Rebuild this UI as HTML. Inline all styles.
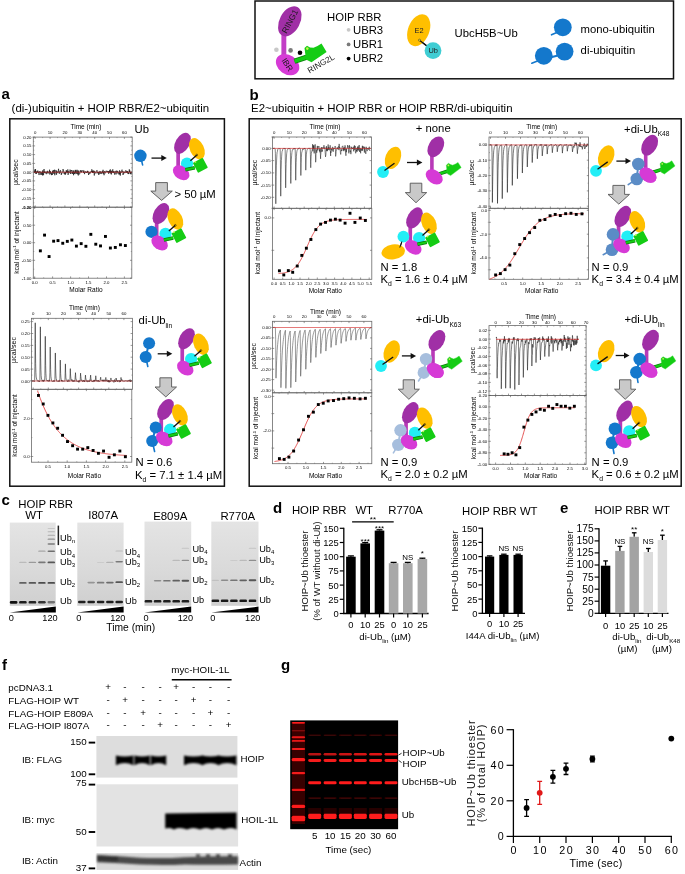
<!DOCTYPE html>
<html><head><meta charset="utf-8"><title>Figure</title>
<style>html,body{margin:0;padding:0;background:#fff;}svg{display:block;}text{font-family:"Liberation Sans", Arial, Helvetica, sans-serif;}</style>
</head><body>
<svg width="685" height="874" viewBox="0 0 685 874">
<rect width="685" height="874" fill="#fff"/>
<rect x="255" y="1" width="418.5" height="77.8" fill="none" stroke="#111" stroke-width="1.5"/>
<rect x="281.4" y="34" width="4.9" height="21.5" fill="#c23ec6"/>
<g transform="translate(289.8,21.3) rotate(28)"><ellipse rx="10.2" ry="16.2" fill="#a02fa6"/><text transform="rotate(-90)" font-size="8.3" text-anchor="middle" y="3.0" fill="#1a1a1a">RING1</text></g>
<g transform="translate(287.6,64.6) rotate(35)"><ellipse rx="12.6" ry="9.6" fill="#d63ad6"/><text font-size="8.3" text-anchor="middle" y="3.0" fill="#1a1a1a" transform="rotate(22)">IBR</text></g>
<circle cx="276.4" cy="49.8" r="2.3" fill="#c8c8c8"/>
<circle cx="290.6" cy="50.4" r="2.3" fill="#7a7a7a"/>
<circle cx="300.0" cy="52.8" r="2.3" fill="#000"/>
<line x1="294.5" y1="61.2" x2="306.5" y2="57.2" stroke="#0a7a0a" stroke-width="5.2"/>
<line x1="294.5" y1="61.2" x2="306.5" y2="57.2" stroke="#14cc14" stroke-width="3.6"/>
<path d="M304.5,48.0 L307.0,45.8 L310.0,47.4 L313.5,47.8 L317.5,46.0 L321.5,43.6 L326.6,52.0 L311.5,62.2 L306.0,59.6Z" fill="#14cc14"/>
<circle cx="307.3" cy="48.6" r="1.3" fill="#c8f050"/>
<text transform="translate(309.6,73.4) rotate(-30)" font-size="8.2" fill="#1a1a1a">RING2L</text>
<text x="327.0" y="20.8" font-size="11.3">HOIP RBR</text>
<circle cx="348.6" cy="29.8" r="1.9" fill="#c8c8c8"/>
<text x="353.0" y="33.6" font-size="11.3">UBR3</text>
<circle cx="348.6" cy="44.4" r="1.9" fill="#7a7a7a"/>
<text x="353.0" y="48.2" font-size="11.3">UBR1</text>
<circle cx="348.6" cy="58.6" r="1.9" fill="#000"/>
<text x="353.0" y="62.4" font-size="11.3">UBR2</text>
<line x1="419.5" y1="40.2" x2="431" y2="49" stroke="#111" stroke-width="1.1"/>
<ellipse cx="0" cy="0" rx="10.6" ry="16.6" fill="#ffbf00" transform="translate(418.70,30.20) rotate(22)"/>
<text x="419.0" y="32.8" font-size="7.4" text-anchor="middle" fill="#222">E2</text>
<line x1="419.5" y1="40.2" x2="428" y2="47" stroke="#111" stroke-width="1.1"/>
<circle cx="419.5" cy="40.2" r="1.1" fill="#e8d020" stroke="#333" stroke-width="0.5"/>
<circle cx="433" cy="50.6" r="8.4" fill="#3fcdd3"/>
<text x="433.2" y="53.2" font-size="7.4" text-anchor="middle" fill="#222">Ub</text>
<text x="454.6" y="37.3" font-size="11.3">UbcH5B~Ub</text>
<line x1="558" y1="32" x2="551.5" y2="34.8" stroke="#1478cc" stroke-width="1.6" stroke-linecap="round"/>
<circle cx="562.8" cy="27.3" r="8.9" fill="#1478cc"/>
<text x="580.6" y="32.6" font-size="11.3">mono-ubiquitin</text>
<line x1="540" y1="60" x2="531.8" y2="63.2" stroke="#1478cc" stroke-width="1.6" stroke-linecap="round"/>
<line x1="548" y1="58" x2="560" y2="55" stroke="#1478cc" stroke-width="2"/>
<circle cx="543.8" cy="55.8" r="8.9" fill="#1478cc"/>
<circle cx="564.6" cy="51.6" r="8.9" fill="#1478cc"/>
<text x="580.6" y="54.4" font-size="11.3">di-ubiquitin</text>
<text x="1.6" y="98.6" font-size="15" font-weight="bold" fill="#000">a</text>
<text x="11.6" y="111.7" font-size="11.45">(di-)ubiquitin + HOIP RBR/E2~ubiquitin</text>
<rect x="9.8" y="118.8" width="214.6" height="367.4" fill="none" stroke="#111" stroke-width="1.5"/>
<rect x="33.3" y="137.1" width="98.9" height="70.1" fill="none" stroke="#6a6a6a" stroke-width="0.8"/>
<line x1="33.3" y1="137.1" x2="35.1" y2="137.1" stroke="#555" stroke-width="0.6"/>
<line x1="32.1" y1="137.1" x2="33.3" y2="137.1" stroke="#777" stroke-width="0.5"/>
<line x1="130.4" y1="137.1" x2="132.2" y2="137.1" stroke="#555" stroke-width="0.6"/>
<text x="31.5" y="138.6" font-size="4.3" text-anchor="end" fill="#000">0.20</text>
<line x1="33.3" y1="145.9" x2="35.1" y2="145.9" stroke="#555" stroke-width="0.6"/>
<line x1="32.1" y1="145.9" x2="33.3" y2="145.9" stroke="#777" stroke-width="0.5"/>
<line x1="130.4" y1="145.9" x2="132.2" y2="145.9" stroke="#555" stroke-width="0.6"/>
<text x="31.5" y="147.4" font-size="4.3" text-anchor="end" fill="#000">0.15</text>
<line x1="33.3" y1="154.6" x2="35.1" y2="154.6" stroke="#555" stroke-width="0.6"/>
<line x1="32.1" y1="154.6" x2="33.3" y2="154.6" stroke="#777" stroke-width="0.5"/>
<line x1="130.4" y1="154.6" x2="132.2" y2="154.6" stroke="#555" stroke-width="0.6"/>
<text x="31.5" y="156.1" font-size="4.3" text-anchor="end" fill="#000">0.10</text>
<line x1="33.3" y1="163.4" x2="35.1" y2="163.4" stroke="#555" stroke-width="0.6"/>
<line x1="32.1" y1="163.4" x2="33.3" y2="163.4" stroke="#777" stroke-width="0.5"/>
<line x1="130.4" y1="163.4" x2="132.2" y2="163.4" stroke="#555" stroke-width="0.6"/>
<text x="31.5" y="164.9" font-size="4.3" text-anchor="end" fill="#000">0.05</text>
<line x1="33.3" y1="172.1" x2="35.1" y2="172.1" stroke="#555" stroke-width="0.6"/>
<line x1="32.1" y1="172.1" x2="33.3" y2="172.1" stroke="#777" stroke-width="0.5"/>
<line x1="130.4" y1="172.1" x2="132.2" y2="172.1" stroke="#555" stroke-width="0.6"/>
<text x="31.5" y="173.6" font-size="4.3" text-anchor="end" fill="#000">0.00</text>
<line x1="33.3" y1="180.9" x2="35.1" y2="180.9" stroke="#555" stroke-width="0.6"/>
<line x1="32.1" y1="180.9" x2="33.3" y2="180.9" stroke="#777" stroke-width="0.5"/>
<line x1="130.4" y1="180.9" x2="132.2" y2="180.9" stroke="#555" stroke-width="0.6"/>
<text x="31.5" y="182.4" font-size="4.3" text-anchor="end" fill="#000">-0.05</text>
<line x1="33.3" y1="189.7" x2="35.1" y2="189.7" stroke="#555" stroke-width="0.6"/>
<line x1="32.1" y1="189.7" x2="33.3" y2="189.7" stroke="#777" stroke-width="0.5"/>
<line x1="130.4" y1="189.7" x2="132.2" y2="189.7" stroke="#555" stroke-width="0.6"/>
<text x="31.5" y="191.2" font-size="4.3" text-anchor="end" fill="#000">-0.10</text>
<line x1="33.3" y1="198.4" x2="35.1" y2="198.4" stroke="#555" stroke-width="0.6"/>
<line x1="32.1" y1="198.4" x2="33.3" y2="198.4" stroke="#777" stroke-width="0.5"/>
<line x1="130.4" y1="198.4" x2="132.2" y2="198.4" stroke="#555" stroke-width="0.6"/>
<text x="31.5" y="199.9" font-size="4.3" text-anchor="end" fill="#000">-0.15</text>
<line x1="33.3" y1="207.2" x2="35.1" y2="207.2" stroke="#555" stroke-width="0.6"/>
<line x1="32.1" y1="207.2" x2="33.3" y2="207.2" stroke="#777" stroke-width="0.5"/>
<line x1="130.4" y1="207.2" x2="132.2" y2="207.2" stroke="#555" stroke-width="0.6"/>
<text x="31.5" y="208.7" font-size="4.3" text-anchor="end" fill="#000">-0.20</text>
<line x1="33.3" y1="141.5" x2="34.3" y2="141.5" stroke="#666" stroke-width="0.5"/>
<line x1="131.2" y1="141.5" x2="132.2" y2="141.5" stroke="#666" stroke-width="0.5"/>
<line x1="33.3" y1="150.2" x2="34.3" y2="150.2" stroke="#666" stroke-width="0.5"/>
<line x1="131.2" y1="150.2" x2="132.2" y2="150.2" stroke="#666" stroke-width="0.5"/>
<line x1="33.3" y1="159.0" x2="34.3" y2="159.0" stroke="#666" stroke-width="0.5"/>
<line x1="131.2" y1="159.0" x2="132.2" y2="159.0" stroke="#666" stroke-width="0.5"/>
<line x1="33.3" y1="167.8" x2="34.3" y2="167.8" stroke="#666" stroke-width="0.5"/>
<line x1="131.2" y1="167.8" x2="132.2" y2="167.8" stroke="#666" stroke-width="0.5"/>
<line x1="33.3" y1="176.5" x2="34.3" y2="176.5" stroke="#666" stroke-width="0.5"/>
<line x1="131.2" y1="176.5" x2="132.2" y2="176.5" stroke="#666" stroke-width="0.5"/>
<line x1="33.3" y1="185.3" x2="34.3" y2="185.3" stroke="#666" stroke-width="0.5"/>
<line x1="131.2" y1="185.3" x2="132.2" y2="185.3" stroke="#666" stroke-width="0.5"/>
<line x1="33.3" y1="194.1" x2="34.3" y2="194.1" stroke="#666" stroke-width="0.5"/>
<line x1="131.2" y1="194.1" x2="132.2" y2="194.1" stroke="#666" stroke-width="0.5"/>
<line x1="33.3" y1="202.8" x2="34.3" y2="202.8" stroke="#666" stroke-width="0.5"/>
<line x1="131.2" y1="202.8" x2="132.2" y2="202.8" stroke="#666" stroke-width="0.5"/>
<line x1="35.2" y1="137.1" x2="35.2" y2="138.9" stroke="#555" stroke-width="0.6"/>
<line x1="35.2" y1="205.4" x2="35.2" y2="207.2" stroke="#555" stroke-width="0.6"/>
<text x="35.2" y="133.9" font-size="4.3" text-anchor="middle" fill="#000">0</text>
<line x1="50.1" y1="137.1" x2="50.1" y2="138.9" stroke="#555" stroke-width="0.6"/>
<line x1="50.1" y1="205.4" x2="50.1" y2="207.2" stroke="#555" stroke-width="0.6"/>
<text x="50.1" y="133.9" font-size="4.3" text-anchor="middle" fill="#000">10</text>
<line x1="64.9" y1="137.1" x2="64.9" y2="138.9" stroke="#555" stroke-width="0.6"/>
<line x1="64.9" y1="205.4" x2="64.9" y2="207.2" stroke="#555" stroke-width="0.6"/>
<text x="64.9" y="133.9" font-size="4.3" text-anchor="middle" fill="#000">20</text>
<line x1="79.8" y1="137.1" x2="79.8" y2="138.9" stroke="#555" stroke-width="0.6"/>
<line x1="79.8" y1="205.4" x2="79.8" y2="207.2" stroke="#555" stroke-width="0.6"/>
<text x="79.8" y="133.9" font-size="4.3" text-anchor="middle" fill="#000">30</text>
<line x1="94.7" y1="137.1" x2="94.7" y2="138.9" stroke="#555" stroke-width="0.6"/>
<line x1="94.7" y1="205.4" x2="94.7" y2="207.2" stroke="#555" stroke-width="0.6"/>
<text x="94.7" y="133.9" font-size="4.3" text-anchor="middle" fill="#000">40</text>
<line x1="109.5" y1="137.1" x2="109.5" y2="138.9" stroke="#555" stroke-width="0.6"/>
<line x1="109.5" y1="205.4" x2="109.5" y2="207.2" stroke="#555" stroke-width="0.6"/>
<text x="109.5" y="133.9" font-size="4.3" text-anchor="middle" fill="#000">50</text>
<line x1="124.4" y1="137.1" x2="124.4" y2="138.9" stroke="#555" stroke-width="0.6"/>
<line x1="124.4" y1="205.4" x2="124.4" y2="207.2" stroke="#555" stroke-width="0.6"/>
<text x="124.4" y="133.9" font-size="4.3" text-anchor="middle" fill="#000">60</text>
<line x1="42.6" y1="137.1" x2="42.6" y2="138.1" stroke="#666" stroke-width="0.5"/>
<line x1="42.6" y1="206.2" x2="42.6" y2="207.2" stroke="#666" stroke-width="0.5"/>
<line x1="57.5" y1="137.1" x2="57.5" y2="138.1" stroke="#666" stroke-width="0.5"/>
<line x1="57.5" y1="206.2" x2="57.5" y2="207.2" stroke="#666" stroke-width="0.5"/>
<line x1="72.4" y1="137.1" x2="72.4" y2="138.1" stroke="#666" stroke-width="0.5"/>
<line x1="72.4" y1="206.2" x2="72.4" y2="207.2" stroke="#666" stroke-width="0.5"/>
<line x1="87.2" y1="137.1" x2="87.2" y2="138.1" stroke="#666" stroke-width="0.5"/>
<line x1="87.2" y1="206.2" x2="87.2" y2="207.2" stroke="#666" stroke-width="0.5"/>
<line x1="102.1" y1="137.1" x2="102.1" y2="138.1" stroke="#666" stroke-width="0.5"/>
<line x1="102.1" y1="206.2" x2="102.1" y2="207.2" stroke="#666" stroke-width="0.5"/>
<line x1="117.0" y1="137.1" x2="117.0" y2="138.1" stroke="#666" stroke-width="0.5"/>
<line x1="117.0" y1="206.2" x2="117.0" y2="207.2" stroke="#666" stroke-width="0.5"/>
<text x="85.9" y="129.3" font-size="6.5" text-anchor="middle" fill="#000">Time (min)</text>
<text transform="translate(18.2,172.2) rotate(-90)" font-size="7.0" text-anchor="middle" fill="#000">µcal/sec</text>
<path d="M34.30,170.67 L34.55,170.71 L34.80,173.07 L35.05,169.22 L35.30,172.01 L35.55,169.27 L35.80,173.63 L36.05,172.46 L36.30,173.96 L36.55,171.54 L36.80,172.72 L37.05,171.83 L37.30,171.24 L37.55,172.39 L37.80,170.57 L38.05,171.74 L38.30,173.11 L38.55,172.27 L38.80,171.67 L39.05,175.05 L39.30,172.28 L39.55,171.44 L39.80,172.41 L40.05,171.52 L40.30,171.70 L40.55,171.74 L40.80,174.83 L41.05,172.23 L41.30,172.43 L41.55,173.08 L41.80,174.82 L42.05,171.91 L42.30,171.39 L42.55,175.42 L42.80,170.30 L43.05,171.72 L43.30,173.07 L43.55,175.17 L43.80,170.97 L44.05,169.04 L44.30,173.06 L44.55,171.52 L44.80,171.70 L45.05,172.80 L45.30,172.49 L45.55,172.58 L45.80,171.64 L46.05,173.88 L46.30,174.16 L46.55,172.24 L46.80,171.61 L47.05,173.15 L47.30,172.82 L47.55,170.85 L47.80,171.60 L48.05,173.56 L48.30,172.07 L48.55,171.77 L48.80,172.48 L49.05,172.16 L49.30,172.20 L49.55,169.69 L49.80,174.47 L50.05,172.46 L50.30,171.06 L50.55,173.47 L50.80,172.60 L51.05,172.22 L51.30,173.56 L51.55,175.14 L51.80,172.92 L52.05,174.26 L52.30,175.00 L52.55,170.87 L52.80,171.52 L53.05,173.21 L53.30,169.98 L53.55,171.85 L53.80,173.88 L54.05,173.56 L54.30,172.95 L54.55,169.74 L54.80,175.26 L55.05,172.92 L55.30,173.20 L55.55,172.84 L55.80,169.97 L56.05,170.33 L56.30,170.62 L56.55,174.69 L56.80,171.12 L57.05,171.89 L57.30,171.87 L57.55,172.94 L57.80,172.85 L58.05,172.55 L58.30,170.56 L58.55,168.82 L58.80,172.42 L59.05,172.55 L59.30,173.80 L59.55,172.07 L59.80,171.41 L60.05,172.73 L60.30,170.18 L60.55,170.85 L60.80,170.89 L61.05,172.57 L61.30,174.92 L61.55,173.19 L61.80,173.68 L62.05,172.51 L62.30,172.56 L62.55,171.62 L62.80,171.83 L63.05,169.04 L63.30,170.64 L63.55,170.53 L63.80,173.29 L64.05,173.06 L64.30,173.68 L64.55,174.22 L64.80,171.80 L65.05,173.57 L65.30,174.74 L65.55,172.19 L65.80,173.61 L66.05,171.99 L66.30,170.10 L66.55,172.36 L66.80,171.13 L67.05,172.34 L67.30,171.60 L67.55,172.62 L67.80,169.42 L68.05,174.91 L68.30,173.97 L68.55,171.74 L68.80,171.02 L69.05,172.21 L69.30,173.08 L69.55,172.75 L69.80,172.72 L70.05,169.64 L70.30,170.73 L70.55,173.95 L70.80,172.51 L71.05,170.22 L71.30,171.07 L71.55,170.32 L71.80,170.87 L72.05,173.74 L72.30,171.91 L72.55,173.67 L72.80,172.45 L73.05,170.22 L73.30,171.35 L73.55,175.22 L73.80,171.19 L74.05,170.82 L74.30,173.83 L74.55,172.32 L74.80,172.19 L75.05,174.14 L75.30,169.87 L75.55,172.75 L75.80,170.80 L76.05,170.34 L76.30,171.12 L76.55,173.73 L76.80,172.01 L77.05,169.77 L77.30,170.73 L77.55,174.22 L77.80,173.56 L78.05,170.75 L78.30,175.42 L78.55,171.71 L78.80,170.61 L79.05,172.02 L79.30,173.44 L79.55,174.34 L79.80,173.57 L80.05,171.63 L80.30,171.45 L80.55,170.27 L80.80,172.10 L81.05,171.41 L81.30,172.53 L81.55,170.52 L81.80,171.51 L82.05,171.03 L82.30,170.60 L82.55,170.63 L82.80,170.85 L83.05,170.63 L83.30,172.96 L83.55,172.33 L83.80,170.44 L84.05,172.88 L84.30,172.58 L84.55,174.14 L84.80,171.94 L85.05,171.92 L85.30,171.28 L85.55,172.37 L85.80,172.86 L86.05,172.43 L86.30,171.86 L86.55,172.95 L86.80,172.32 L87.05,172.53 L87.30,170.96 L87.55,172.47 L87.80,170.87 L88.05,171.08 L88.30,172.41 L88.55,175.00 L88.80,173.53 L89.05,172.21 L89.30,171.96 L89.55,173.51 L89.80,174.04 L90.05,173.82 L90.30,171.95 L90.55,172.45 L90.80,171.76 L91.05,171.82 L91.30,171.06 L91.55,171.87 L91.80,169.34 L92.05,170.61 L92.30,172.77 L92.55,170.97 L92.80,172.92 L93.05,170.48 L93.30,171.71 L93.55,172.73 L93.80,170.82 L94.05,171.25 L94.30,175.49 L94.55,171.29 L94.80,171.26 L95.05,171.44 L95.30,172.24 L95.55,172.16 L95.80,173.51 L96.05,173.25 L96.30,171.66 L96.55,171.73 L96.80,170.32 L97.05,170.21 L97.30,171.22 L97.55,173.17 L97.80,172.36 L98.05,173.27 L98.30,173.45 L98.55,171.98 L98.80,174.99 L99.05,171.50 L99.30,171.37 L99.55,171.63 L99.80,173.71 L100.05,172.02 L100.30,171.22 L100.55,172.78 L100.80,173.71 L101.05,172.05 L101.30,171.86 L101.55,173.64 L101.80,173.51 L102.05,173.46 L102.30,171.18 L102.55,172.58 L102.80,172.68 L103.05,169.81 L103.30,173.80 L103.55,172.33 L103.80,171.75 L104.05,175.21 L104.30,172.39 L104.55,171.24 L104.80,172.12 L105.05,172.95 L105.30,173.28 L105.55,172.12 L105.80,171.05 L106.05,171.27 L106.30,171.11 L106.55,170.80 L106.80,172.17 L107.05,171.55 L107.30,172.27 L107.55,171.10 L107.80,171.05 L108.05,171.95 L108.30,171.74 L108.55,173.73 L108.80,171.00 L109.05,172.47 L109.30,172.15 L109.55,170.46 L109.80,173.17 L110.05,172.42 L110.30,169.41 L110.55,173.00 L110.80,173.44 L111.05,171.14 L111.30,174.45 L111.55,172.41 L111.80,170.67 L112.05,172.95 L112.30,171.72 L112.55,170.42 L112.80,169.35 L113.05,172.53 L113.30,171.22 L113.55,173.05 L113.80,172.71 L114.05,171.51 L114.30,171.50 L114.55,174.54 L114.80,174.46 L115.05,173.20 L115.30,171.73 L115.55,170.90 L115.80,171.69 L116.05,174.41 L116.30,172.81 L116.55,171.82 L116.80,170.57 L117.05,172.42 L117.30,171.04 L117.55,172.22 L117.80,173.18 L118.05,173.62 L118.30,172.39 L118.55,171.75 L118.80,172.50 L119.05,174.59 L119.30,172.70 L119.55,170.35 L119.80,174.26 L120.05,172.53 L120.30,175.58 L120.55,171.58 L120.80,172.08 L121.05,171.81 L121.30,172.70 L121.55,171.43 L121.80,170.25 L122.05,169.66 L122.30,172.04 L122.55,171.52 L122.80,171.43 L123.05,175.00 L123.30,173.25 L123.55,173.64 L123.80,171.54 L124.05,172.60 L124.30,171.92 L124.55,171.93 L124.80,173.19 L125.05,173.00 L125.30,172.60 L125.55,172.40 L125.80,170.29 L126.05,171.22 L126.30,172.70 L126.55,171.72 L126.80,171.17 L127.05,172.67 L127.30,170.98 L127.55,171.31 L127.80,173.37 L128.05,171.73 L128.30,174.09 L128.55,172.89 L128.80,173.27 L129.05,173.69 L129.30,169.35 L129.55,172.10 L129.80,170.50 L130.05,171.59 L130.30,172.06 L130.55,173.84 L130.80,172.14 L131.05,174.37 L131.30,171.51" fill="none" stroke="#111" stroke-width="0.65" stroke-linejoin="round"/>
<line x1="33.8" y1="172.2" x2="131.7" y2="172.2" stroke="#d42020" stroke-width="0.6"/>
<rect x="33.3" y="207.2" width="98.5" height="71.0" fill="none" stroke="#6a6a6a" stroke-width="0.8"/>
<line x1="33.3" y1="207.2" x2="35.1" y2="207.2" stroke="#555" stroke-width="0.6"/>
<line x1="32.1" y1="207.2" x2="33.3" y2="207.2" stroke="#777" stroke-width="0.5"/>
<line x1="130.0" y1="207.2" x2="131.8" y2="207.2" stroke="#555" stroke-width="0.6"/>
<text x="31.5" y="208.7" font-size="4.3" text-anchor="end" fill="#000">1.00</text>
<line x1="33.3" y1="225.2" x2="35.1" y2="225.2" stroke="#555" stroke-width="0.6"/>
<line x1="32.1" y1="225.2" x2="33.3" y2="225.2" stroke="#777" stroke-width="0.5"/>
<line x1="130.0" y1="225.2" x2="131.8" y2="225.2" stroke="#555" stroke-width="0.6"/>
<text x="31.5" y="226.7" font-size="4.3" text-anchor="end" fill="#000">0.50</text>
<line x1="33.3" y1="242.7" x2="35.1" y2="242.7" stroke="#555" stroke-width="0.6"/>
<line x1="32.1" y1="242.7" x2="33.3" y2="242.7" stroke="#777" stroke-width="0.5"/>
<line x1="130.0" y1="242.7" x2="131.8" y2="242.7" stroke="#555" stroke-width="0.6"/>
<text x="31.5" y="244.2" font-size="4.3" text-anchor="end" fill="#000">0.00</text>
<line x1="33.3" y1="260.3" x2="35.1" y2="260.3" stroke="#555" stroke-width="0.6"/>
<line x1="32.1" y1="260.3" x2="33.3" y2="260.3" stroke="#777" stroke-width="0.5"/>
<line x1="130.0" y1="260.3" x2="131.8" y2="260.3" stroke="#555" stroke-width="0.6"/>
<text x="31.5" y="261.8" font-size="4.3" text-anchor="end" fill="#000">-0.50</text>
<line x1="33.3" y1="278.2" x2="35.1" y2="278.2" stroke="#555" stroke-width="0.6"/>
<line x1="32.1" y1="278.2" x2="33.3" y2="278.2" stroke="#777" stroke-width="0.5"/>
<line x1="130.0" y1="278.2" x2="131.8" y2="278.2" stroke="#555" stroke-width="0.6"/>
<text x="31.5" y="279.7" font-size="4.3" text-anchor="end" fill="#000">-1.00</text>
<line x1="33.3" y1="216.2" x2="34.3" y2="216.2" stroke="#666" stroke-width="0.5"/>
<line x1="130.8" y1="216.2" x2="131.8" y2="216.2" stroke="#666" stroke-width="0.5"/>
<line x1="33.3" y1="233.9" x2="34.3" y2="233.9" stroke="#666" stroke-width="0.5"/>
<line x1="130.8" y1="233.9" x2="131.8" y2="233.9" stroke="#666" stroke-width="0.5"/>
<line x1="33.3" y1="251.5" x2="34.3" y2="251.5" stroke="#666" stroke-width="0.5"/>
<line x1="130.8" y1="251.5" x2="131.8" y2="251.5" stroke="#666" stroke-width="0.5"/>
<line x1="33.3" y1="269.2" x2="34.3" y2="269.2" stroke="#666" stroke-width="0.5"/>
<line x1="130.8" y1="269.2" x2="131.8" y2="269.2" stroke="#666" stroke-width="0.5"/>
<line x1="34.7" y1="207.2" x2="34.7" y2="209.0" stroke="#555" stroke-width="0.6"/>
<line x1="34.7" y1="276.4" x2="34.7" y2="278.2" stroke="#555" stroke-width="0.6"/>
<text x="34.7" y="283.8" font-size="4.3" text-anchor="middle" fill="#000">0.0</text>
<line x1="52.6" y1="207.2" x2="52.6" y2="209.0" stroke="#555" stroke-width="0.6"/>
<line x1="52.6" y1="276.4" x2="52.6" y2="278.2" stroke="#555" stroke-width="0.6"/>
<text x="52.6" y="283.8" font-size="4.3" text-anchor="middle" fill="#000">0.5</text>
<line x1="70.6" y1="207.2" x2="70.6" y2="209.0" stroke="#555" stroke-width="0.6"/>
<line x1="70.6" y1="276.4" x2="70.6" y2="278.2" stroke="#555" stroke-width="0.6"/>
<text x="70.6" y="283.8" font-size="4.3" text-anchor="middle" fill="#000">1.0</text>
<line x1="88.5" y1="207.2" x2="88.5" y2="209.0" stroke="#555" stroke-width="0.6"/>
<line x1="88.5" y1="276.4" x2="88.5" y2="278.2" stroke="#555" stroke-width="0.6"/>
<text x="88.5" y="283.8" font-size="4.3" text-anchor="middle" fill="#000">1.5</text>
<line x1="106.5" y1="207.2" x2="106.5" y2="209.0" stroke="#555" stroke-width="0.6"/>
<line x1="106.5" y1="276.4" x2="106.5" y2="278.2" stroke="#555" stroke-width="0.6"/>
<text x="106.5" y="283.8" font-size="4.3" text-anchor="middle" fill="#000">2.0</text>
<line x1="124.4" y1="207.2" x2="124.4" y2="209.0" stroke="#555" stroke-width="0.6"/>
<line x1="124.4" y1="276.4" x2="124.4" y2="278.2" stroke="#555" stroke-width="0.6"/>
<text x="124.4" y="283.8" font-size="4.3" text-anchor="middle" fill="#000">2.5</text>
<line x1="43.7" y1="207.2" x2="43.7" y2="208.2" stroke="#666" stroke-width="0.5"/>
<line x1="43.7" y1="277.2" x2="43.7" y2="278.2" stroke="#666" stroke-width="0.5"/>
<line x1="61.6" y1="207.2" x2="61.6" y2="208.2" stroke="#666" stroke-width="0.5"/>
<line x1="61.6" y1="277.2" x2="61.6" y2="278.2" stroke="#666" stroke-width="0.5"/>
<line x1="79.6" y1="207.2" x2="79.6" y2="208.2" stroke="#666" stroke-width="0.5"/>
<line x1="79.6" y1="277.2" x2="79.6" y2="278.2" stroke="#666" stroke-width="0.5"/>
<line x1="97.5" y1="207.2" x2="97.5" y2="208.2" stroke="#666" stroke-width="0.5"/>
<line x1="97.5" y1="277.2" x2="97.5" y2="278.2" stroke="#666" stroke-width="0.5"/>
<line x1="115.4" y1="207.2" x2="115.4" y2="208.2" stroke="#666" stroke-width="0.5"/>
<line x1="115.4" y1="277.2" x2="115.4" y2="278.2" stroke="#666" stroke-width="0.5"/>
<text x="85.9" y="291.6" font-size="6.5" text-anchor="middle" fill="#000">Molar Ratio</text>
<text transform="translate(18.6,242.5) rotate(-90)" font-size="6.7" text-anchor="middle" fill="#000">kcal mol<tspan font-size="4.2" dy="-2.3">-1</tspan><tspan dy="2.3"> of injectant</tspan></text>
<rect x="38.91" y="249.40" width="2.9" height="2.9" fill="#000"/>
<rect x="43.09" y="233.65" width="2.9" height="2.9" fill="#000"/>
<rect x="47.64" y="255.10" width="2.9" height="2.9" fill="#000"/>
<rect x="52.19" y="239.73" width="2.9" height="2.9" fill="#000"/>
<rect x="56.56" y="239.16" width="2.9" height="2.9" fill="#000"/>
<rect x="61.30" y="241.81" width="2.9" height="2.9" fill="#000"/>
<rect x="65.86" y="239.92" width="2.9" height="2.9" fill="#000"/>
<rect x="70.41" y="238.59" width="2.9" height="2.9" fill="#000"/>
<rect x="74.96" y="244.66" width="2.9" height="2.9" fill="#000"/>
<rect x="79.71" y="242.19" width="2.9" height="2.9" fill="#000"/>
<rect x="84.45" y="244.85" width="2.9" height="2.9" fill="#000"/>
<rect x="89.38" y="232.90" width="2.9" height="2.9" fill="#000"/>
<rect x="94.32" y="242.76" width="2.9" height="2.9" fill="#000"/>
<rect x="99.06" y="244.47" width="2.9" height="2.9" fill="#000"/>
<rect x="104.00" y="234.98" width="2.9" height="2.9" fill="#000"/>
<rect x="108.93" y="246.56" width="2.9" height="2.9" fill="#000"/>
<rect x="113.86" y="245.99" width="2.9" height="2.9" fill="#000"/>
<rect x="118.99" y="243.33" width="2.9" height="2.9" fill="#000"/>
<rect x="123.92" y="244.09" width="2.9" height="2.9" fill="#000"/>
<text x="134.6" y="132.5" font-size="11.3">Ub</text>
<line x1="140.4" y1="155.8" x2="142.6" y2="164.9" stroke="#1478cc" stroke-width="1.6" stroke-linecap="round"/>
<circle cx="140.4" cy="155.8" r="6.2" fill="#1478cc"/>
<line x1="151.5" y1="158.1" x2="162.8" y2="158.1" stroke="#111" stroke-width="1.3"/>
<path d="M166.8,158.1 L161.3,155.1 L161.3,161.1Z" fill="#111"/>
<rect x="176.3" y="151.3" width="3.7" height="15.5" fill="#b83ab8"/>
<ellipse cx="0" cy="0" rx="7.0" ry="11.5" fill="#a02fa6" transform="translate(182.45,143.35) rotate(30)"/>
<ellipse cx="0" cy="0" rx="7.0" ry="11.3" fill="#ffbf00" transform="translate(196.90,148.75) rotate(-25)"/>
<circle cx="187.0" cy="163.5" r="6.1" fill="#22eef6"/>
<ellipse cx="0" cy="0" rx="9.0" ry="6.5" fill="#d63ad6" transform="translate(181.15,172.75) rotate(35)"/>
<line x1="185.4" y1="169.8" x2="194.8" y2="167.7" stroke="#0a7a0a" stroke-width="3.6"/>
<line x1="185.4" y1="169.8" x2="194.8" y2="167.7" stroke="#14cc14" stroke-width="2.2"/>
<rect x="-5.6" y="-5.6" width="11.2" height="11.2" rx="0.8" fill="#14cc14" transform="translate(200.4,165.3) rotate(-28)"/>
<circle cx="195.4" cy="161.9" r="0.9" fill="#c8f050"/>
<line x1="190.4" y1="160.8" x2="196.6" y2="155.2" stroke="#111" stroke-width="1.3"/>
<circle cx="196.8" cy="155.0" r="0.9" fill="none" stroke="#111" stroke-width="0.5"/>
<path d="M155.7,182.6 L167.4,182.6 L167.4,191.1 L172.3,191.1 L161.6,200.4 L150.8,191.1 L155.7,191.1Z" fill="#c9c9c9" stroke="#555" stroke-width="0.9" stroke-linejoin="miter"/>
<text x="174.4" y="197.7" font-size="11.3">&gt; 50 µM</text>
<rect x="154.8" y="221.6" width="3.7" height="15.5" fill="#b83ab8"/>
<ellipse cx="0" cy="0" rx="7.0" ry="11.5" fill="#a02fa6" transform="translate(160.90,213.60) rotate(30)"/>
<ellipse cx="0" cy="0" rx="7.0" ry="11.3" fill="#ffbf00" transform="translate(175.35,219.00) rotate(-25)"/>
<line x1="151.5" y1="231.8" x2="151.5" y2="233.6" stroke="#1478cc" stroke-width="1.6" stroke-linecap="round"/>
<circle cx="151.5" cy="231.8" r="6.1" fill="#1478cc"/>
<circle cx="165.5" cy="233.8" r="6.1" fill="#22eef6"/>
<ellipse cx="0" cy="0" rx="9.0" ry="6.5" fill="#d63ad6" transform="translate(159.60,243.00) rotate(35)"/>
<line x1="163.9" y1="240.0" x2="173.2" y2="237.9" stroke="#0a7a0a" stroke-width="3.6"/>
<line x1="163.9" y1="240.0" x2="173.2" y2="237.9" stroke="#14cc14" stroke-width="2.2"/>
<rect x="-5.6" y="-5.6" width="11.2" height="11.2" rx="0.8" fill="#14cc14" transform="translate(178.9,235.6) rotate(-28)"/>
<circle cx="173.9" cy="232.2" r="0.9" fill="#c8f050"/>
<line x1="168.9" y1="231.1" x2="175.1" y2="225.5" stroke="#111" stroke-width="1.3"/>
<circle cx="175.3" cy="225.3" r="0.9" fill="none" stroke="#111" stroke-width="0.5"/>
<rect x="31.4" y="318.3" width="101.0" height="71.0" fill="none" stroke="#6a6a6a" stroke-width="0.8"/>
<line x1="31.4" y1="321.6" x2="33.2" y2="321.6" stroke="#555" stroke-width="0.6"/>
<line x1="30.2" y1="321.6" x2="31.4" y2="321.6" stroke="#777" stroke-width="0.5"/>
<line x1="130.6" y1="321.6" x2="132.4" y2="321.6" stroke="#555" stroke-width="0.6"/>
<text x="29.6" y="323.1" font-size="4.3" text-anchor="end" fill="#000">0.25</text>
<line x1="31.4" y1="333.5" x2="33.2" y2="333.5" stroke="#555" stroke-width="0.6"/>
<line x1="30.2" y1="333.5" x2="31.4" y2="333.5" stroke="#777" stroke-width="0.5"/>
<line x1="130.6" y1="333.5" x2="132.4" y2="333.5" stroke="#555" stroke-width="0.6"/>
<text x="29.6" y="335.0" font-size="4.3" text-anchor="end" fill="#000">0.20</text>
<line x1="31.4" y1="345.4" x2="33.2" y2="345.4" stroke="#555" stroke-width="0.6"/>
<line x1="30.2" y1="345.4" x2="31.4" y2="345.4" stroke="#777" stroke-width="0.5"/>
<line x1="130.6" y1="345.4" x2="132.4" y2="345.4" stroke="#555" stroke-width="0.6"/>
<text x="29.6" y="346.9" font-size="4.3" text-anchor="end" fill="#000">0.15</text>
<line x1="31.4" y1="357.2" x2="33.2" y2="357.2" stroke="#555" stroke-width="0.6"/>
<line x1="30.2" y1="357.2" x2="31.4" y2="357.2" stroke="#777" stroke-width="0.5"/>
<line x1="130.6" y1="357.2" x2="132.4" y2="357.2" stroke="#555" stroke-width="0.6"/>
<text x="29.6" y="358.7" font-size="4.3" text-anchor="end" fill="#000">0.10</text>
<line x1="31.4" y1="369.1" x2="33.2" y2="369.1" stroke="#555" stroke-width="0.6"/>
<line x1="30.2" y1="369.1" x2="31.4" y2="369.1" stroke="#777" stroke-width="0.5"/>
<line x1="130.6" y1="369.1" x2="132.4" y2="369.1" stroke="#555" stroke-width="0.6"/>
<text x="29.6" y="370.6" font-size="4.3" text-anchor="end" fill="#000">0.05</text>
<line x1="31.4" y1="381.0" x2="33.2" y2="381.0" stroke="#555" stroke-width="0.6"/>
<line x1="30.2" y1="381.0" x2="31.4" y2="381.0" stroke="#777" stroke-width="0.5"/>
<line x1="130.6" y1="381.0" x2="132.4" y2="381.0" stroke="#555" stroke-width="0.6"/>
<text x="29.6" y="382.5" font-size="4.3" text-anchor="end" fill="#000">0.00</text>
<line x1="31.4" y1="327.5" x2="32.4" y2="327.5" stroke="#666" stroke-width="0.5"/>
<line x1="131.4" y1="327.5" x2="132.4" y2="327.5" stroke="#666" stroke-width="0.5"/>
<line x1="31.4" y1="339.4" x2="32.4" y2="339.4" stroke="#666" stroke-width="0.5"/>
<line x1="131.4" y1="339.4" x2="132.4" y2="339.4" stroke="#666" stroke-width="0.5"/>
<line x1="31.4" y1="351.3" x2="32.4" y2="351.3" stroke="#666" stroke-width="0.5"/>
<line x1="131.4" y1="351.3" x2="132.4" y2="351.3" stroke="#666" stroke-width="0.5"/>
<line x1="31.4" y1="363.2" x2="32.4" y2="363.2" stroke="#666" stroke-width="0.5"/>
<line x1="131.4" y1="363.2" x2="132.4" y2="363.2" stroke="#666" stroke-width="0.5"/>
<line x1="31.4" y1="375.1" x2="32.4" y2="375.1" stroke="#666" stroke-width="0.5"/>
<line x1="131.4" y1="375.1" x2="132.4" y2="375.1" stroke="#666" stroke-width="0.5"/>
<line x1="33.2" y1="318.3" x2="33.2" y2="320.1" stroke="#555" stroke-width="0.6"/>
<line x1="33.2" y1="387.5" x2="33.2" y2="389.3" stroke="#555" stroke-width="0.6"/>
<text x="33.2" y="315.1" font-size="4.3" text-anchor="middle" fill="#000">0</text>
<line x1="48.3" y1="318.3" x2="48.3" y2="320.1" stroke="#555" stroke-width="0.6"/>
<line x1="48.3" y1="387.5" x2="48.3" y2="389.3" stroke="#555" stroke-width="0.6"/>
<text x="48.3" y="315.1" font-size="4.3" text-anchor="middle" fill="#000">10</text>
<line x1="63.4" y1="318.3" x2="63.4" y2="320.1" stroke="#555" stroke-width="0.6"/>
<line x1="63.4" y1="387.5" x2="63.4" y2="389.3" stroke="#555" stroke-width="0.6"/>
<text x="63.4" y="315.1" font-size="4.3" text-anchor="middle" fill="#000">20</text>
<line x1="78.6" y1="318.3" x2="78.6" y2="320.1" stroke="#555" stroke-width="0.6"/>
<line x1="78.6" y1="387.5" x2="78.6" y2="389.3" stroke="#555" stroke-width="0.6"/>
<text x="78.6" y="315.1" font-size="4.3" text-anchor="middle" fill="#000">30</text>
<line x1="93.7" y1="318.3" x2="93.7" y2="320.1" stroke="#555" stroke-width="0.6"/>
<line x1="93.7" y1="387.5" x2="93.7" y2="389.3" stroke="#555" stroke-width="0.6"/>
<text x="93.7" y="315.1" font-size="4.3" text-anchor="middle" fill="#000">40</text>
<line x1="108.8" y1="318.3" x2="108.8" y2="320.1" stroke="#555" stroke-width="0.6"/>
<line x1="108.8" y1="387.5" x2="108.8" y2="389.3" stroke="#555" stroke-width="0.6"/>
<text x="108.8" y="315.1" font-size="4.3" text-anchor="middle" fill="#000">50</text>
<line x1="123.9" y1="318.3" x2="123.9" y2="320.1" stroke="#555" stroke-width="0.6"/>
<line x1="123.9" y1="387.5" x2="123.9" y2="389.3" stroke="#555" stroke-width="0.6"/>
<text x="123.9" y="315.1" font-size="4.3" text-anchor="middle" fill="#000">60</text>
<line x1="40.8" y1="318.3" x2="40.8" y2="319.3" stroke="#666" stroke-width="0.5"/>
<line x1="40.8" y1="388.3" x2="40.8" y2="389.3" stroke="#666" stroke-width="0.5"/>
<line x1="55.9" y1="318.3" x2="55.9" y2="319.3" stroke="#666" stroke-width="0.5"/>
<line x1="55.9" y1="388.3" x2="55.9" y2="389.3" stroke="#666" stroke-width="0.5"/>
<line x1="71.0" y1="318.3" x2="71.0" y2="319.3" stroke="#666" stroke-width="0.5"/>
<line x1="71.0" y1="388.3" x2="71.0" y2="389.3" stroke="#666" stroke-width="0.5"/>
<line x1="86.1" y1="318.3" x2="86.1" y2="319.3" stroke="#666" stroke-width="0.5"/>
<line x1="86.1" y1="388.3" x2="86.1" y2="389.3" stroke="#666" stroke-width="0.5"/>
<line x1="101.2" y1="318.3" x2="101.2" y2="319.3" stroke="#666" stroke-width="0.5"/>
<line x1="101.2" y1="388.3" x2="101.2" y2="389.3" stroke="#666" stroke-width="0.5"/>
<line x1="116.4" y1="318.3" x2="116.4" y2="319.3" stroke="#666" stroke-width="0.5"/>
<line x1="116.4" y1="388.3" x2="116.4" y2="389.3" stroke="#666" stroke-width="0.5"/>
<text x="84.4" y="310.3" font-size="6.5" text-anchor="middle" fill="#000">Time (min)</text>
<text transform="translate(16.4,350.0) rotate(-90)" font-size="7.0" text-anchor="middle" fill="#000">µcal/sec</text>
<path d="M32.40,380.86 L32.65,381.28 L32.90,380.88 L33.15,380.83 L33.40,380.49 L33.65,380.88 L33.90,381.61 L34.15,381.23 L34.40,381.57 L34.65,381.14 L34.90,366.62 L35.15,334.17 L35.24,322.79 L35.40,343.52 L35.65,363.57 L35.90,372.52 L36.15,376.99 L36.40,377.97 L36.65,379.01 L36.90,380.01 L37.15,380.50 L37.40,381.05 L37.65,380.92 L37.90,381.26 L38.15,380.63 L38.40,381.16 L38.65,381.21 L38.90,380.63 L39.15,381.94 L39.40,381.31 L39.65,381.66 L39.90,380.66 L40.15,351.77 L40.36,326.83 L40.40,332.42 L40.65,357.25 L40.90,369.75 L41.15,375.46 L41.40,377.97 L41.65,379.11 L41.90,380.05 L42.15,381.35 L42.40,380.40 L42.65,381.06 L42.90,381.20 L43.15,380.16 L43.40,381.02 L43.65,381.71 L43.90,379.89 L44.15,380.82 L44.40,380.94 L44.65,380.55 L44.90,375.73 L45.15,350.60 L45.29,336.33 L45.40,347.19 L45.65,365.30 L45.90,373.46 L46.15,377.65 L46.40,379.90 L46.65,380.27 L46.90,380.61 L47.15,380.06 L47.40,381.23 L47.65,380.61 L47.90,380.72 L48.15,380.29 L48.40,380.46 L48.65,380.70 L48.90,381.71 L49.15,379.88 L49.40,380.20 L49.65,381.13 L49.90,372.56 L50.15,353.21 L50.23,347.02 L50.40,359.19 L50.65,369.45 L50.90,376.22 L51.15,378.16 L51.40,379.19 L51.65,380.95 L51.90,381.32 L52.15,380.95 L52.40,381.07 L52.65,381.21 L52.90,381.86 L53.15,381.33 L53.40,381.28 L53.65,381.30 L53.90,380.14 L54.15,381.70 L54.40,381.53 L54.65,381.29 L54.90,379.91 L55.15,365.14 L55.35,352.96 L55.40,357.09 L55.65,368.07 L55.90,375.06 L56.15,378.70 L56.40,378.88 L56.65,381.20 L56.90,380.97 L57.15,380.75 L57.40,381.10 L57.65,381.32 L57.90,381.05 L58.15,381.62 L58.40,380.63 L58.65,380.77 L58.90,381.57 L59.15,381.01 L59.40,380.52 L59.65,381.52 L59.90,378.77 L60.15,366.10 L60.28,360.09 L60.40,365.20 L60.65,373.56 L60.90,377.31 L61.15,379.07 L61.40,380.91 L61.65,380.01 L61.90,381.49 L62.15,380.20 L62.40,380.52 L62.65,381.32 L62.90,381.61 L63.15,381.47 L63.40,381.19 L63.65,381.08 L63.90,381.08 L64.15,381.32 L64.40,380.90 L64.65,381.15 L64.90,381.31 L65.15,373.70 L65.40,364.62 L65.41,363.89 L65.65,372.74 L65.90,377.91 L66.15,379.13 L66.40,379.76 L66.65,380.30 L66.90,380.75 L67.15,381.39 L67.40,380.76 L67.65,381.18 L67.90,382.00 L68.15,379.58 L68.40,380.38 L68.65,381.13 L68.90,381.22 L69.15,381.13 L69.40,380.76 L69.65,381.36 L69.90,380.92 L70.15,373.62 L70.34,368.64 L70.40,371.88 L70.65,376.08 L70.90,378.19 L71.15,379.72 L71.40,380.28 L71.65,380.67 L71.90,379.43 L72.15,380.66 L72.40,381.52 L72.65,380.34 L72.90,380.96 L73.15,381.52 L73.40,381.47 L73.65,381.82 L73.90,380.06 L74.15,380.81 L74.40,380.81 L74.65,381.34 L74.90,381.60 L75.15,377.07 L75.40,374.48 L75.46,372.68 L75.65,375.30 L75.90,378.98 L76.15,379.00 L76.40,380.52 L76.65,381.38 L76.90,380.78 L77.15,381.04 L77.40,381.41 L77.65,381.06 L77.90,380.94 L78.15,381.84 L78.40,381.57 L78.65,380.84 L78.90,382.43 L79.15,380.37 L79.40,381.50 L79.65,380.85 L79.90,381.07 L80.15,381.18 L80.40,376.56 L80.59,373.16 L80.65,374.78 L80.90,376.94 L81.15,378.59 L81.40,380.57 L81.65,380.09 L81.90,380.25 L82.15,380.10 L82.40,381.65 L82.65,381.39 L82.90,381.80 L83.15,380.48 L83.40,381.00 L83.65,380.37 L83.90,381.42 L84.15,381.87 L84.40,380.51 L84.65,381.86 L84.90,381.54 L85.15,379.87 L85.40,375.58 L85.52,375.06 L85.65,377.66 L85.90,378.93 L86.15,379.68 L86.40,380.74 L86.65,380.99 L86.90,381.71 L87.15,380.38 L87.40,381.60 L87.65,381.80 L87.90,381.79 L88.15,380.90 L88.40,380.59 L88.65,381.56 L88.90,381.06 L89.15,381.07 L89.40,381.78 L89.65,380.86 L89.90,379.74 L90.15,380.79 L90.40,377.28 L90.65,375.06 L90.65,375.59 L90.90,378.31 L91.15,379.26 L91.40,380.31 L91.65,381.12 L91.90,380.88 L92.15,381.65 L92.40,380.93 L92.65,381.55 L92.90,381.81 L93.15,381.88 L93.40,380.63 L93.65,381.48 L93.90,379.97 L94.15,380.40 L94.40,379.92 L94.65,381.59 L94.90,380.32 L95.15,380.99 L95.40,379.95 L95.65,377.13 L95.77,375.77 L95.90,377.08 L96.15,379.37 L96.40,381.12 L96.65,380.60 L96.90,381.09 L97.15,381.45 L97.40,380.84 L97.65,380.28 L97.90,380.68 L98.15,381.58 L98.40,380.09 L98.65,380.67 L98.90,381.55 L99.15,381.44 L99.40,381.00 L99.65,381.44 L99.90,381.09 L100.15,380.35 L100.40,378.89 L100.65,377.29 L100.70,377.20 L100.90,379.35 L101.15,379.63 L101.40,379.99 L101.65,380.32 L101.90,380.03 L102.15,380.87 L102.40,380.32 L102.65,381.19 L102.90,379.69 L103.15,381.18 L103.40,380.65 L103.65,379.93 L103.90,381.40 L104.15,380.85 L104.40,379.77 L104.65,380.52 L104.90,381.16 L105.15,380.75 L105.40,381.23 L105.65,379.24 L105.83,377.44 L105.90,378.49 L106.15,379.77 L106.40,381.04 L106.65,381.03 L106.90,381.08 L107.15,379.77 L107.40,381.45 L107.65,381.70 L107.90,380.83 L108.15,380.74 L108.40,382.06 L108.65,380.03 L108.90,381.26 L109.15,382.33 L109.40,380.49 L109.65,381.38 L109.90,382.04 L110.15,380.93 L110.40,381.31 L110.65,380.54 L110.90,377.96 L110.95,378.15 L111.15,379.35 L111.40,380.38 L111.65,381.07 L111.90,380.79 L112.15,380.80 L112.40,380.40 L112.65,380.78 L112.90,381.48 L113.15,381.05 L113.40,380.53 L113.65,380.54 L113.90,382.43 L114.15,381.63 L114.40,381.35 L114.65,379.57 L114.90,381.34 L115.15,381.26 L115.40,381.93 L115.65,381.06 L115.90,379.20 L116.07,378.15 L116.15,379.01 L116.40,378.81 L116.65,381.02 L116.90,380.91 L117.15,380.48 L117.40,381.66 L117.65,381.96 L117.90,380.21 L118.15,380.63 L118.40,381.16 L118.65,381.10 L118.90,380.78 L119.15,380.46 L119.40,382.17 L119.65,381.57 L119.90,380.34 L120.15,380.26 L120.40,381.94 L120.65,380.80 L120.90,379.27 L121.01,377.44 L121.15,379.09 L121.40,379.37 L121.65,380.58 L121.90,379.54 L122.15,380.45 L122.40,380.90 L122.65,381.26 L122.90,380.58 L123.15,380.92 L123.40,381.25 L123.65,381.21 L123.90,381.35 L124.15,381.11 L124.40,380.82 L124.65,381.43 L124.90,381.03 L125.15,380.55 L125.40,380.66 L125.65,381.00 L125.90,380.94 L126.15,381.09 L126.40,381.00 L126.65,381.10 L126.90,380.93 L127.15,380.31 L127.40,381.23 L127.65,381.58 L127.90,381.24 L128.15,380.90 L128.40,381.25 L128.65,380.47 L128.90,379.96 L129.15,381.03 L129.40,380.49 L129.65,381.41 L129.90,380.40 L130.15,379.57 L130.40,380.43 L130.65,381.87 L130.90,380.79 L131.15,380.25 L131.40,380.58" fill="none" stroke="#222" stroke-width="0.6" stroke-linejoin="round"/>
<line x1="31.9" y1="381.0" x2="131.9" y2="381.0" stroke="#d42020" stroke-width="0.6"/>
<rect x="31.4" y="389.3" width="100.4" height="72.9" fill="none" stroke="#6a6a6a" stroke-width="0.8"/>
<line x1="31.4" y1="380.7" x2="33.2" y2="380.7" stroke="#555" stroke-width="0.6"/>
<line x1="30.2" y1="380.7" x2="31.4" y2="380.7" stroke="#777" stroke-width="0.5"/>
<line x1="130.0" y1="380.7" x2="131.8" y2="380.7" stroke="#555" stroke-width="0.6"/>
<line x1="31.4" y1="418.6" x2="33.2" y2="418.6" stroke="#555" stroke-width="0.6"/>
<line x1="30.2" y1="418.6" x2="31.4" y2="418.6" stroke="#777" stroke-width="0.5"/>
<line x1="130.0" y1="418.6" x2="131.8" y2="418.6" stroke="#555" stroke-width="0.6"/>
<text x="29.6" y="420.1" font-size="4.3" text-anchor="end" fill="#000">2.0</text>
<line x1="31.4" y1="456.5" x2="33.2" y2="456.5" stroke="#555" stroke-width="0.6"/>
<line x1="30.2" y1="456.5" x2="31.4" y2="456.5" stroke="#777" stroke-width="0.5"/>
<line x1="130.0" y1="456.5" x2="131.8" y2="456.5" stroke="#555" stroke-width="0.6"/>
<text x="29.6" y="458.0" font-size="4.3" text-anchor="end" fill="#000">0.0</text>
<line x1="31.4" y1="399.6" x2="32.4" y2="399.6" stroke="#666" stroke-width="0.5"/>
<line x1="130.8" y1="399.6" x2="131.8" y2="399.6" stroke="#666" stroke-width="0.5"/>
<line x1="31.4" y1="437.6" x2="32.4" y2="437.6" stroke="#666" stroke-width="0.5"/>
<line x1="130.8" y1="437.6" x2="131.8" y2="437.6" stroke="#666" stroke-width="0.5"/>
<line x1="48.0" y1="389.3" x2="48.0" y2="391.1" stroke="#555" stroke-width="0.6"/>
<line x1="48.0" y1="460.4" x2="48.0" y2="462.2" stroke="#555" stroke-width="0.6"/>
<text x="48.0" y="467.8" font-size="4.3" text-anchor="middle" fill="#000">0.5</text>
<line x1="67.2" y1="389.3" x2="67.2" y2="391.1" stroke="#555" stroke-width="0.6"/>
<line x1="67.2" y1="460.4" x2="67.2" y2="462.2" stroke="#555" stroke-width="0.6"/>
<text x="67.2" y="467.8" font-size="4.3" text-anchor="middle" fill="#000">1.0</text>
<line x1="86.4" y1="389.3" x2="86.4" y2="391.1" stroke="#555" stroke-width="0.6"/>
<line x1="86.4" y1="460.4" x2="86.4" y2="462.2" stroke="#555" stroke-width="0.6"/>
<text x="86.4" y="467.8" font-size="4.3" text-anchor="middle" fill="#000">1.5</text>
<line x1="105.6" y1="389.3" x2="105.6" y2="391.1" stroke="#555" stroke-width="0.6"/>
<line x1="105.6" y1="460.4" x2="105.6" y2="462.2" stroke="#555" stroke-width="0.6"/>
<text x="105.6" y="467.8" font-size="4.3" text-anchor="middle" fill="#000">2.0</text>
<line x1="124.8" y1="389.3" x2="124.8" y2="391.1" stroke="#555" stroke-width="0.6"/>
<line x1="124.8" y1="460.4" x2="124.8" y2="462.2" stroke="#555" stroke-width="0.6"/>
<text x="124.8" y="467.8" font-size="4.3" text-anchor="middle" fill="#000">2.5</text>
<line x1="38.4" y1="389.3" x2="38.4" y2="390.3" stroke="#666" stroke-width="0.5"/>
<line x1="38.4" y1="461.2" x2="38.4" y2="462.2" stroke="#666" stroke-width="0.5"/>
<line x1="57.6" y1="389.3" x2="57.6" y2="390.3" stroke="#666" stroke-width="0.5"/>
<line x1="57.6" y1="461.2" x2="57.6" y2="462.2" stroke="#666" stroke-width="0.5"/>
<line x1="76.8" y1="389.3" x2="76.8" y2="390.3" stroke="#666" stroke-width="0.5"/>
<line x1="76.8" y1="461.2" x2="76.8" y2="462.2" stroke="#666" stroke-width="0.5"/>
<line x1="96.0" y1="389.3" x2="96.0" y2="390.3" stroke="#666" stroke-width="0.5"/>
<line x1="96.0" y1="461.2" x2="96.0" y2="462.2" stroke="#666" stroke-width="0.5"/>
<line x1="115.2" y1="389.3" x2="115.2" y2="390.3" stroke="#666" stroke-width="0.5"/>
<line x1="115.2" y1="461.2" x2="115.2" y2="462.2" stroke="#666" stroke-width="0.5"/>
<text x="84.4" y="478.2" font-size="6.5" text-anchor="middle" fill="#000">Molar Ratio</text>
<text transform="translate(16.8,425.5) rotate(-90)" font-size="6.7" text-anchor="middle" fill="#000">kcal mol<tspan font-size="4.2" dy="-2.3">-1</tspan><tspan dy="2.3"> of injectant</tspan></text>
<path d="M37.51,390.62 L37.99,392.04 L38.46,393.43 L38.94,394.80 L39.42,396.13 L39.89,397.44 L40.37,398.72 L40.84,399.96 L41.32,401.19 L41.80,402.38 L42.27,403.55 L42.75,404.70 L43.22,405.82 L43.70,406.92 L44.18,407.99 L44.65,409.04 L45.13,410.06 L45.60,411.07 L46.08,412.05 L46.56,413.01 L47.03,413.95 L47.51,414.87 L47.98,415.78 L48.46,416.66 L48.94,417.52 L49.41,418.36 L49.89,419.19 L50.36,420.00 L50.84,420.79 L51.32,421.56 L51.79,422.31 L52.27,423.05 L52.74,423.78 L53.22,424.49 L53.70,425.18 L54.17,425.86 L54.65,426.52 L55.12,427.17 L55.60,427.81 L56.08,428.43 L56.55,429.03 L57.03,429.63 L57.50,430.21 L57.98,430.78 L58.46,431.34 L58.93,431.88 L59.41,432.42 L59.88,432.94 L60.36,433.45 L60.84,433.95 L61.31,434.44 L61.79,434.91 L62.26,435.38 L62.74,435.84 L63.22,436.29 L63.69,436.73 L64.17,437.15 L64.64,437.57 L65.12,437.98 L65.60,438.39 L66.07,438.78 L66.55,439.16 L67.02,439.54 L67.50,439.91 L67.98,440.27 L68.45,440.62 L68.93,440.96 L69.40,441.30 L69.88,441.63 L70.36,441.95 L70.83,442.27 L71.31,442.58 L71.78,442.88 L72.26,443.18 L72.74,443.47 L73.21,443.75 L73.69,444.03 L74.16,444.30 L74.64,444.56 L75.12,444.82 L75.59,445.08 L76.07,445.32 L76.54,445.57 L77.02,445.80 L77.50,446.04 L77.97,446.26 L78.45,446.49 L78.92,446.71 L79.40,446.92 L79.88,447.13 L80.35,447.33 L80.83,447.53 L81.30,447.73 L81.78,447.92 L82.26,448.10 L82.73,448.29 L83.21,448.47 L83.68,448.64 L84.16,448.81 L84.64,448.98 L85.11,449.14 L85.59,449.30 L86.06,449.46 L86.54,449.62 L87.02,449.77 L87.49,449.91 L87.97,450.06 L88.44,450.20 L88.92,450.34 L89.40,450.47 L89.87,450.60 L90.35,450.73 L90.82,450.86 L91.30,450.98 L91.78,451.10 L92.25,451.22 L92.73,451.34 L93.20,451.45 L93.68,451.56 L94.16,451.67 L94.63,451.77 L95.11,451.88 L95.58,451.98 L96.06,452.08 L96.54,452.17 L97.01,452.27 L97.49,452.36 L97.96,452.45 L98.44,452.54 L98.92,452.63 L99.39,452.72 L99.87,452.80 L100.34,452.88 L100.82,452.96 L101.30,453.04 L101.77,453.11 L102.25,453.19 L102.72,453.26 L103.20,453.33 L103.68,453.40 L104.15,453.47 L104.63,453.54 L105.10,453.60 L105.58,453.67 L106.06,453.73 L106.53,453.79 L107.01,453.85 L107.48,453.91 L107.96,453.97 L108.44,454.03 L108.91,454.08 L109.39,454.13 L109.86,454.19 L110.34,454.24 L110.82,454.29 L111.29,454.34 L111.77,454.39 L112.24,454.43 L112.72,454.48 L113.20,454.53 L113.67,454.57 L114.15,454.61 L114.62,454.66 L115.10,454.70 L115.58,454.74 L116.05,454.78 L116.53,454.82 L117.00,454.85 L117.48,454.89 L117.96,454.93 L118.43,454.96 L118.91,455.00 L119.38,455.03 L119.86,455.07 L120.34,455.10 L120.81,455.13 L121.29,455.16 L121.76,455.19 L122.24,455.22 L122.72,455.25 L123.19,455.28 L123.67,455.31 L124.14,455.33 L124.62,455.36 L125.10,455.39 L125.57,455.41 L126.05,455.44 L126.52,455.46 L127.00,455.49" fill="none" stroke="#dd2a2a" stroke-width="0.8"/>
<rect x="37.01" y="393.99" width="2.9" height="2.9" fill="#000"/>
<rect x="41.76" y="402.53" width="2.9" height="2.9" fill="#000"/>
<rect x="46.50" y="413.91" width="2.9" height="2.9" fill="#000"/>
<rect x="51.43" y="421.50" width="2.9" height="2.9" fill="#000"/>
<rect x="56.18" y="426.81" width="2.9" height="2.9" fill="#000"/>
<rect x="61.11" y="433.83" width="2.9" height="2.9" fill="#000"/>
<rect x="66.05" y="440.10" width="2.9" height="2.9" fill="#000"/>
<rect x="71.17" y="444.27" width="2.9" height="2.9" fill="#000"/>
<rect x="76.10" y="447.69" width="2.9" height="2.9" fill="#000"/>
<rect x="81.23" y="447.69" width="2.9" height="2.9" fill="#000"/>
<rect x="86.35" y="446.17" width="2.9" height="2.9" fill="#000"/>
<rect x="91.66" y="449.01" width="2.9" height="2.9" fill="#000"/>
<rect x="96.98" y="451.86" width="2.9" height="2.9" fill="#000"/>
<rect x="102.10" y="449.58" width="2.9" height="2.9" fill="#000"/>
<rect x="107.60" y="455.85" width="2.9" height="2.9" fill="#000"/>
<rect x="112.91" y="453.38" width="2.9" height="2.9" fill="#000"/>
<rect x="118.42" y="449.58" width="2.9" height="2.9" fill="#000"/>
<rect x="123.92" y="455.28" width="2.9" height="2.9" fill="#000"/>
<text x="138.6" y="324.3" font-size="11.3">di-Ub<tspan font-size="6.6" dy="3.4">lin</tspan></text>
<line x1="149.1" y1="343.3" x2="145.7" y2="356.9" stroke="#1478cc" stroke-width="2"/>
<line x1="145.7" y1="356.9" x2="147.8" y2="366.5" stroke="#1478cc" stroke-width="1.6" stroke-linecap="round"/>
<circle cx="149.1" cy="343.3" r="6.0" fill="#1478cc"/>
<circle cx="145.7" cy="356.9" r="6.0" fill="#1478cc"/>
<line x1="157.7" y1="353.8" x2="168.3" y2="353.8" stroke="#111" stroke-width="1.3"/>
<path d="M172.3,353.8 L166.8,350.8 L166.8,356.8Z" fill="#111"/>
<rect x="180.4" y="346.8" width="3.7" height="15.5" fill="#b83ab8"/>
<ellipse cx="0" cy="0" rx="7.0" ry="11.5" fill="#a02fa6" transform="translate(186.50,338.80) rotate(30)"/>
<ellipse cx="0" cy="0" rx="7.0" ry="11.3" fill="#ffbf00" transform="translate(200.95,344.20) rotate(-25)"/>
<circle cx="191.1" cy="359.0" r="6.1" fill="#22eef6"/>
<ellipse cx="0" cy="0" rx="9.0" ry="6.5" fill="#d63ad6" transform="translate(185.20,368.20) rotate(35)"/>
<line x1="189.5" y1="365.2" x2="198.8" y2="363.1" stroke="#0a7a0a" stroke-width="3.6"/>
<line x1="189.5" y1="365.2" x2="198.8" y2="363.1" stroke="#14cc14" stroke-width="2.2"/>
<rect x="-5.6" y="-5.6" width="11.2" height="11.2" rx="0.8" fill="#14cc14" transform="translate(204.5,360.8) rotate(-28)"/>
<circle cx="199.5" cy="357.4" r="0.9" fill="#c8f050"/>
<line x1="194.5" y1="356.3" x2="200.7" y2="350.7" stroke="#111" stroke-width="1.3"/>
<circle cx="200.9" cy="350.5" r="0.9" fill="none" stroke="#111" stroke-width="0.5"/>
<path d="M159.9,377.8 L171.6,377.8 L171.6,387.0 L176.5,387.0 L165.8,396.9 L155.0,387.0 L159.9,387.0Z" fill="#c9c9c9" stroke="#555" stroke-width="0.9" stroke-linejoin="miter"/>
<rect x="159.4" y="417.5" width="3.7" height="15.5" fill="#b83ab8"/>
<ellipse cx="0" cy="0" rx="7.0" ry="11.5" fill="#a02fa6" transform="translate(165.50,409.50) rotate(30)"/>
<ellipse cx="0" cy="0" rx="7.0" ry="11.3" fill="#ffbf00" transform="translate(179.95,414.90) rotate(-25)"/>
<line x1="155.7" y1="427.4" x2="152.2" y2="440.9" stroke="#1478cc" stroke-width="2"/>
<line x1="152.2" y1="440.9" x2="154.6" y2="451.5" stroke="#1478cc" stroke-width="1.6" stroke-linecap="round"/>
<circle cx="155.7" cy="427.4" r="6.0" fill="#1478cc"/>
<circle cx="152.2" cy="440.9" r="6.0" fill="#1478cc"/>
<circle cx="170.1" cy="429.7" r="6.1" fill="#22eef6"/>
<ellipse cx="0" cy="0" rx="9.0" ry="6.5" fill="#d63ad6" transform="translate(164.20,438.90) rotate(35)"/>
<line x1="168.5" y1="435.9" x2="177.8" y2="433.8" stroke="#0a7a0a" stroke-width="3.6"/>
<line x1="168.5" y1="435.9" x2="177.8" y2="433.8" stroke="#14cc14" stroke-width="2.2"/>
<rect x="-5.6" y="-5.6" width="11.2" height="11.2" rx="0.8" fill="#14cc14" transform="translate(183.5,431.5) rotate(-28)"/>
<circle cx="178.5" cy="428.1" r="0.9" fill="#c8f050"/>
<line x1="173.5" y1="427.0" x2="179.7" y2="421.4" stroke="#111" stroke-width="1.3"/>
<circle cx="179.9" cy="421.2" r="0.9" fill="none" stroke="#111" stroke-width="0.5"/>
<text x="135.5" y="465.8" font-size="11.3">N = 0.6</text>
<text x="135.0" y="478.9" font-size="11.3">K<tspan font-size="6.8" dy="2.8">d</tspan><tspan dy="-2.8"> = 7.1 ± 1.4 µM</tspan></text>
<text x="249.4" y="100.0" font-size="15" font-weight="bold" fill="#000">b</text>
<text x="251.0" y="111.6" font-size="11.45">E2~ubiquitin + HOIP RBR or HOIP RBR/di-ubiquitin</text>
<rect x="249.2" y="118.8" width="432.0" height="367.4" fill="none" stroke="#111" stroke-width="1.5"/>
<rect x="272.4" y="137.0" width="99.0" height="71.3" fill="none" stroke="#6a6a6a" stroke-width="0.8"/>
<line x1="272.4" y1="137.0" x2="274.2" y2="137.0" stroke="#555" stroke-width="0.6"/>
<line x1="271.2" y1="137.0" x2="272.4" y2="137.0" stroke="#777" stroke-width="0.5"/>
<line x1="369.6" y1="137.0" x2="371.4" y2="137.0" stroke="#555" stroke-width="0.6"/>
<line x1="272.4" y1="148.4" x2="274.2" y2="148.4" stroke="#555" stroke-width="0.6"/>
<line x1="271.2" y1="148.4" x2="272.4" y2="148.4" stroke="#777" stroke-width="0.5"/>
<line x1="369.6" y1="148.4" x2="371.4" y2="148.4" stroke="#555" stroke-width="0.6"/>
<text x="270.6" y="149.9" font-size="4.3" text-anchor="end" fill="#000">0.00</text>
<line x1="272.4" y1="160.6" x2="274.2" y2="160.6" stroke="#555" stroke-width="0.6"/>
<line x1="271.2" y1="160.6" x2="272.4" y2="160.6" stroke="#777" stroke-width="0.5"/>
<line x1="369.6" y1="160.6" x2="371.4" y2="160.6" stroke="#555" stroke-width="0.6"/>
<text x="270.6" y="162.1" font-size="4.3" text-anchor="end" fill="#000">-0.05</text>
<line x1="272.4" y1="172.9" x2="274.2" y2="172.9" stroke="#555" stroke-width="0.6"/>
<line x1="271.2" y1="172.9" x2="272.4" y2="172.9" stroke="#777" stroke-width="0.5"/>
<line x1="369.6" y1="172.9" x2="371.4" y2="172.9" stroke="#555" stroke-width="0.6"/>
<text x="270.6" y="174.4" font-size="4.3" text-anchor="end" fill="#000">-0.10</text>
<line x1="272.4" y1="185.1" x2="274.2" y2="185.1" stroke="#555" stroke-width="0.6"/>
<line x1="271.2" y1="185.1" x2="272.4" y2="185.1" stroke="#777" stroke-width="0.5"/>
<line x1="369.6" y1="185.1" x2="371.4" y2="185.1" stroke="#555" stroke-width="0.6"/>
<text x="270.6" y="186.6" font-size="4.3" text-anchor="end" fill="#000">-0.15</text>
<line x1="272.4" y1="197.3" x2="274.2" y2="197.3" stroke="#555" stroke-width="0.6"/>
<line x1="271.2" y1="197.3" x2="272.4" y2="197.3" stroke="#777" stroke-width="0.5"/>
<line x1="369.6" y1="197.3" x2="371.4" y2="197.3" stroke="#555" stroke-width="0.6"/>
<text x="270.6" y="198.8" font-size="4.3" text-anchor="end" fill="#000">-0.20</text>
<line x1="272.4" y1="208.3" x2="274.2" y2="208.3" stroke="#555" stroke-width="0.6"/>
<line x1="271.2" y1="208.3" x2="272.4" y2="208.3" stroke="#777" stroke-width="0.5"/>
<line x1="369.6" y1="208.3" x2="371.4" y2="208.3" stroke="#555" stroke-width="0.6"/>
<line x1="274.1" y1="137.0" x2="274.1" y2="138.8" stroke="#555" stroke-width="0.6"/>
<line x1="274.1" y1="206.5" x2="274.1" y2="208.3" stroke="#555" stroke-width="0.6"/>
<text x="274.1" y="133.8" font-size="4.3" text-anchor="middle" fill="#000">0</text>
<line x1="289.2" y1="137.0" x2="289.2" y2="138.8" stroke="#555" stroke-width="0.6"/>
<line x1="289.2" y1="206.5" x2="289.2" y2="208.3" stroke="#555" stroke-width="0.6"/>
<text x="289.2" y="133.8" font-size="4.3" text-anchor="middle" fill="#000">10</text>
<line x1="304.2" y1="137.0" x2="304.2" y2="138.8" stroke="#555" stroke-width="0.6"/>
<line x1="304.2" y1="206.5" x2="304.2" y2="208.3" stroke="#555" stroke-width="0.6"/>
<text x="304.2" y="133.8" font-size="4.3" text-anchor="middle" fill="#000">20</text>
<line x1="319.2" y1="137.0" x2="319.2" y2="138.8" stroke="#555" stroke-width="0.6"/>
<line x1="319.2" y1="206.5" x2="319.2" y2="208.3" stroke="#555" stroke-width="0.6"/>
<text x="319.2" y="133.8" font-size="4.3" text-anchor="middle" fill="#000">30</text>
<line x1="334.3" y1="137.0" x2="334.3" y2="138.8" stroke="#555" stroke-width="0.6"/>
<line x1="334.3" y1="206.5" x2="334.3" y2="208.3" stroke="#555" stroke-width="0.6"/>
<text x="334.3" y="133.8" font-size="4.3" text-anchor="middle" fill="#000">40</text>
<line x1="349.4" y1="137.0" x2="349.4" y2="138.8" stroke="#555" stroke-width="0.6"/>
<line x1="349.4" y1="206.5" x2="349.4" y2="208.3" stroke="#555" stroke-width="0.6"/>
<text x="349.4" y="133.8" font-size="4.3" text-anchor="middle" fill="#000">50</text>
<line x1="364.4" y1="137.0" x2="364.4" y2="138.8" stroke="#555" stroke-width="0.6"/>
<line x1="364.4" y1="206.5" x2="364.4" y2="208.3" stroke="#555" stroke-width="0.6"/>
<text x="364.4" y="133.8" font-size="4.3" text-anchor="middle" fill="#000">60</text>
<line x1="281.6" y1="137.0" x2="281.6" y2="138.0" stroke="#666" stroke-width="0.5"/>
<line x1="281.6" y1="207.3" x2="281.6" y2="208.3" stroke="#666" stroke-width="0.5"/>
<line x1="296.7" y1="137.0" x2="296.7" y2="138.0" stroke="#666" stroke-width="0.5"/>
<line x1="296.7" y1="207.3" x2="296.7" y2="208.3" stroke="#666" stroke-width="0.5"/>
<line x1="311.7" y1="137.0" x2="311.7" y2="138.0" stroke="#666" stroke-width="0.5"/>
<line x1="311.7" y1="207.3" x2="311.7" y2="208.3" stroke="#666" stroke-width="0.5"/>
<line x1="326.8" y1="137.0" x2="326.8" y2="138.0" stroke="#666" stroke-width="0.5"/>
<line x1="326.8" y1="207.3" x2="326.8" y2="208.3" stroke="#666" stroke-width="0.5"/>
<line x1="341.8" y1="137.0" x2="341.8" y2="138.0" stroke="#666" stroke-width="0.5"/>
<line x1="341.8" y1="207.3" x2="341.8" y2="208.3" stroke="#666" stroke-width="0.5"/>
<line x1="356.9" y1="137.0" x2="356.9" y2="138.0" stroke="#666" stroke-width="0.5"/>
<line x1="356.9" y1="207.3" x2="356.9" y2="208.3" stroke="#666" stroke-width="0.5"/>
<text x="325.0" y="129.4" font-size="6.5" text-anchor="middle" fill="#000">Time (min)</text>
<text transform="translate(257.0,172.6) rotate(-90)" font-size="7.0" text-anchor="middle" fill="#000">µcal/sec</text>
<path d="M273.40,147.97 L273.65,148.53 L273.90,148.75 L274.15,148.22 L274.40,147.93 L274.65,148.38 L274.90,148.57 L275.15,148.78 L275.40,153.33 L275.65,184.07 L275.81,203.77 L275.90,194.57 L276.15,176.42 L276.40,165.83 L276.65,158.99 L276.90,154.58 L277.15,152.07 L277.40,151.59 L277.65,149.69 L277.90,148.97 L278.15,148.51 L278.40,148.74 L278.65,148.64 L278.90,148.39 L279.15,148.45 L279.40,148.54 L279.65,148.67 L279.90,148.80 L280.15,148.48 L280.40,159.45 L280.65,186.87 L280.74,196.18 L280.90,182.60 L281.15,169.39 L281.40,160.65 L281.65,156.14 L281.90,152.82 L282.15,151.32 L282.40,151.04 L282.65,149.43 L282.90,149.33 L283.15,148.32 L283.40,148.53 L283.65,148.77 L283.90,148.45 L284.15,148.58 L284.40,148.47 L284.65,148.07 L284.90,148.61 L285.15,148.12 L285.40,164.51 L285.65,185.59 L285.67,187.83 L285.90,173.71 L286.15,163.61 L286.40,157.96 L286.65,153.78 L286.90,152.14 L287.15,150.41 L287.40,150.09 L287.65,149.38 L287.90,148.91 L288.15,148.41 L288.40,148.84 L288.65,148.67 L288.90,149.04 L289.15,148.31 L289.40,148.62 L289.65,148.59 L289.90,148.51 L290.15,148.48 L290.40,152.60 L290.65,171.81 L290.80,183.46 L290.90,176.58 L291.15,165.57 L291.40,159.10 L291.65,155.30 L291.90,152.60 L292.15,151.11 L292.40,150.09 L292.65,149.51 L292.90,148.99 L293.15,148.99 L293.40,149.21 L293.65,148.40 L293.90,148.23 L294.15,149.13 L294.40,148.51 L294.65,148.76 L294.90,148.72 L295.15,148.01 L295.40,157.71 L295.65,175.16 L295.73,180.24 L295.90,171.15 L296.15,162.42 L296.40,156.79 L296.65,153.15 L296.90,151.43 L297.15,150.39 L297.40,149.92 L297.65,149.33 L297.90,148.84 L298.15,149.13 L298.40,148.29 L298.65,148.77 L298.90,148.85 L299.15,148.33 L299.40,147.79 L299.65,148.10 L299.90,148.49 L300.15,148.59 L300.40,148.94 L300.65,162.87 L300.85,175.50 L300.90,173.11 L301.15,163.61 L301.40,157.43 L301.65,153.08 L301.90,152.03 L302.15,151.24 L302.40,149.98 L302.65,148.83 L302.90,148.71 L303.15,148.75 L303.40,149.44 L303.65,148.72 L303.90,148.50 L304.15,148.98 L304.40,148.39 L304.65,149.07 L304.90,148.17 L305.15,148.24 L305.40,151.68 L305.65,164.03 L305.79,170.18 L305.90,166.02 L306.15,159.06 L306.40,154.16 L306.65,152.03 L306.90,150.54 L307.15,149.64 L307.40,149.47 L307.65,148.81 L307.90,148.99 L308.15,148.62 L308.40,148.40 L308.65,148.51 L308.90,148.59 L309.15,148.73 L309.40,148.25 L309.65,148.33 L309.90,147.93 L310.15,148.96 L310.40,154.44 L310.65,164.60 L310.72,167.72 L310.90,161.74 L311.15,156.16 L311.40,153.43 L311.65,151.49 L311.90,150.99 L312.15,149.98 L312.40,147.59 L312.65,144.16 L312.90,151.33 L313.15,148.91 L313.40,145.43 L313.65,148.80 L313.90,145.38 L314.15,153.36 L314.40,150.54 L314.65,149.50 L314.90,148.07 L315.15,144.34 L315.40,154.16 L315.65,159.12 L315.65,162.21 L315.90,157.99 L316.15,149.47 L316.40,149.79 L316.65,152.60 L316.90,152.67 L317.15,146.85 L317.40,145.91 L317.65,150.33 L317.90,150.18 L318.15,146.62 L318.40,147.14 L318.65,147.12 L318.90,146.16 L319.15,147.12 L319.40,150.78 L319.65,149.72 L319.90,152.31 L320.15,148.51 L320.40,154.19 L320.59,158.80 L320.65,155.72 L320.90,153.74 L321.15,149.29 L321.40,147.07 L321.65,150.97 L321.90,151.89 L322.15,150.45 L322.40,151.21 L322.65,149.05 L322.90,147.14 L323.15,148.63 L323.40,147.73 L323.65,146.31 L323.90,145.20 L324.15,145.59 L324.40,148.39 L324.65,148.69 L324.90,147.50 L325.15,152.59 L325.40,154.94 L325.52,156.90 L325.65,156.09 L325.90,154.70 L326.15,149.26 L326.40,146.13 L326.65,150.72 L326.90,147.63 L327.15,151.22 L327.40,149.24 L327.65,150.43 L327.90,149.92 L328.15,144.49 L328.40,149.79 L328.65,147.14 L328.90,146.97 L329.15,147.58 L329.40,149.86 L329.65,150.08 L329.90,150.32 L330.15,145.25 L330.40,150.72 L330.65,155.95 L330.65,151.36 L330.90,152.74 L331.15,152.29 L331.40,148.62 L331.65,149.88 L331.90,149.45 L332.15,150.69 L332.40,147.07 L332.65,146.96 L332.90,147.03 L333.15,151.78 L333.40,150.50 L333.65,148.18 L333.90,148.84 L334.15,148.62 L334.40,148.79 L334.65,148.01 L334.90,147.77 L335.15,146.01 L335.40,148.38 L335.65,156.40 L335.77,155.00 L335.90,154.49 L336.15,151.60 L336.40,149.86 L336.65,149.65 L336.90,149.76 L337.15,147.59 L337.40,149.03 L337.65,149.01 L337.90,147.07 L338.15,146.96 L338.40,146.54 L338.65,146.40 L338.90,150.10 L339.15,143.92 L339.40,147.90 L339.65,147.24 L339.90,147.22 L340.15,148.59 L340.40,152.53 L340.65,153.88 L340.70,154.43 L340.90,152.19 L341.15,149.70 L341.40,149.65 L341.65,151.04 L341.90,148.20 L342.15,146.56 L342.40,146.20 L342.65,146.42 L342.90,145.83 L343.15,150.53 L343.40,149.10 L343.65,147.97 L343.90,151.18 L344.15,147.16 L344.40,149.83 L344.65,149.92 L344.90,145.46 L345.15,145.44 L345.40,146.95 L345.65,153.57 L345.83,154.05 L345.90,155.73 L346.15,149.02 L346.40,152.18 L346.65,148.76 L346.90,148.31 L347.15,147.75 L347.40,148.03 L347.65,145.09 L347.90,146.59 L348.15,146.11 L348.40,149.36 L348.65,152.39 L348.90,153.35 L349.15,147.77 L349.40,145.13 L349.65,147.63 L349.90,146.62 L350.15,152.17 L350.40,150.55 L350.65,151.01 L350.76,153.67 L350.90,154.16 L351.15,151.83 L351.40,146.78 L351.65,148.28 L351.90,148.48 L352.15,148.76 L352.40,148.85 L352.65,147.88 L352.90,148.83 L353.15,147.33 L353.40,146.72 L353.65,151.30 L353.90,149.09 L354.15,149.24 L354.40,145.37 L354.65,148.09 L354.90,149.96 L355.15,145.95 L355.40,152.20 L355.65,152.09 L355.69,153.29 L355.90,152.40 L356.15,150.11 L356.40,150.00 L356.65,151.41 L356.90,148.07 L357.15,151.64 L357.40,147.08 L357.65,146.73 L357.90,149.81 L358.15,146.41 L358.40,147.72 L358.65,150.14 L358.90,150.71 L359.15,145.03 L359.40,149.36 L359.65,151.98 L359.90,150.67 L360.15,147.94 L360.40,149.69 L360.63,153.29 L360.65,152.50 L360.90,149.04 L361.15,149.61 L361.40,149.09 L361.65,148.75 L361.90,151.03 L362.15,148.20 L362.40,145.77 L362.65,150.48 L362.90,146.41 L363.15,147.58 L363.40,148.16 L363.65,147.76 L363.90,146.50 L364.15,147.93 L364.40,152.55 L364.65,147.25 L364.90,148.14 L365.15,150.54 L365.40,150.87 L365.65,153.51 L365.75,153.10 L365.90,153.52 L366.15,146.77 L366.40,148.04 L366.65,149.42 L366.90,149.82 L367.15,151.15 L367.40,149.47 L367.65,148.05 L367.90,148.54 L368.15,148.04 L368.40,148.89 L368.65,149.70 L368.90,147.76 L369.15,146.86 L369.40,146.78 L369.65,150.49 L369.90,150.84 L370.15,150.29 L370.40,150.03" fill="none" stroke="#222" stroke-width="0.55" stroke-linejoin="round"/>
<line x1="272.9" y1="148.4" x2="370.9" y2="148.4" stroke="#d42020" stroke-width="0.6"/>
<rect x="272.4" y="208.3" width="99.4" height="71.0" fill="none" stroke="#6a6a6a" stroke-width="0.8"/>
<line x1="272.4" y1="217.9" x2="274.2" y2="217.9" stroke="#555" stroke-width="0.6"/>
<line x1="271.2" y1="217.9" x2="272.4" y2="217.9" stroke="#777" stroke-width="0.5"/>
<line x1="370.0" y1="217.9" x2="371.8" y2="217.9" stroke="#555" stroke-width="0.6"/>
<text x="270.6" y="219.4" font-size="4.3" text-anchor="end" fill="#000">0.0</text>
<line x1="272.4" y1="250.3" x2="274.2" y2="250.3" stroke="#555" stroke-width="0.6"/>
<line x1="271.2" y1="250.3" x2="272.4" y2="250.3" stroke="#777" stroke-width="0.5"/>
<line x1="370.0" y1="250.3" x2="371.8" y2="250.3" stroke="#555" stroke-width="0.6"/>
<line x1="274.1" y1="208.3" x2="274.1" y2="210.1" stroke="#555" stroke-width="0.6"/>
<line x1="274.1" y1="277.5" x2="274.1" y2="279.3" stroke="#555" stroke-width="0.6"/>
<text x="274.1" y="284.9" font-size="4.3" text-anchor="middle" fill="#000">0.0</text>
<line x1="282.7" y1="208.3" x2="282.7" y2="210.1" stroke="#555" stroke-width="0.6"/>
<line x1="282.7" y1="277.5" x2="282.7" y2="279.3" stroke="#555" stroke-width="0.6"/>
<text x="282.7" y="284.9" font-size="4.3" text-anchor="middle" fill="#000">0.5</text>
<line x1="291.4" y1="208.3" x2="291.4" y2="210.1" stroke="#555" stroke-width="0.6"/>
<line x1="291.4" y1="277.5" x2="291.4" y2="279.3" stroke="#555" stroke-width="0.6"/>
<text x="291.4" y="284.9" font-size="4.3" text-anchor="middle" fill="#000">1.0</text>
<line x1="300.0" y1="208.3" x2="300.0" y2="210.1" stroke="#555" stroke-width="0.6"/>
<line x1="300.0" y1="277.5" x2="300.0" y2="279.3" stroke="#555" stroke-width="0.6"/>
<text x="300.0" y="284.9" font-size="4.3" text-anchor="middle" fill="#000">1.5</text>
<line x1="308.7" y1="208.3" x2="308.7" y2="210.1" stroke="#555" stroke-width="0.6"/>
<line x1="308.7" y1="277.5" x2="308.7" y2="279.3" stroke="#555" stroke-width="0.6"/>
<text x="308.7" y="284.9" font-size="4.3" text-anchor="middle" fill="#000">2.0</text>
<line x1="317.3" y1="208.3" x2="317.3" y2="210.1" stroke="#555" stroke-width="0.6"/>
<line x1="317.3" y1="277.5" x2="317.3" y2="279.3" stroke="#555" stroke-width="0.6"/>
<text x="317.3" y="284.9" font-size="4.3" text-anchor="middle" fill="#000">2.5</text>
<line x1="326.0" y1="208.3" x2="326.0" y2="210.1" stroke="#555" stroke-width="0.6"/>
<line x1="326.0" y1="277.5" x2="326.0" y2="279.3" stroke="#555" stroke-width="0.6"/>
<text x="326.0" y="284.9" font-size="4.3" text-anchor="middle" fill="#000">3.0</text>
<line x1="334.6" y1="208.3" x2="334.6" y2="210.1" stroke="#555" stroke-width="0.6"/>
<line x1="334.6" y1="277.5" x2="334.6" y2="279.3" stroke="#555" stroke-width="0.6"/>
<text x="334.6" y="284.9" font-size="4.3" text-anchor="middle" fill="#000">3.5</text>
<line x1="343.3" y1="208.3" x2="343.3" y2="210.1" stroke="#555" stroke-width="0.6"/>
<line x1="343.3" y1="277.5" x2="343.3" y2="279.3" stroke="#555" stroke-width="0.6"/>
<text x="343.3" y="284.9" font-size="4.3" text-anchor="middle" fill="#000">4.0</text>
<line x1="351.9" y1="208.3" x2="351.9" y2="210.1" stroke="#555" stroke-width="0.6"/>
<line x1="351.9" y1="277.5" x2="351.9" y2="279.3" stroke="#555" stroke-width="0.6"/>
<text x="351.9" y="284.9" font-size="4.3" text-anchor="middle" fill="#000">4.5</text>
<line x1="360.6" y1="208.3" x2="360.6" y2="210.1" stroke="#555" stroke-width="0.6"/>
<line x1="360.6" y1="277.5" x2="360.6" y2="279.3" stroke="#555" stroke-width="0.6"/>
<text x="360.6" y="284.9" font-size="4.3" text-anchor="middle" fill="#000">5.0</text>
<line x1="369.2" y1="208.3" x2="369.2" y2="210.1" stroke="#555" stroke-width="0.6"/>
<line x1="369.2" y1="277.5" x2="369.2" y2="279.3" stroke="#555" stroke-width="0.6"/>
<text x="369.2" y="284.9" font-size="4.3" text-anchor="middle" fill="#000">5.5</text>
<text x="325.3" y="293.4" font-size="6.5" text-anchor="middle" fill="#000">Molar Ratio</text>
<text transform="translate(259.5,243.2) rotate(-90)" font-size="6.7" text-anchor="middle" fill="#000">kcal mol<tspan font-size="4.2" dy="-2.3">-1</tspan><tspan dy="2.3"> of injectant</tspan></text>
<path d="M278.50,273.59 L278.94,273.55 L279.38,273.51 L279.83,273.47 L280.27,273.43 L280.71,273.38 L281.15,273.33 L281.60,273.28 L282.04,273.22 L282.48,273.16 L282.93,273.09 L283.37,273.02 L283.81,272.94 L284.25,272.86 L284.69,272.77 L285.14,272.67 L285.58,272.57 L286.02,272.46 L286.46,272.34 L286.91,272.22 L287.35,272.08 L287.79,271.94 L288.24,271.78 L288.68,271.62 L289.12,271.44 L289.56,271.25 L290.00,271.05 L290.45,270.83 L290.89,270.60 L291.33,270.35 L291.77,270.09 L292.22,269.81 L292.66,269.51 L293.10,269.20 L293.55,268.86 L293.99,268.50 L294.43,268.12 L294.87,267.72 L295.31,267.29 L295.76,266.85 L296.20,266.37 L296.64,265.87 L297.08,265.34 L297.53,264.79 L297.97,264.21 L298.41,263.60 L298.86,262.96 L299.30,262.29 L299.74,261.59 L300.18,260.87 L300.62,260.12 L301.07,259.33 L301.51,258.53 L301.95,257.69 L302.39,256.83 L302.84,255.95 L303.28,255.05 L303.72,254.12 L304.17,253.18 L304.61,252.21 L305.05,251.24 L305.49,250.25 L305.94,249.25 L306.38,248.25 L306.82,247.24 L307.26,246.23 L307.70,245.23 L308.15,244.22 L308.59,243.23 L309.03,242.24 L309.48,241.26 L309.92,240.30 L310.36,239.36 L310.80,238.43 L311.25,237.52 L311.69,236.64 L312.13,235.78 L312.57,234.95 L313.01,234.14 L313.46,233.36 L313.90,232.60 L314.34,231.88 L314.78,231.18 L315.23,230.51 L315.67,229.88 L316.11,229.26 L316.56,228.68 L317.00,228.13 L317.44,227.60 L317.88,227.10 L318.32,226.62 L318.77,226.17 L319.21,225.75 L319.65,225.34 L320.10,224.97 L320.54,224.61 L320.98,224.27 L321.42,223.95 L321.87,223.65 L322.31,223.37 L322.75,223.11 L323.19,222.86 L323.63,222.63 L324.08,222.42 L324.52,222.21 L324.96,222.02 L325.40,221.85 L325.85,221.68 L326.29,221.52 L326.73,221.38 L327.18,221.24 L327.62,221.12 L328.06,221.00 L328.50,220.89 L328.94,220.79 L329.39,220.69 L329.83,220.60 L330.27,220.52 L330.72,220.44 L331.16,220.37 L331.60,220.30 L332.04,220.24 L332.49,220.18 L332.93,220.13 L333.37,220.08 L333.81,220.03 L334.25,219.99 L334.70,219.95 L335.14,219.91 L335.58,219.87 L336.02,219.84 L336.47,219.81 L336.91,219.78 L337.35,219.76 L337.80,219.73 L338.24,219.71 L338.68,219.69 L339.12,219.67 L339.56,219.65 L340.01,219.63 L340.45,219.62 L340.89,219.60 L341.33,219.59 L341.78,219.58 L342.22,219.57 L342.66,219.55 L343.11,219.54 L343.55,219.53 L343.99,219.53 L344.43,219.52 L344.88,219.51 L345.32,219.50 L345.76,219.50 L346.20,219.49 L346.64,219.49 L347.09,219.48 L347.53,219.48 L347.97,219.47 L348.42,219.47 L348.86,219.46 L349.30,219.46 L349.74,219.46 L350.19,219.45 L350.63,219.45 L351.07,219.45 L351.51,219.44 L351.95,219.44 L352.40,219.44 L352.84,219.44 L353.28,219.44 L353.73,219.43 L354.17,219.43 L354.61,219.43 L355.05,219.43 L355.50,219.43 L355.94,219.43 L356.38,219.43 L356.82,219.43 L357.26,219.42 L357.71,219.42 L358.15,219.42 L358.59,219.42 L359.03,219.42 L359.48,219.42 L359.92,219.42 L360.36,219.42 L360.81,219.42 L361.25,219.42 L361.69,219.42 L362.13,219.42 L362.57,219.42 L363.02,219.42 L363.46,219.42 L363.90,219.42 L364.35,219.42 L364.79,219.42 L365.23,219.42 L365.67,219.42 L366.12,219.41 L366.56,219.41 L367.00,219.41" fill="none" stroke="#dd2a2a" stroke-width="0.8"/>
<rect x="277.96" y="269.33" width="2.9" height="2.9" fill="#000"/>
<rect x="282.33" y="273.50" width="2.9" height="2.9" fill="#000"/>
<rect x="286.88" y="269.14" width="2.9" height="2.9" fill="#000"/>
<rect x="291.24" y="270.85" width="2.9" height="2.9" fill="#000"/>
<rect x="295.80" y="264.58" width="2.9" height="2.9" fill="#000"/>
<rect x="300.35" y="253.96" width="2.9" height="2.9" fill="#000"/>
<rect x="304.91" y="246.75" width="2.9" height="2.9" fill="#000"/>
<rect x="309.46" y="238.02" width="2.9" height="2.9" fill="#000"/>
<rect x="314.39" y="228.15" width="2.9" height="2.9" fill="#000"/>
<rect x="319.14" y="222.65" width="2.9" height="2.9" fill="#000"/>
<rect x="324.07" y="220.94" width="2.9" height="2.9" fill="#000"/>
<rect x="329.01" y="218.66" width="2.9" height="2.9" fill="#000"/>
<rect x="333.94" y="217.72" width="2.9" height="2.9" fill="#000"/>
<rect x="338.68" y="218.66" width="2.9" height="2.9" fill="#000"/>
<rect x="343.62" y="221.70" width="2.9" height="2.9" fill="#000"/>
<rect x="348.55" y="211.83" width="2.9" height="2.9" fill="#000"/>
<rect x="353.48" y="220.94" width="2.9" height="2.9" fill="#000"/>
<rect x="358.80" y="216.58" width="2.9" height="2.9" fill="#000"/>
<rect x="363.92" y="219.04" width="2.9" height="2.9" fill="#000"/>
<text x="415.8" y="132.3" font-size="11.3">+ none</text>
<line x1="383.0" y1="172.0" x2="394.0" y2="163.8" stroke="#111" stroke-width="1"/>
<ellipse cx="0" cy="0" rx="7.6" ry="11.6" fill="#ffbf00" transform="translate(393.00,157.80) rotate(22)"/>
<circle cx="383.0" cy="172.0" r="5.9" fill="#22eef6"/>
<line x1="384.5" y1="170.5" x2="394.5" y2="163.3" stroke="#111" stroke-width="1.3"/>
<line x1="407.0" y1="162.5" x2="418.4" y2="162.5" stroke="#111" stroke-width="1.3"/>
<path d="M422.4,162.5 L416.9,159.5 L416.9,165.5Z" fill="#111"/>
<rect x="430.1" y="155.8" width="3.6" height="15" fill="#b83ab8"/>
<ellipse cx="0" cy="0" rx="7.3" ry="11.2" fill="#a02fa6" transform="translate(435.80,146.80) rotate(30)"/>
<line x1="438.4" y1="174.1" x2="448.1" y2="171.0" stroke="#0a7a0a" stroke-width="3.6"/>
<line x1="438.4" y1="174.1" x2="448.1" y2="171.0" stroke="#14cc14" stroke-width="2.2"/>
<ellipse cx="0" cy="0" rx="9.3" ry="6.6" fill="#d63ad6" transform="translate(434.20,176.80) rotate(35)"/>
<path d="M446.3,165.2 L448.4,163.3 L450.6,164.6 L452.6,165.2 L455.5,164.0 L458.0,162.4 L461.2,167.6 L450.6,175.6 L447.4,173.8Z" fill="#14cc14" stroke="#2fdc2f" stroke-width="0.4"/>
<circle cx="448.4" cy="165.4" r="0.9" fill="#c8f050"/>
<path d="M410.2,183.2 L421.8,183.2 L421.8,192.6 L426.7,192.6 L416.0,202.7 L405.3,192.6 L410.2,192.6Z" fill="#c9c9c9" stroke="#555" stroke-width="0.9" stroke-linejoin="miter"/>
<rect x="408.4" y="225.9" width="3.7" height="15.5" fill="#b83ab8"/>
<ellipse cx="0" cy="0" rx="7.0" ry="11.5" fill="#a02fa6" transform="translate(414.50,217.90) rotate(30)"/>
<ellipse cx="0" cy="0" rx="7.0" ry="11.3" fill="#ffbf00" transform="translate(428.95,223.30) rotate(-25)"/>
<line x1="403.4" y1="236.6" x2="399.8" y2="248.5" stroke="#111" stroke-width="1"/>
<ellipse cx="0" cy="0" rx="11.8" ry="7.4" fill="#ffbf00" transform="translate(393.20,251.90) rotate(-8)"/>
<circle cx="403.4" cy="236.6" r="5.9" fill="#22eef6"/>
<line x1="401.8" y1="241.5" x2="399.8" y2="247.5" stroke="#111" stroke-width="1"/>
<circle cx="419.1" cy="238.1" r="6.1" fill="#22eef6"/>
<ellipse cx="0" cy="0" rx="9.0" ry="6.5" fill="#d63ad6" transform="translate(413.20,247.30) rotate(35)"/>
<line x1="417.5" y1="244.3" x2="426.8" y2="242.2" stroke="#0a7a0a" stroke-width="3.6"/>
<line x1="417.5" y1="244.3" x2="426.8" y2="242.2" stroke="#14cc14" stroke-width="2.2"/>
<rect x="-5.6" y="-5.6" width="11.2" height="11.2" rx="0.8" fill="#14cc14" transform="translate(432.5,239.9) rotate(-28)"/>
<circle cx="427.5" cy="236.5" r="0.9" fill="#c8f050"/>
<line x1="422.5" y1="235.4" x2="428.7" y2="229.8" stroke="#111" stroke-width="1.3"/>
<circle cx="428.9" cy="229.6" r="0.9" fill="none" stroke="#111" stroke-width="0.5"/>
<text x="380.5" y="270.9" font-size="11.3">N = 1.8</text>
<text x="380.5" y="283.3" font-size="11.3">K<tspan font-size="6.8" dy="2.8">d</tspan><tspan dy="-2.8"> = 1.6 ± 0.4 µM</tspan></text>
<rect x="489.0" y="137.0" width="99.6" height="71.3" fill="none" stroke="#6a6a6a" stroke-width="0.8"/>
<line x1="489.0" y1="144.9" x2="490.8" y2="144.9" stroke="#555" stroke-width="0.6"/>
<line x1="487.8" y1="144.9" x2="489.0" y2="144.9" stroke="#777" stroke-width="0.5"/>
<line x1="586.8" y1="144.9" x2="588.6" y2="144.9" stroke="#555" stroke-width="0.6"/>
<text x="487.2" y="146.4" font-size="4.3" text-anchor="end" fill="#000">0.00</text>
<line x1="489.0" y1="160.2" x2="490.8" y2="160.2" stroke="#555" stroke-width="0.6"/>
<line x1="487.8" y1="160.2" x2="489.0" y2="160.2" stroke="#777" stroke-width="0.5"/>
<line x1="586.8" y1="160.2" x2="588.6" y2="160.2" stroke="#555" stroke-width="0.6"/>
<text x="487.2" y="161.7" font-size="4.3" text-anchor="end" fill="#000">-0.10</text>
<line x1="489.0" y1="175.6" x2="490.8" y2="175.6" stroke="#555" stroke-width="0.6"/>
<line x1="487.8" y1="175.6" x2="489.0" y2="175.6" stroke="#777" stroke-width="0.5"/>
<line x1="586.8" y1="175.6" x2="588.6" y2="175.6" stroke="#555" stroke-width="0.6"/>
<text x="487.2" y="177.1" font-size="4.3" text-anchor="end" fill="#000">-0.20</text>
<line x1="489.0" y1="190.9" x2="490.8" y2="190.9" stroke="#555" stroke-width="0.6"/>
<line x1="487.8" y1="190.9" x2="489.0" y2="190.9" stroke="#777" stroke-width="0.5"/>
<line x1="586.8" y1="190.9" x2="588.6" y2="190.9" stroke="#555" stroke-width="0.6"/>
<text x="487.2" y="192.4" font-size="4.3" text-anchor="end" fill="#000">-0.30</text>
<line x1="489.0" y1="206.2" x2="490.8" y2="206.2" stroke="#555" stroke-width="0.6"/>
<line x1="487.8" y1="206.2" x2="489.0" y2="206.2" stroke="#777" stroke-width="0.5"/>
<line x1="586.8" y1="206.2" x2="588.6" y2="206.2" stroke="#555" stroke-width="0.6"/>
<text x="487.2" y="207.7" font-size="4.3" text-anchor="end" fill="#000">-0.40</text>
<line x1="489.0" y1="152.6" x2="490.0" y2="152.6" stroke="#666" stroke-width="0.5"/>
<line x1="587.6" y1="152.6" x2="588.6" y2="152.6" stroke="#666" stroke-width="0.5"/>
<line x1="489.0" y1="167.9" x2="490.0" y2="167.9" stroke="#666" stroke-width="0.5"/>
<line x1="587.6" y1="167.9" x2="588.6" y2="167.9" stroke="#666" stroke-width="0.5"/>
<line x1="489.0" y1="183.2" x2="490.0" y2="183.2" stroke="#666" stroke-width="0.5"/>
<line x1="587.6" y1="183.2" x2="588.6" y2="183.2" stroke="#666" stroke-width="0.5"/>
<line x1="489.0" y1="198.6" x2="490.0" y2="198.6" stroke="#666" stroke-width="0.5"/>
<line x1="587.6" y1="198.6" x2="588.6" y2="198.6" stroke="#666" stroke-width="0.5"/>
<line x1="490.5" y1="137.0" x2="490.5" y2="138.8" stroke="#555" stroke-width="0.6"/>
<line x1="490.5" y1="206.5" x2="490.5" y2="208.3" stroke="#555" stroke-width="0.6"/>
<text x="490.5" y="133.8" font-size="4.3" text-anchor="middle" fill="#000">0</text>
<line x1="505.5" y1="137.0" x2="505.5" y2="138.8" stroke="#555" stroke-width="0.6"/>
<line x1="505.5" y1="206.5" x2="505.5" y2="208.3" stroke="#555" stroke-width="0.6"/>
<text x="505.5" y="133.8" font-size="4.3" text-anchor="middle" fill="#000">10</text>
<line x1="520.5" y1="137.0" x2="520.5" y2="138.8" stroke="#555" stroke-width="0.6"/>
<line x1="520.5" y1="206.5" x2="520.5" y2="208.3" stroke="#555" stroke-width="0.6"/>
<text x="520.5" y="133.8" font-size="4.3" text-anchor="middle" fill="#000">20</text>
<line x1="535.4" y1="137.0" x2="535.4" y2="138.8" stroke="#555" stroke-width="0.6"/>
<line x1="535.4" y1="206.5" x2="535.4" y2="208.3" stroke="#555" stroke-width="0.6"/>
<text x="535.4" y="133.8" font-size="4.3" text-anchor="middle" fill="#000">30</text>
<line x1="550.4" y1="137.0" x2="550.4" y2="138.8" stroke="#555" stroke-width="0.6"/>
<line x1="550.4" y1="206.5" x2="550.4" y2="208.3" stroke="#555" stroke-width="0.6"/>
<text x="550.4" y="133.8" font-size="4.3" text-anchor="middle" fill="#000">40</text>
<line x1="565.4" y1="137.0" x2="565.4" y2="138.8" stroke="#555" stroke-width="0.6"/>
<line x1="565.4" y1="206.5" x2="565.4" y2="208.3" stroke="#555" stroke-width="0.6"/>
<text x="565.4" y="133.8" font-size="4.3" text-anchor="middle" fill="#000">50</text>
<line x1="580.4" y1="137.0" x2="580.4" y2="138.8" stroke="#555" stroke-width="0.6"/>
<line x1="580.4" y1="206.5" x2="580.4" y2="208.3" stroke="#555" stroke-width="0.6"/>
<text x="580.4" y="133.8" font-size="4.3" text-anchor="middle" fill="#000">60</text>
<line x1="498.0" y1="137.0" x2="498.0" y2="138.0" stroke="#666" stroke-width="0.5"/>
<line x1="498.0" y1="207.3" x2="498.0" y2="208.3" stroke="#666" stroke-width="0.5"/>
<line x1="513.0" y1="137.0" x2="513.0" y2="138.0" stroke="#666" stroke-width="0.5"/>
<line x1="513.0" y1="207.3" x2="513.0" y2="208.3" stroke="#666" stroke-width="0.5"/>
<line x1="528.0" y1="137.0" x2="528.0" y2="138.0" stroke="#666" stroke-width="0.5"/>
<line x1="528.0" y1="207.3" x2="528.0" y2="208.3" stroke="#666" stroke-width="0.5"/>
<line x1="542.9" y1="137.0" x2="542.9" y2="138.0" stroke="#666" stroke-width="0.5"/>
<line x1="542.9" y1="207.3" x2="542.9" y2="208.3" stroke="#666" stroke-width="0.5"/>
<line x1="557.9" y1="137.0" x2="557.9" y2="138.0" stroke="#666" stroke-width="0.5"/>
<line x1="557.9" y1="207.3" x2="557.9" y2="208.3" stroke="#666" stroke-width="0.5"/>
<line x1="572.9" y1="137.0" x2="572.9" y2="138.0" stroke="#666" stroke-width="0.5"/>
<line x1="572.9" y1="207.3" x2="572.9" y2="208.3" stroke="#666" stroke-width="0.5"/>
<text x="541.7" y="129.4" font-size="6.5" text-anchor="middle" fill="#000">Time (min)</text>
<text transform="translate(474.2,172.6) rotate(-90)" font-size="7.0" text-anchor="middle" fill="#000">µcal/sec</text>
<path d="M490.00,144.87 L490.25,145.36 L490.50,144.67 L490.75,144.37 L491.00,144.99 L491.25,145.10 L491.50,145.03 L491.75,145.07 L492.00,152.44 L492.25,184.27 L492.39,202.44 L492.50,192.67 L492.75,176.49 L493.00,165.66 L493.25,158.95 L493.50,154.18 L493.75,150.52 L494.00,149.08 L494.25,147.52 L494.50,146.98 L494.75,146.51 L495.00,145.84 L495.25,144.88 L495.50,145.45 L495.75,144.67 L496.00,145.55 L496.25,144.83 L496.50,144.94 L496.75,145.52 L497.00,144.43 L497.25,169.10 L497.50,201.26 L497.51,203.39 L497.75,184.27 L498.00,170.73 L498.25,162.30 L498.50,156.16 L498.75,152.50 L499.00,150.04 L499.25,147.66 L499.50,147.49 L499.75,146.27 L500.00,145.36 L500.25,145.35 L500.50,145.60 L500.75,145.50 L501.00,144.90 L501.25,145.08 L501.50,145.08 L501.75,145.30 L502.00,167.85 L502.25,198.04 L502.26,198.65 L502.50,180.59 L502.75,168.40 L503.00,160.75 L503.25,155.45 L503.50,151.71 L503.75,149.59 L504.00,147.95 L504.25,147.11 L504.50,146.57 L504.75,145.94 L505.00,145.74 L505.25,145.18 L505.50,145.01 L505.75,144.38 L506.00,145.16 L506.25,145.01 L506.50,145.14 L506.75,144.39 L507.00,152.04 L507.25,178.40 L507.38,192.38 L507.50,183.36 L507.75,170.91 L508.00,162.25 L508.25,155.71 L508.50,152.43 L508.75,150.32 L509.00,147.76 L509.25,147.35 L509.50,146.81 L509.75,146.42 L510.00,145.12 L510.25,145.01 L510.50,145.26 L510.75,145.48 L511.00,144.66 L511.25,144.78 L511.50,144.64 L511.75,145.31 L512.00,156.92 L512.25,179.74 L512.31,185.36 L512.50,174.87 L512.75,164.89 L513.00,157.99 L513.25,153.56 L513.50,150.91 L513.75,148.78 L514.00,146.99 L514.25,146.38 L514.50,146.27 L514.75,145.68 L515.00,145.29 L515.25,145.31 L515.50,145.88 L515.75,145.05 L516.00,145.17 L516.25,145.13 L516.50,144.89 L516.75,145.33 L517.00,146.09 L517.25,164.74 L517.44,178.72 L517.50,175.04 L517.75,165.45 L518.00,158.44 L518.25,153.66 L518.50,149.89 L518.75,148.72 L519.00,147.07 L519.25,146.52 L519.50,145.87 L519.75,145.40 L520.00,145.72 L520.25,145.28 L520.50,145.52 L520.75,144.77 L521.00,144.97 L521.25,145.41 L521.50,145.07 L521.75,144.74 L522.00,149.56 L522.25,165.27 L522.37,173.03 L522.50,167.64 L522.75,160.13 L523.00,154.86 L523.25,151.68 L523.50,149.49 L523.75,147.80 L524.00,147.20 L524.25,146.39 L524.50,145.69 L524.75,145.42 L525.00,145.28 L525.25,144.94 L525.50,144.67 L525.75,145.05 L526.00,144.84 L526.25,145.16 L526.50,144.78 L526.75,144.98 L527.00,152.09 L527.25,164.13 L527.31,166.96 L527.50,160.95 L527.75,155.23 L528.00,151.74 L528.25,149.75 L528.50,148.07 L528.75,146.92 L529.00,146.00 L529.25,146.01 L529.50,146.12 L529.75,144.64 L530.00,145.50 L530.25,145.16 L530.50,145.38 L530.75,145.36 L531.00,144.67 L531.25,145.50 L531.50,144.77 L531.75,144.87 L532.00,153.43 L532.24,162.59 L532.25,162.29 L532.50,156.47 L532.75,152.33 L533.00,149.59 L533.25,148.22 L533.50,146.76 L533.75,146.77 L534.00,145.95 L534.25,145.99 L534.50,144.96 L534.75,144.56 L535.00,144.41 L535.25,144.93 L535.50,144.61 L535.75,145.09 L536.00,144.52 L536.25,144.53 L536.50,145.03 L536.75,144.82 L537.00,147.85 L537.25,155.61 L537.36,158.80 L537.50,156.09 L537.75,151.84 L538.00,149.47 L538.25,148.80 L538.50,146.95 L538.75,146.40 L539.00,145.88 L539.25,145.52 L539.50,145.27 L539.75,145.02 L540.00,144.94 L540.25,144.42 L540.50,145.52 L540.75,144.95 L541.00,144.56 L541.25,145.11 L541.50,145.15 L541.75,144.50 L542.00,148.56 L542.25,155.32 L542.30,155.95 L542.50,152.97 L542.75,150.25 L543.00,148.66 L543.25,147.15 L543.50,146.33 L543.75,146.40 L544.00,145.52 L544.25,145.33 L544.50,145.41 L544.75,145.13 L545.00,144.67 L545.25,145.59 L545.50,144.96 L545.75,145.52 L546.00,145.11 L546.25,144.67 L546.50,145.42 L546.75,144.89 L547.00,149.15 L547.23,154.05 L547.25,153.77 L547.50,150.11 L547.75,148.90 L548.00,147.24 L548.25,146.53 L548.50,145.76 L548.75,145.87 L549.00,145.52 L549.25,145.58 L549.50,145.65 L549.75,145.16 L550.00,145.05 L550.25,145.09 L550.50,144.72 L550.75,144.79 L551.00,145.18 L551.25,144.68 L551.50,144.34 L551.75,144.83 L552.00,146.70 L552.25,151.42 L552.35,152.72 L552.50,150.84 L552.75,148.68 L553.00,147.62 L553.25,146.64 L553.50,146.17 L553.75,145.54 L554.00,145.50 L554.25,145.08 L554.50,145.45 L554.75,145.16 L555.00,145.20 L555.25,144.86 L555.50,144.53 L555.75,144.96 L556.00,144.93 L556.25,145.28 L556.50,145.23 L556.75,144.92 L557.00,147.42 L557.25,150.95 L557.29,151.78 L557.50,149.74 L557.75,148.17 L558.00,146.90 L558.25,145.98 L558.50,146.23 L558.75,145.25 L559.00,145.83 L559.25,145.55 L559.50,145.57 L559.75,144.78 L560.00,145.20 L560.25,144.55 L560.50,144.85 L560.75,144.48 L561.00,144.72 L561.25,144.78 L561.50,145.23 L561.75,145.26 L562.00,145.55 L562.25,150.13 L562.41,153.10 L562.50,151.70 L562.75,149.23 L563.00,147.45 L563.25,146.89 L563.50,146.44 L563.75,145.57 L564.00,145.62 L564.25,144.96 L564.50,144.87 L564.75,144.93 L565.00,145.31 L565.25,144.84 L565.50,145.21 L565.75,144.85 L566.00,144.61 L566.25,144.33 L566.50,144.79 L566.75,144.64 L567.00,146.70 L567.25,150.06 L567.34,151.21 L567.50,149.29 L567.75,148.39 L568.00,147.20 L568.25,145.51 L568.50,145.53 L568.75,145.60 L569.00,144.84 L569.25,144.97 L569.50,145.26 L569.75,145.11 L570.00,145.14 L570.25,145.16 L570.50,144.69 L570.75,145.67 L571.00,145.10 L571.25,145.58 L571.50,144.85 L571.75,145.10 L572.00,145.46 L572.25,148.38 L572.47,151.78 L572.50,151.92 L572.75,149.63 L573.00,148.90 L573.25,147.29 L573.50,146.31 L573.75,146.45 L574.00,147.44 L574.25,145.45 L574.50,146.03 L574.75,145.34 L575.00,142.53 L575.25,143.89 L575.50,143.84 L575.75,143.21 L576.00,144.21 L576.25,142.70 L576.50,145.36 L576.75,144.30 L577.00,147.58 L577.25,151.35 L577.40,153.67 L577.50,150.77 L577.75,149.61 L578.00,148.29 L578.25,146.24 L578.50,145.93 L578.75,144.51 L579.00,144.65 L579.25,145.76 L579.50,144.83 L579.75,146.75 L580.00,142.34 L580.25,144.03 L580.50,144.56 L580.75,146.96 L581.00,146.47 L581.25,146.00 L581.50,146.28 L581.75,147.08 L582.00,147.01 L582.25,148.27 L582.33,149.31 L582.50,148.57 L582.75,146.25 L583.00,146.15 L583.25,146.43 L583.50,144.96 L583.75,145.54 L584.00,144.69 L584.25,143.45 L584.50,144.37 L584.75,149.03 L584.80,148.36 L585.00,147.56 L585.25,147.73 L585.50,145.95 L585.75,145.69 L586.00,145.80 L586.25,144.85 L586.50,146.98 L586.75,146.42 L587.00,145.58 L587.25,143.67 L587.50,144.31 L587.75,145.26" fill="none" stroke="#222" stroke-width="0.6" stroke-linejoin="round"/>
<line x1="489.5" y1="144.9" x2="588.1" y2="144.9" stroke="#d42020" stroke-width="0.6"/>
<rect x="489.0" y="208.3" width="99.6" height="71.0" fill="none" stroke="#6a6a6a" stroke-width="0.8"/>
<line x1="489.0" y1="210.4" x2="490.8" y2="210.4" stroke="#555" stroke-width="0.6"/>
<line x1="487.8" y1="210.4" x2="489.0" y2="210.4" stroke="#777" stroke-width="0.5"/>
<line x1="586.8" y1="210.4" x2="588.6" y2="210.4" stroke="#555" stroke-width="0.6"/>
<text x="487.2" y="211.9" font-size="4.3" text-anchor="end" fill="#000">0.0</text>
<line x1="489.0" y1="222.3" x2="490.8" y2="222.3" stroke="#555" stroke-width="0.6"/>
<line x1="487.8" y1="222.3" x2="489.0" y2="222.3" stroke="#777" stroke-width="0.5"/>
<line x1="586.8" y1="222.3" x2="588.6" y2="222.3" stroke="#555" stroke-width="0.6"/>
<line x1="489.0" y1="234.2" x2="490.8" y2="234.2" stroke="#555" stroke-width="0.6"/>
<line x1="487.8" y1="234.2" x2="489.0" y2="234.2" stroke="#777" stroke-width="0.5"/>
<line x1="586.8" y1="234.2" x2="588.6" y2="234.2" stroke="#555" stroke-width="0.6"/>
<text x="487.2" y="235.7" font-size="4.3" text-anchor="end" fill="#000">-2.0</text>
<line x1="489.0" y1="246.0" x2="490.8" y2="246.0" stroke="#555" stroke-width="0.6"/>
<line x1="487.8" y1="246.0" x2="489.0" y2="246.0" stroke="#777" stroke-width="0.5"/>
<line x1="586.8" y1="246.0" x2="588.6" y2="246.0" stroke="#555" stroke-width="0.6"/>
<line x1="489.0" y1="257.9" x2="490.8" y2="257.9" stroke="#555" stroke-width="0.6"/>
<line x1="487.8" y1="257.9" x2="489.0" y2="257.9" stroke="#777" stroke-width="0.5"/>
<line x1="586.8" y1="257.9" x2="588.6" y2="257.9" stroke="#555" stroke-width="0.6"/>
<text x="487.2" y="259.4" font-size="4.3" text-anchor="end" fill="#000">-4.0</text>
<line x1="489.0" y1="269.8" x2="490.8" y2="269.8" stroke="#555" stroke-width="0.6"/>
<line x1="487.8" y1="269.8" x2="489.0" y2="269.8" stroke="#777" stroke-width="0.5"/>
<line x1="586.8" y1="269.8" x2="588.6" y2="269.8" stroke="#555" stroke-width="0.6"/>
<line x1="504.2" y1="208.3" x2="504.2" y2="210.1" stroke="#555" stroke-width="0.6"/>
<line x1="504.2" y1="277.5" x2="504.2" y2="279.3" stroke="#555" stroke-width="0.6"/>
<text x="504.2" y="284.9" font-size="4.3" text-anchor="middle" fill="#000">0.5</text>
<line x1="522.7" y1="208.3" x2="522.7" y2="210.1" stroke="#555" stroke-width="0.6"/>
<line x1="522.7" y1="277.5" x2="522.7" y2="279.3" stroke="#555" stroke-width="0.6"/>
<text x="522.7" y="284.9" font-size="4.3" text-anchor="middle" fill="#000">1.0</text>
<line x1="541.2" y1="208.3" x2="541.2" y2="210.1" stroke="#555" stroke-width="0.6"/>
<line x1="541.2" y1="277.5" x2="541.2" y2="279.3" stroke="#555" stroke-width="0.6"/>
<text x="541.2" y="284.9" font-size="4.3" text-anchor="middle" fill="#000">1.5</text>
<line x1="559.7" y1="208.3" x2="559.7" y2="210.1" stroke="#555" stroke-width="0.6"/>
<line x1="559.7" y1="277.5" x2="559.7" y2="279.3" stroke="#555" stroke-width="0.6"/>
<text x="559.7" y="284.9" font-size="4.3" text-anchor="middle" fill="#000">2.0</text>
<line x1="578.2" y1="208.3" x2="578.2" y2="210.1" stroke="#555" stroke-width="0.6"/>
<line x1="578.2" y1="277.5" x2="578.2" y2="279.3" stroke="#555" stroke-width="0.6"/>
<text x="578.2" y="284.9" font-size="4.3" text-anchor="middle" fill="#000">2.5</text>
<line x1="494.9" y1="208.3" x2="494.9" y2="209.3" stroke="#666" stroke-width="0.5"/>
<line x1="494.9" y1="278.3" x2="494.9" y2="279.3" stroke="#666" stroke-width="0.5"/>
<line x1="513.5" y1="208.3" x2="513.5" y2="209.3" stroke="#666" stroke-width="0.5"/>
<line x1="513.5" y1="278.3" x2="513.5" y2="279.3" stroke="#666" stroke-width="0.5"/>
<line x1="532.0" y1="208.3" x2="532.0" y2="209.3" stroke="#666" stroke-width="0.5"/>
<line x1="532.0" y1="278.3" x2="532.0" y2="279.3" stroke="#666" stroke-width="0.5"/>
<line x1="550.5" y1="208.3" x2="550.5" y2="209.3" stroke="#666" stroke-width="0.5"/>
<line x1="550.5" y1="278.3" x2="550.5" y2="279.3" stroke="#666" stroke-width="0.5"/>
<line x1="569.0" y1="208.3" x2="569.0" y2="209.3" stroke="#666" stroke-width="0.5"/>
<line x1="569.0" y1="278.3" x2="569.0" y2="279.3" stroke="#666" stroke-width="0.5"/>
<line x1="587.5" y1="208.3" x2="587.5" y2="209.3" stroke="#666" stroke-width="0.5"/>
<line x1="587.5" y1="278.3" x2="587.5" y2="279.3" stroke="#666" stroke-width="0.5"/>
<text x="541.7" y="293.4" font-size="6.5" text-anchor="middle" fill="#000">Molar Ratio</text>
<text transform="translate(476.4,243.2) rotate(-90)" font-size="6.7" text-anchor="middle" fill="#000">kcal mol<tspan font-size="4.2" dy="-2.3">-1</tspan><tspan dy="2.3"> of injectant</tspan></text>
<path d="M489.50,279.13 L489.97,278.96 L490.44,278.79 L490.92,278.62 L491.39,278.43 L491.86,278.24 L492.33,278.04 L492.81,277.83 L493.28,277.62 L493.75,277.39 L494.23,277.16 L494.70,276.92 L495.17,276.66 L495.64,276.40 L496.12,276.13 L496.59,275.84 L497.06,275.55 L497.53,275.25 L498.00,274.93 L498.48,274.60 L498.95,274.26 L499.42,273.91 L499.89,273.55 L500.37,273.17 L500.84,272.78 L501.31,272.38 L501.79,271.96 L502.26,271.53 L502.73,271.09 L503.20,270.63 L503.68,270.16 L504.15,269.67 L504.62,269.17 L505.09,268.66 L505.56,268.13 L506.04,267.59 L506.51,267.03 L506.98,266.46 L507.45,265.87 L507.93,265.27 L508.40,264.66 L508.87,264.03 L509.35,263.39 L509.82,262.74 L510.29,262.07 L510.76,261.39 L511.24,260.70 L511.71,259.99 L512.18,259.28 L512.65,258.55 L513.12,257.82 L513.60,257.07 L514.07,256.32 L514.54,255.55 L515.01,254.78 L515.49,254.00 L515.96,253.22 L516.43,252.43 L516.90,251.64 L517.38,250.84 L517.85,250.04 L518.32,249.24 L518.79,248.43 L519.27,247.63 L519.74,246.83 L520.21,246.02 L520.68,245.22 L521.16,244.43 L521.63,243.64 L522.10,242.85 L522.58,242.06 L523.05,241.29 L523.52,240.52 L523.99,239.76 L524.47,239.01 L524.94,238.26 L525.41,237.53 L525.88,236.81 L526.36,236.09 L526.83,235.39 L527.30,234.70 L527.77,234.03 L528.25,233.36 L528.72,232.71 L529.19,232.07 L529.66,231.45 L530.13,230.84 L530.61,230.24 L531.08,229.66 L531.55,229.09 L532.02,228.54 L532.50,228.00 L532.97,227.47 L533.44,226.96 L533.91,226.47 L534.39,225.98 L534.86,225.52 L535.33,225.06 L535.80,224.62 L536.28,224.19 L536.75,223.78 L537.22,223.38 L537.70,223.00 L538.17,222.62 L538.64,222.26 L539.11,221.91 L539.59,221.57 L540.06,221.25 L540.53,220.94 L541.00,220.63 L541.48,220.34 L541.95,220.06 L542.42,219.79 L542.89,219.53 L543.37,219.28 L543.84,219.04 L544.31,218.81 L544.78,218.58 L545.25,218.37 L545.73,218.16 L546.20,217.97 L546.67,217.78 L547.14,217.59 L547.62,217.42 L548.09,217.25 L548.56,217.09 L549.03,216.94 L549.51,216.79 L549.98,216.65 L550.45,216.51 L550.92,216.38 L551.40,216.25 L551.87,216.13 L552.34,216.02 L552.82,215.91 L553.29,215.80 L553.76,215.70 L554.23,215.61 L554.71,215.51 L555.18,215.43 L555.65,215.34 L556.12,215.26 L556.60,215.18 L557.07,215.11 L557.54,215.04 L558.01,214.97 L558.49,214.90 L558.96,214.84 L559.43,214.78 L559.90,214.73 L560.38,214.67 L560.85,214.62 L561.32,214.57 L561.79,214.52 L562.26,214.48 L562.74,214.43 L563.21,214.39 L563.68,214.35 L564.15,214.32 L564.63,214.28 L565.10,214.24 L565.57,214.21 L566.04,214.18 L566.52,214.15 L566.99,214.12 L567.46,214.09 L567.93,214.07 L568.41,214.04 L568.88,214.02 L569.35,214.00 L569.83,213.97 L570.30,213.95 L570.77,213.93 L571.24,213.91 L571.72,213.90 L572.19,213.88 L572.66,213.86 L573.13,213.85 L573.61,213.83 L574.08,213.82 L574.55,213.80 L575.02,213.79 L575.50,213.78 L575.97,213.76 L576.44,213.75 L576.91,213.74 L577.38,213.73 L577.86,213.72 L578.33,213.71 L578.80,213.70 L579.27,213.69 L579.75,213.69 L580.22,213.68 L580.69,213.67 L581.16,213.66 L581.64,213.66 L582.11,213.65 L582.58,213.64 L583.06,213.64 L583.53,213.63 L584.00,213.63" fill="none" stroke="#dd2a2a" stroke-width="0.8"/>
<rect x="494.17" y="273.50" width="2.9" height="2.9" fill="#000"/>
<rect x="498.91" y="272.17" width="2.9" height="2.9" fill="#000"/>
<rect x="503.65" y="268.19" width="2.9" height="2.9" fill="#000"/>
<rect x="508.40" y="263.64" width="2.9" height="2.9" fill="#000"/>
<rect x="513.33" y="252.25" width="2.9" height="2.9" fill="#000"/>
<rect x="518.27" y="243.14" width="2.9" height="2.9" fill="#000"/>
<rect x="523.20" y="237.07" width="2.9" height="2.9" fill="#000"/>
<rect x="528.13" y="231.19" width="2.9" height="2.9" fill="#000"/>
<rect x="533.26" y="226.06" width="2.9" height="2.9" fill="#000"/>
<rect x="538.38" y="218.85" width="2.9" height="2.9" fill="#000"/>
<rect x="543.50" y="218.09" width="2.9" height="2.9" fill="#000"/>
<rect x="548.63" y="214.30" width="2.9" height="2.9" fill="#000"/>
<rect x="553.75" y="212.97" width="2.9" height="2.9" fill="#000"/>
<rect x="558.87" y="214.11" width="2.9" height="2.9" fill="#000"/>
<rect x="564.19" y="212.21" width="2.9" height="2.9" fill="#000"/>
<rect x="569.50" y="211.83" width="2.9" height="2.9" fill="#000"/>
<rect x="574.81" y="212.97" width="2.9" height="2.9" fill="#000"/>
<rect x="580.50" y="212.40" width="2.9" height="2.9" fill="#000"/>
<text x="624.1" y="132.6" font-size="11.3">+di-Ub<tspan font-size="6.6" dy="3.6">K48</tspan></text>
<line x1="596.0" y1="170.8" x2="607.2" y2="162.4" stroke="#111" stroke-width="1"/>
<ellipse cx="0" cy="0" rx="7.6" ry="11.6" fill="#ffbf00" transform="translate(606.20,156.40) rotate(22)"/>
<circle cx="596.0" cy="170.8" r="5.9" fill="#22eef6"/>
<line x1="597.5" y1="169.3" x2="607.7" y2="161.9" stroke="#111" stroke-width="1.3"/>
<line x1="616.4" y1="161.1" x2="627.0" y2="161.1" stroke="#111" stroke-width="1.3"/>
<path d="M631.0,161.1 L625.5,158.1 L625.5,164.1Z" fill="#111"/>
<rect x="643.9" y="154.2" width="3.6" height="15" fill="#b83ab8"/>
<ellipse cx="0" cy="0" rx="7.3" ry="11.2" fill="#a02fa6" transform="translate(649.60,145.20) rotate(30)"/>
<line x1="652.2" y1="172.5" x2="661.9" y2="169.4" stroke="#0a7a0a" stroke-width="3.6"/>
<line x1="652.2" y1="172.5" x2="661.9" y2="169.4" stroke="#14cc14" stroke-width="2.2"/>
<ellipse cx="0" cy="0" rx="9.3" ry="6.6" fill="#d63ad6" transform="translate(648.00,175.20) rotate(35)"/>
<path d="M660.1,163.6 L662.2,161.7 L664.4,163.0 L666.4,163.6 L669.3,162.4 L671.8,160.8 L675.0,166.0 L664.4,174.0 L661.2,172.2Z" fill="#14cc14" stroke="#2fdc2f" stroke-width="0.4"/>
<circle cx="662.2" cy="163.8" r="0.9" fill="#c8f050"/>
<line x1="638.3" y1="164.0" x2="636.8" y2="179.0" stroke="#5b8cc6" stroke-width="2"/>
<line x1="636.8" y1="179.0" x2="628.2" y2="184.6" stroke="#5b8cc6" stroke-width="1.6" stroke-linecap="round"/>
<circle cx="638.3" cy="164.0" r="6.3" fill="#5b8cc6"/>
<circle cx="636.8" cy="179.0" r="6.3" fill="#5b8cc6"/>
<ellipse cx="0" cy="0" rx="9.3" ry="6.6" fill="#d63ad6" transform="translate(648.00,175.20) rotate(35)"/>
<path d="M612.9,185.4 L624.6,185.4 L624.6,194.4 L629.5,194.4 L618.8,204.1 L608.0,194.4 L612.9,194.4Z" fill="#c9c9c9" stroke="#555" stroke-width="0.9" stroke-linejoin="miter"/>
<rect x="616.7" y="224.4" width="3.7" height="15.5" fill="#b83ab8"/>
<ellipse cx="0" cy="0" rx="7.0" ry="11.5" fill="#a02fa6" transform="translate(622.80,216.40) rotate(30)"/>
<ellipse cx="0" cy="0" rx="7.0" ry="11.3" fill="#ffbf00" transform="translate(637.25,221.80) rotate(-25)"/>
<line x1="613.0" y1="234.4" x2="612.0" y2="249.7" stroke="#5b8cc6" stroke-width="2"/>
<line x1="612.0" y1="249.7" x2="603.2" y2="254.7" stroke="#5b8cc6" stroke-width="1.6" stroke-linecap="round"/>
<circle cx="613.0" cy="234.4" r="6.3" fill="#5b8cc6"/>
<circle cx="612.0" cy="249.7" r="6.3" fill="#5b8cc6"/>
<circle cx="627.4" cy="236.6" r="6.1" fill="#22eef6"/>
<ellipse cx="0" cy="0" rx="9.0" ry="6.5" fill="#d63ad6" transform="translate(621.50,245.80) rotate(35)"/>
<line x1="625.8" y1="242.8" x2="635.1" y2="240.7" stroke="#0a7a0a" stroke-width="3.6"/>
<line x1="625.8" y1="242.8" x2="635.1" y2="240.7" stroke="#14cc14" stroke-width="2.2"/>
<rect x="-5.6" y="-5.6" width="11.2" height="11.2" rx="0.8" fill="#14cc14" transform="translate(640.8,238.4) rotate(-28)"/>
<circle cx="635.8" cy="235.0" r="0.9" fill="#c8f050"/>
<line x1="630.8" y1="233.9" x2="637.0" y2="228.3" stroke="#111" stroke-width="1.3"/>
<circle cx="637.2" cy="228.1" r="0.9" fill="none" stroke="#111" stroke-width="0.5"/>
<text x="591.6" y="270.9" font-size="11.3">N = 0.9</text>
<text x="591.6" y="283.3" font-size="11.3">K<tspan font-size="6.8" dy="2.8">d</tspan><tspan dy="-2.8"> = 3.4 ± 0.4 µM</tspan></text>
<rect x="272.4" y="321.3" width="99.4" height="71.5" fill="none" stroke="#6a6a6a" stroke-width="0.8"/>
<line x1="272.4" y1="327.5" x2="274.2" y2="327.5" stroke="#555" stroke-width="0.6"/>
<line x1="271.2" y1="327.5" x2="272.4" y2="327.5" stroke="#777" stroke-width="0.5"/>
<line x1="370.0" y1="327.5" x2="371.8" y2="327.5" stroke="#555" stroke-width="0.6"/>
<text x="270.6" y="329.0" font-size="4.3" text-anchor="end" fill="#000">0.00</text>
<line x1="272.4" y1="337.9" x2="274.2" y2="337.9" stroke="#555" stroke-width="0.6"/>
<line x1="271.2" y1="337.9" x2="272.4" y2="337.9" stroke="#777" stroke-width="0.5"/>
<line x1="370.0" y1="337.9" x2="371.8" y2="337.9" stroke="#555" stroke-width="0.6"/>
<text x="270.6" y="339.4" font-size="4.3" text-anchor="end" fill="#000">-0.05</text>
<line x1="272.4" y1="348.4" x2="274.2" y2="348.4" stroke="#555" stroke-width="0.6"/>
<line x1="271.2" y1="348.4" x2="272.4" y2="348.4" stroke="#777" stroke-width="0.5"/>
<line x1="370.0" y1="348.4" x2="371.8" y2="348.4" stroke="#555" stroke-width="0.6"/>
<text x="270.6" y="349.9" font-size="4.3" text-anchor="end" fill="#000">-0.10</text>
<line x1="272.4" y1="358.8" x2="274.2" y2="358.8" stroke="#555" stroke-width="0.6"/>
<line x1="271.2" y1="358.8" x2="272.4" y2="358.8" stroke="#777" stroke-width="0.5"/>
<line x1="370.0" y1="358.8" x2="371.8" y2="358.8" stroke="#555" stroke-width="0.6"/>
<text x="270.6" y="360.3" font-size="4.3" text-anchor="end" fill="#000">-0.15</text>
<line x1="272.4" y1="369.2" x2="274.2" y2="369.2" stroke="#555" stroke-width="0.6"/>
<line x1="271.2" y1="369.2" x2="272.4" y2="369.2" stroke="#777" stroke-width="0.5"/>
<line x1="370.0" y1="369.2" x2="371.8" y2="369.2" stroke="#555" stroke-width="0.6"/>
<text x="270.6" y="370.7" font-size="4.3" text-anchor="end" fill="#000">-0.20</text>
<line x1="272.4" y1="379.6" x2="274.2" y2="379.6" stroke="#555" stroke-width="0.6"/>
<line x1="271.2" y1="379.6" x2="272.4" y2="379.6" stroke="#777" stroke-width="0.5"/>
<line x1="370.0" y1="379.6" x2="371.8" y2="379.6" stroke="#555" stroke-width="0.6"/>
<text x="270.6" y="381.1" font-size="4.3" text-anchor="end" fill="#000">-0.25</text>
<line x1="272.4" y1="390.1" x2="274.2" y2="390.1" stroke="#555" stroke-width="0.6"/>
<line x1="271.2" y1="390.1" x2="272.4" y2="390.1" stroke="#777" stroke-width="0.5"/>
<line x1="370.0" y1="390.1" x2="371.8" y2="390.1" stroke="#555" stroke-width="0.6"/>
<text x="270.6" y="391.6" font-size="4.3" text-anchor="end" fill="#000">-0.30</text>
<line x1="274.3" y1="321.3" x2="274.3" y2="323.1" stroke="#555" stroke-width="0.6"/>
<line x1="274.3" y1="391.0" x2="274.3" y2="392.8" stroke="#555" stroke-width="0.6"/>
<text x="274.3" y="318.1" font-size="4.3" text-anchor="middle" fill="#000">0</text>
<line x1="289.2" y1="321.3" x2="289.2" y2="323.1" stroke="#555" stroke-width="0.6"/>
<line x1="289.2" y1="391.0" x2="289.2" y2="392.8" stroke="#555" stroke-width="0.6"/>
<text x="289.2" y="318.1" font-size="4.3" text-anchor="middle" fill="#000">10</text>
<line x1="304.2" y1="321.3" x2="304.2" y2="323.1" stroke="#555" stroke-width="0.6"/>
<line x1="304.2" y1="391.0" x2="304.2" y2="392.8" stroke="#555" stroke-width="0.6"/>
<text x="304.2" y="318.1" font-size="4.3" text-anchor="middle" fill="#000">20</text>
<line x1="319.1" y1="321.3" x2="319.1" y2="323.1" stroke="#555" stroke-width="0.6"/>
<line x1="319.1" y1="391.0" x2="319.1" y2="392.8" stroke="#555" stroke-width="0.6"/>
<text x="319.1" y="318.1" font-size="4.3" text-anchor="middle" fill="#000">30</text>
<line x1="334.0" y1="321.3" x2="334.0" y2="323.1" stroke="#555" stroke-width="0.6"/>
<line x1="334.0" y1="391.0" x2="334.0" y2="392.8" stroke="#555" stroke-width="0.6"/>
<text x="334.0" y="318.1" font-size="4.3" text-anchor="middle" fill="#000">40</text>
<line x1="349.0" y1="321.3" x2="349.0" y2="323.1" stroke="#555" stroke-width="0.6"/>
<line x1="349.0" y1="391.0" x2="349.0" y2="392.8" stroke="#555" stroke-width="0.6"/>
<text x="349.0" y="318.1" font-size="4.3" text-anchor="middle" fill="#000">50</text>
<line x1="363.9" y1="321.3" x2="363.9" y2="323.1" stroke="#555" stroke-width="0.6"/>
<line x1="363.9" y1="391.0" x2="363.9" y2="392.8" stroke="#555" stroke-width="0.6"/>
<text x="363.9" y="318.1" font-size="4.3" text-anchor="middle" fill="#000">60</text>
<line x1="281.8" y1="321.3" x2="281.8" y2="322.3" stroke="#666" stroke-width="0.5"/>
<line x1="281.8" y1="391.8" x2="281.8" y2="392.8" stroke="#666" stroke-width="0.5"/>
<line x1="296.7" y1="321.3" x2="296.7" y2="322.3" stroke="#666" stroke-width="0.5"/>
<line x1="296.7" y1="391.8" x2="296.7" y2="392.8" stroke="#666" stroke-width="0.5"/>
<line x1="311.6" y1="321.3" x2="311.6" y2="322.3" stroke="#666" stroke-width="0.5"/>
<line x1="311.6" y1="391.8" x2="311.6" y2="392.8" stroke="#666" stroke-width="0.5"/>
<line x1="326.6" y1="321.3" x2="326.6" y2="322.3" stroke="#666" stroke-width="0.5"/>
<line x1="326.6" y1="391.8" x2="326.6" y2="392.8" stroke="#666" stroke-width="0.5"/>
<line x1="341.5" y1="321.3" x2="341.5" y2="322.3" stroke="#666" stroke-width="0.5"/>
<line x1="341.5" y1="391.8" x2="341.5" y2="392.8" stroke="#666" stroke-width="0.5"/>
<line x1="356.4" y1="321.3" x2="356.4" y2="322.3" stroke="#666" stroke-width="0.5"/>
<line x1="356.4" y1="391.8" x2="356.4" y2="392.8" stroke="#666" stroke-width="0.5"/>
<text x="325.5" y="314.2" font-size="6.5" text-anchor="middle" fill="#000">Time (min)</text>
<text transform="translate(255.5,356.0) rotate(-90)" font-size="7.0" text-anchor="middle" fill="#000">µcal/sec</text>
<path d="M273.40,327.23 L273.65,327.46 L273.90,327.62 L274.15,327.47 L274.40,327.52 L274.65,327.27 L274.90,327.46 L275.15,327.44 L275.40,327.65 L275.65,339.21 L275.90,367.34 L276.00,378.18 L276.15,373.13 L276.40,366.09 L276.65,360.27 L276.90,355.45 L277.15,350.69 L277.40,346.99 L277.65,344.64 L277.90,342.00 L278.15,339.66 L278.40,337.77 L278.65,336.08 L278.90,334.76 L279.15,333.51 L279.40,332.84 L279.65,331.91 L279.90,330.95 L280.15,330.60 L280.40,330.11 L280.65,352.44 L280.90,385.92 L280.93,387.67 L281.15,381.26 L281.40,372.47 L281.65,365.98 L281.90,360.17 L282.15,355.22 L282.40,350.92 L282.65,346.90 L282.90,344.33 L283.15,341.64 L283.40,339.69 L283.65,337.70 L283.90,335.83 L284.15,335.05 L284.40,333.46 L284.65,332.88 L284.90,331.97 L285.15,331.14 L285.40,330.30 L285.65,361.67 L285.86,387.67 L285.90,388.33 L286.15,379.09 L286.40,371.16 L286.65,364.74 L286.90,358.88 L287.15,354.19 L287.40,349.75 L287.65,346.42 L287.90,343.72 L288.15,341.26 L288.40,339.13 L288.65,337.18 L288.90,335.59 L289.15,334.77 L289.40,333.31 L289.65,332.45 L289.90,331.99 L290.15,331.10 L290.40,337.53 L290.65,370.72 L290.80,387.67 L290.90,385.82 L291.15,377.10 L291.40,369.29 L291.65,362.76 L291.90,357.85 L292.15,353.06 L292.40,348.99 L292.65,345.65 L292.90,342.67 L293.15,340.43 L293.40,338.32 L293.65,336.97 L293.90,335.59 L294.15,334.13 L294.40,333.08 L294.65,332.35 L294.90,331.55 L295.15,331.02 L295.40,344.94 L295.65,374.75 L295.73,381.97 L295.90,378.34 L296.15,370.29 L296.40,363.97 L296.65,357.96 L296.90,353.57 L297.15,349.51 L297.40,346.22 L297.65,343.27 L297.90,340.91 L298.15,338.54 L298.40,337.00 L298.65,335.48 L298.90,334.42 L299.15,333.34 L299.40,332.35 L299.65,331.58 L299.90,330.91 L300.15,330.46 L300.40,349.93 L300.65,376.26 L300.66,375.52 L300.90,370.32 L301.15,363.60 L301.40,358.06 L301.65,353.59 L301.90,349.33 L302.15,346.06 L302.40,342.89 L302.65,340.97 L302.90,338.79 L303.15,336.95 L303.40,335.55 L303.65,334.44 L303.90,333.27 L304.15,332.44 L304.40,331.65 L304.65,330.82 L304.90,330.20 L305.15,330.17 L305.40,335.34 L305.65,358.48 L305.79,369.26 L305.90,367.94 L306.15,361.51 L306.40,356.25 L306.65,351.83 L306.90,348.43 L307.15,345.00 L307.40,342.27 L307.65,340.17 L307.90,337.96 L308.15,336.39 L308.40,335.01 L308.65,333.92 L308.90,332.74 L309.15,332.01 L309.40,331.42 L309.65,330.64 L309.90,330.13 L310.15,329.93 L310.40,339.40 L310.65,358.73 L310.72,362.62 L310.90,360.22 L311.15,355.11 L311.40,351.14 L311.65,347.26 L311.90,344.00 L312.15,341.72 L312.40,339.52 L312.65,337.77 L312.90,335.86 L313.15,334.75 L313.40,333.83 L313.65,332.74 L313.90,332.08 L314.15,331.12 L314.40,330.73 L314.65,330.17 L314.90,330.01 L315.15,329.26 L315.40,329.68 L315.65,345.83 L315.84,357.31 L315.90,357.39 L316.15,352.69 L316.40,348.74 L316.65,345.39 L316.90,342.89 L317.15,340.34 L317.40,338.67 L317.65,336.87 L317.90,335.45 L318.15,334.34 L318.40,333.13 L318.65,332.42 L318.90,331.28 L319.15,330.85 L319.40,330.55 L319.65,329.93 L319.90,329.83 L320.15,329.27 L320.40,333.02 L320.65,347.59 L320.78,353.51 L320.90,352.56 L321.15,348.67 L321.40,345.43 L321.65,342.57 L321.90,340.30 L322.15,338.51 L322.40,336.60 L322.65,335.27 L322.90,333.98 L323.15,333.09 L323.40,332.31 L323.65,331.58 L323.90,330.84 L324.15,330.25 L324.40,329.97 L324.65,329.69 L324.90,329.34 L325.15,329.36 L325.40,328.77 L325.65,338.53 L325.90,351.07 L325.90,350.28 L326.15,347.71 L326.40,344.33 L326.65,341.85 L326.90,339.42 L327.15,337.76 L327.40,336.33 L327.65,335.04 L327.90,333.84 L328.15,332.95 L328.40,331.87 L328.65,331.54 L328.90,330.98 L329.15,329.96 L329.40,329.62 L329.65,329.56 L329.90,329.26 L330.15,329.10 L330.40,328.71 L330.65,331.68 L330.90,342.65 L331.02,347.44 L331.15,346.78 L331.40,343.63 L331.65,340.89 L331.90,339.03 L332.15,337.39 L332.40,335.78 L332.65,334.61 L332.90,333.51 L333.15,332.53 L333.40,331.59 L333.65,331.11 L333.90,330.66 L334.15,329.99 L334.40,329.85 L334.65,329.65 L334.90,329.19 L335.15,328.88 L335.40,328.63 L335.65,333.88 L335.90,343.92 L335.96,345.16 L336.15,343.67 L336.40,341.12 L336.65,339.40 L336.90,337.50 L337.15,335.74 L337.40,334.59 L337.65,333.52 L337.90,332.68 L338.15,331.49 L338.40,330.97 L338.65,330.35 L338.90,330.12 L339.15,329.59 L339.40,329.43 L339.65,329.37 L339.90,328.92 L340.15,328.49 L340.40,328.45 L340.65,329.01 L340.90,337.32 L341.08,343.26 L341.15,343.33 L341.40,340.78 L341.65,338.83 L341.90,337.18 L342.15,335.57 L342.40,334.51 L342.65,333.34 L342.90,332.21 L343.15,331.63 L343.40,330.98 L343.65,330.58 L343.90,330.28 L344.15,329.39 L344.40,329.29 L344.65,328.91 L344.90,328.82 L345.15,328.72 L345.40,328.67 L345.65,330.64 L345.90,338.50 L346.02,341.37 L346.15,340.94 L346.40,338.58 L346.65,337.09 L346.90,335.60 L347.15,334.52 L347.40,333.32 L347.65,332.02 L347.90,331.46 L348.15,331.00 L348.40,330.40 L348.65,329.94 L348.90,329.80 L349.15,329.11 L349.40,329.04 L349.65,328.93 L349.90,328.29 L350.15,328.45 L350.40,328.24 L350.65,332.33 L350.90,339.74 L350.95,340.23 L351.15,339.00 L351.40,337.43 L351.65,335.68 L351.90,334.39 L352.15,333.48 L352.40,332.71 L352.65,331.74 L352.90,331.21 L353.15,330.53 L353.40,330.26 L353.65,329.72 L353.90,329.39 L354.15,329.18 L354.40,328.90 L354.65,328.64 L354.90,328.39 L355.15,328.33 L355.40,328.12 L355.65,334.25 L355.88,339.85 L355.90,340.18 L356.15,338.37 L356.40,336.51 L356.65,335.28 L356.90,333.78 L357.15,332.92 L357.40,332.35 L357.65,331.49 L357.90,330.52 L358.15,330.26 L358.40,329.86 L358.65,329.41 L358.90,328.98 L359.15,328.74 L359.40,328.98 L359.65,328.46 L359.90,328.49 L360.15,328.34 L360.40,328.90 L360.65,335.61 L360.82,339.47 L360.90,339.28 L361.15,337.29 L361.40,335.95 L361.65,334.64 L361.90,333.57 L362.15,332.55 L362.40,331.75 L362.65,331.16 L362.90,330.45 L363.15,330.27 L363.40,329.76 L363.65,329.37 L363.90,329.04 L364.15,328.89 L364.40,328.64 L364.65,328.38 L364.90,328.41 L365.15,328.45 L365.40,328.38 L365.65,332.16 L365.90,338.27 L365.94,338.90 L366.15,338.15 L366.40,336.24 L366.65,334.89 L366.90,333.60 L367.15,332.79 L367.40,331.88 L367.65,331.17 L367.90,330.68 L368.15,330.23 L368.40,329.80 L368.65,329.44 L368.90,328.84 L369.15,328.96 L369.40,328.55 L369.65,328.46 L369.90,328.10 L370.15,328.28 L370.40,328.15 L370.65,327.96 L370.90,327.86" fill="none" stroke="#555" stroke-width="0.6" stroke-linejoin="round"/>
<line x1="272.9" y1="327.5" x2="371.3" y2="327.5" stroke="#d42020" stroke-width="0.6"/>
<rect x="272.4" y="392.8" width="99.4" height="70.9" fill="none" stroke="#6a6a6a" stroke-width="0.8"/>
<line x1="272.4" y1="396.4" x2="274.2" y2="396.4" stroke="#555" stroke-width="0.6"/>
<line x1="271.2" y1="396.4" x2="272.4" y2="396.4" stroke="#777" stroke-width="0.5"/>
<line x1="370.0" y1="396.4" x2="371.8" y2="396.4" stroke="#555" stroke-width="0.6"/>
<text x="270.6" y="397.9" font-size="4.3" text-anchor="end" fill="#000">0.0</text>
<line x1="272.4" y1="413.6" x2="274.2" y2="413.6" stroke="#555" stroke-width="0.6"/>
<line x1="271.2" y1="413.6" x2="272.4" y2="413.6" stroke="#777" stroke-width="0.5"/>
<line x1="370.0" y1="413.6" x2="371.8" y2="413.6" stroke="#555" stroke-width="0.6"/>
<line x1="272.4" y1="430.9" x2="274.2" y2="430.9" stroke="#555" stroke-width="0.6"/>
<line x1="271.2" y1="430.9" x2="272.4" y2="430.9" stroke="#777" stroke-width="0.5"/>
<line x1="370.0" y1="430.9" x2="371.8" y2="430.9" stroke="#555" stroke-width="0.6"/>
<text x="270.6" y="432.4" font-size="4.3" text-anchor="end" fill="#000">-2.0</text>
<line x1="272.4" y1="448.1" x2="274.2" y2="448.1" stroke="#555" stroke-width="0.6"/>
<line x1="271.2" y1="448.1" x2="272.4" y2="448.1" stroke="#777" stroke-width="0.5"/>
<line x1="370.0" y1="448.1" x2="371.8" y2="448.1" stroke="#555" stroke-width="0.6"/>
<line x1="288.0" y1="392.8" x2="288.0" y2="394.6" stroke="#555" stroke-width="0.6"/>
<line x1="288.0" y1="461.9" x2="288.0" y2="463.7" stroke="#555" stroke-width="0.6"/>
<text x="288.0" y="469.3" font-size="4.3" text-anchor="middle" fill="#000">0.5</text>
<line x1="305.8" y1="392.8" x2="305.8" y2="394.6" stroke="#555" stroke-width="0.6"/>
<line x1="305.8" y1="461.9" x2="305.8" y2="463.7" stroke="#555" stroke-width="0.6"/>
<text x="305.8" y="469.3" font-size="4.3" text-anchor="middle" fill="#000">1.0</text>
<line x1="323.5" y1="392.8" x2="323.5" y2="394.6" stroke="#555" stroke-width="0.6"/>
<line x1="323.5" y1="461.9" x2="323.5" y2="463.7" stroke="#555" stroke-width="0.6"/>
<text x="323.5" y="469.3" font-size="4.3" text-anchor="middle" fill="#000">1.5</text>
<line x1="341.3" y1="392.8" x2="341.3" y2="394.6" stroke="#555" stroke-width="0.6"/>
<line x1="341.3" y1="461.9" x2="341.3" y2="463.7" stroke="#555" stroke-width="0.6"/>
<text x="341.3" y="469.3" font-size="4.3" text-anchor="middle" fill="#000">2.0</text>
<line x1="359.1" y1="392.8" x2="359.1" y2="394.6" stroke="#555" stroke-width="0.6"/>
<line x1="359.1" y1="461.9" x2="359.1" y2="463.7" stroke="#555" stroke-width="0.6"/>
<text x="359.1" y="469.3" font-size="4.3" text-anchor="middle" fill="#000">2.5</text>
<line x1="279.1" y1="392.8" x2="279.1" y2="393.8" stroke="#666" stroke-width="0.5"/>
<line x1="279.1" y1="462.7" x2="279.1" y2="463.7" stroke="#666" stroke-width="0.5"/>
<line x1="296.9" y1="392.8" x2="296.9" y2="393.8" stroke="#666" stroke-width="0.5"/>
<line x1="296.9" y1="462.7" x2="296.9" y2="463.7" stroke="#666" stroke-width="0.5"/>
<line x1="314.6" y1="392.8" x2="314.6" y2="393.8" stroke="#666" stroke-width="0.5"/>
<line x1="314.6" y1="462.7" x2="314.6" y2="463.7" stroke="#666" stroke-width="0.5"/>
<line x1="332.4" y1="392.8" x2="332.4" y2="393.8" stroke="#666" stroke-width="0.5"/>
<line x1="332.4" y1="462.7" x2="332.4" y2="463.7" stroke="#666" stroke-width="0.5"/>
<line x1="350.2" y1="392.8" x2="350.2" y2="393.8" stroke="#666" stroke-width="0.5"/>
<line x1="350.2" y1="462.7" x2="350.2" y2="463.7" stroke="#666" stroke-width="0.5"/>
<line x1="368.0" y1="392.8" x2="368.0" y2="393.8" stroke="#666" stroke-width="0.5"/>
<line x1="368.0" y1="462.7" x2="368.0" y2="463.7" stroke="#666" stroke-width="0.5"/>
<text x="325.5" y="478.2" font-size="6.5" text-anchor="middle" fill="#000">Molar Ratio</text>
<text transform="translate(257.8,428.0) rotate(-90)" font-size="6.7" text-anchor="middle" fill="#000">kcal mol<tspan font-size="4.2" dy="-2.3">-1</tspan><tspan dy="2.3"> of injectant</tspan></text>
<path d="M274.50,461.50 L274.96,461.43 L275.43,461.37 L275.89,461.30 L276.35,461.23 L276.81,461.15 L277.27,461.06 L277.74,460.97 L278.20,460.87 L278.66,460.77 L279.12,460.66 L279.59,460.54 L280.05,460.41 L280.51,460.28 L280.98,460.13 L281.44,459.98 L281.90,459.82 L282.36,459.64 L282.82,459.45 L283.29,459.26 L283.75,459.05 L284.21,458.82 L284.68,458.58 L285.14,458.33 L285.60,458.06 L286.06,457.77 L286.52,457.47 L286.99,457.15 L287.45,456.80 L287.91,456.44 L288.38,456.06 L288.84,455.66 L289.30,455.23 L289.76,454.78 L290.23,454.30 L290.69,453.80 L291.15,453.28 L291.61,452.72 L292.07,452.14 L292.54,451.53 L293.00,450.90 L293.46,450.23 L293.93,449.54 L294.39,448.81 L294.85,448.06 L295.31,447.28 L295.77,446.46 L296.24,445.62 L296.70,444.76 L297.16,443.86 L297.62,442.94 L298.09,441.99 L298.55,441.02 L299.01,440.03 L299.48,439.01 L299.94,437.98 L300.40,436.93 L300.86,435.87 L301.32,434.79 L301.79,433.71 L302.25,432.62 L302.71,431.52 L303.18,430.42 L303.64,429.32 L304.10,428.22 L304.56,427.13 L305.02,426.05 L305.49,424.98 L305.95,423.92 L306.41,422.88 L306.88,421.85 L307.34,420.85 L307.80,419.86 L308.26,418.90 L308.73,417.97 L309.19,417.06 L309.65,416.17 L310.11,415.31 L310.57,414.48 L311.04,413.68 L311.50,412.91 L311.96,412.17 L312.43,411.46 L312.89,410.78 L313.35,410.12 L313.81,409.50 L314.27,408.90 L314.74,408.33 L315.20,407.79 L315.66,407.27 L316.12,406.78 L316.59,406.32 L317.05,405.88 L317.51,405.46 L317.98,405.06 L318.44,404.69 L318.90,404.33 L319.36,404.00 L319.82,403.69 L320.29,403.39 L320.75,403.11 L321.21,402.85 L321.68,402.60 L322.14,402.37 L322.60,402.15 L323.06,401.94 L323.52,401.75 L323.99,401.57 L324.45,401.40 L324.91,401.24 L325.38,401.09 L325.84,400.95 L326.30,400.81 L326.76,400.69 L327.23,400.58 L327.69,400.47 L328.15,400.37 L328.61,400.27 L329.07,400.18 L329.54,400.10 L330.00,400.02 L330.46,399.95 L330.93,399.88 L331.39,399.82 L331.85,399.76 L332.31,399.70 L332.77,399.65 L333.24,399.60 L333.70,399.56 L334.16,399.52 L334.62,399.48 L335.09,399.44 L335.55,399.41 L336.01,399.37 L336.48,399.34 L336.94,399.31 L337.40,399.29 L337.86,399.26 L338.32,399.24 L338.79,399.22 L339.25,399.20 L339.71,399.18 L340.18,399.16 L340.64,399.15 L341.10,399.13 L341.56,399.12 L342.02,399.11 L342.49,399.09 L342.95,399.08 L343.41,399.07 L343.88,399.06 L344.34,399.05 L344.80,399.04 L345.26,399.04 L345.73,399.03 L346.19,399.02 L346.65,399.01 L347.11,399.01 L347.57,399.00 L348.04,399.00 L348.50,398.99 L348.96,398.99 L349.43,398.98 L349.89,398.98 L350.35,398.97 L350.81,398.97 L351.27,398.97 L351.74,398.96 L352.20,398.96 L352.66,398.96 L353.12,398.96 L353.59,398.95 L354.05,398.95 L354.51,398.95 L354.98,398.95 L355.44,398.95 L355.90,398.94 L356.36,398.94 L356.82,398.94 L357.29,398.94 L357.75,398.94 L358.21,398.94 L358.68,398.94 L359.14,398.94 L359.60,398.93 L360.06,398.93 L360.52,398.93 L360.99,398.93 L361.45,398.93 L361.91,398.93 L362.38,398.93 L362.84,398.93 L363.30,398.93 L363.76,398.93 L364.23,398.93 L364.69,398.93 L365.15,398.93 L365.61,398.93 L366.07,398.93 L366.54,398.93 L367.00,398.93" fill="none" stroke="#dd2a2a" stroke-width="0.8"/>
<rect x="277.96" y="457.17" width="2.9" height="2.9" fill="#000"/>
<rect x="282.71" y="457.93" width="2.9" height="2.9" fill="#000"/>
<rect x="287.45" y="455.66" width="2.9" height="2.9" fill="#000"/>
<rect x="292.19" y="449.58" width="2.9" height="2.9" fill="#000"/>
<rect x="297.13" y="438.58" width="2.9" height="2.9" fill="#000"/>
<rect x="302.06" y="428.33" width="2.9" height="2.9" fill="#000"/>
<rect x="306.99" y="414.86" width="2.9" height="2.9" fill="#000"/>
<rect x="311.93" y="410.68" width="2.9" height="2.9" fill="#000"/>
<rect x="316.86" y="403.09" width="2.9" height="2.9" fill="#000"/>
<rect x="321.79" y="401.77" width="2.9" height="2.9" fill="#000"/>
<rect x="326.73" y="399.49" width="2.9" height="2.9" fill="#000"/>
<rect x="332.04" y="399.11" width="2.9" height="2.9" fill="#000"/>
<rect x="337.16" y="397.78" width="2.9" height="2.9" fill="#000"/>
<rect x="342.29" y="397.21" width="2.9" height="2.9" fill="#000"/>
<rect x="347.60" y="396.45" width="2.9" height="2.9" fill="#000"/>
<rect x="352.91" y="396.83" width="2.9" height="2.9" fill="#000"/>
<rect x="358.61" y="397.40" width="2.9" height="2.9" fill="#000"/>
<rect x="363.92" y="396.83" width="2.9" height="2.9" fill="#000"/>
<text x="415.8" y="323.4" font-size="11.3">+di-Ub<tspan font-size="6.6" dy="3.6">K63</tspan></text>
<line x1="381.0" y1="366.0" x2="392.7" y2="357.5" stroke="#111" stroke-width="1"/>
<ellipse cx="0" cy="0" rx="7.6" ry="11.6" fill="#ffbf00" transform="translate(391.70,351.50) rotate(22)"/>
<circle cx="381.0" cy="366.0" r="5.9" fill="#22eef6"/>
<line x1="382.5" y1="364.5" x2="393.2" y2="357.0" stroke="#111" stroke-width="1.3"/>
<line x1="401.9" y1="355.9" x2="412.1" y2="355.9" stroke="#111" stroke-width="1.3"/>
<path d="M416.1,355.9 L410.6,352.9 L410.6,358.9Z" fill="#111"/>
<rect x="431.2" y="349.5" width="3.6" height="15" fill="#b83ab8"/>
<ellipse cx="0" cy="0" rx="7.3" ry="11.2" fill="#a02fa6" transform="translate(436.90,340.50) rotate(30)"/>
<line x1="439.5" y1="367.8" x2="449.2" y2="364.7" stroke="#0a7a0a" stroke-width="3.6"/>
<line x1="439.5" y1="367.8" x2="449.2" y2="364.7" stroke="#14cc14" stroke-width="2.2"/>
<ellipse cx="0" cy="0" rx="9.3" ry="6.6" fill="#d63ad6" transform="translate(435.30,370.50) rotate(35)"/>
<path d="M447.4,358.9 L449.5,357.0 L451.7,358.3 L453.7,358.9 L456.6,357.7 L459.1,356.1 L462.3,361.3 L451.7,369.3 L448.5,367.5Z" fill="#14cc14" stroke="#2fdc2f" stroke-width="0.4"/>
<circle cx="449.5" cy="359.1" r="0.9" fill="#c8f050"/>
<line x1="426.0" y1="359.1" x2="423.8" y2="372.7" stroke="#a6bedd" stroke-width="2"/>
<line x1="423.8" y1="372.7" x2="418.5" y2="381.0" stroke="#a6bedd" stroke-width="1.6" stroke-linecap="round"/>
<circle cx="426.0" cy="359.1" r="6.2" fill="#a6bedd"/>
<circle cx="423.8" cy="372.7" r="6.2" fill="#a6bedd"/>
<ellipse cx="0" cy="0" rx="9.3" ry="6.6" fill="#d63ad6" transform="translate(435.30,370.50) rotate(35)"/>
<path d="M403.2,379.8 L414.5,379.8 L414.5,389.2 L419.4,389.2 L408.9,399.3 L398.3,389.2 L403.2,389.2Z" fill="#c9c9c9" stroke="#555" stroke-width="0.9" stroke-linejoin="miter"/>
<rect x="404.2" y="420.7" width="3.7" height="15.5" fill="#b83ab8"/>
<ellipse cx="0" cy="0" rx="7.0" ry="11.5" fill="#a02fa6" transform="translate(410.30,412.70) rotate(30)"/>
<ellipse cx="0" cy="0" rx="7.0" ry="11.3" fill="#ffbf00" transform="translate(424.75,418.10) rotate(-25)"/>
<line x1="400.5" y1="430.3" x2="398.3" y2="444.9" stroke="#a6bedd" stroke-width="2"/>
<line x1="398.3" y1="444.9" x2="393.4" y2="452.8" stroke="#a6bedd" stroke-width="1.6" stroke-linecap="round"/>
<circle cx="400.5" cy="430.3" r="6.2" fill="#a6bedd"/>
<circle cx="398.3" cy="444.9" r="6.2" fill="#a6bedd"/>
<circle cx="414.9" cy="432.9" r="6.1" fill="#22eef6"/>
<ellipse cx="0" cy="0" rx="9.0" ry="6.5" fill="#d63ad6" transform="translate(409.00,442.10) rotate(35)"/>
<line x1="413.3" y1="439.1" x2="422.6" y2="437.0" stroke="#0a7a0a" stroke-width="3.6"/>
<line x1="413.3" y1="439.1" x2="422.6" y2="437.0" stroke="#14cc14" stroke-width="2.2"/>
<rect x="-5.6" y="-5.6" width="11.2" height="11.2" rx="0.8" fill="#14cc14" transform="translate(428.3,434.7) rotate(-28)"/>
<circle cx="423.3" cy="431.3" r="0.9" fill="#c8f050"/>
<line x1="418.3" y1="430.2" x2="424.5" y2="424.6" stroke="#111" stroke-width="1.3"/>
<circle cx="424.7" cy="424.4" r="0.9" fill="none" stroke="#111" stroke-width="0.5"/>
<text x="380.5" y="466.0" font-size="11.3">N = 0.9</text>
<text x="380.5" y="478.4" font-size="11.3">K<tspan font-size="6.8" dy="2.8">d</tspan><tspan dy="-2.8"> = 2.0 ± 0.2 µM</tspan></text>
<rect x="489.0" y="325.6" width="97.1" height="69.8" fill="none" stroke="#6a6a6a" stroke-width="0.8"/>
<line x1="489.0" y1="330.4" x2="490.8" y2="330.4" stroke="#555" stroke-width="0.6"/>
<line x1="487.8" y1="330.4" x2="489.0" y2="330.4" stroke="#777" stroke-width="0.5"/>
<line x1="584.3" y1="330.4" x2="586.1" y2="330.4" stroke="#555" stroke-width="0.6"/>
<text x="487.2" y="331.9" font-size="4.3" text-anchor="end" fill="#000">0.02</text>
<line x1="489.0" y1="339.1" x2="490.8" y2="339.1" stroke="#555" stroke-width="0.6"/>
<line x1="487.8" y1="339.1" x2="489.0" y2="339.1" stroke="#777" stroke-width="0.5"/>
<line x1="584.3" y1="339.1" x2="586.1" y2="339.1" stroke="#555" stroke-width="0.6"/>
<text x="487.2" y="340.6" font-size="4.3" text-anchor="end" fill="#000">0.00</text>
<line x1="489.0" y1="347.7" x2="490.8" y2="347.7" stroke="#555" stroke-width="0.6"/>
<line x1="487.8" y1="347.7" x2="489.0" y2="347.7" stroke="#777" stroke-width="0.5"/>
<line x1="584.3" y1="347.7" x2="586.1" y2="347.7" stroke="#555" stroke-width="0.6"/>
<text x="487.2" y="349.2" font-size="4.3" text-anchor="end" fill="#000">-0.02</text>
<line x1="489.0" y1="356.4" x2="490.8" y2="356.4" stroke="#555" stroke-width="0.6"/>
<line x1="487.8" y1="356.4" x2="489.0" y2="356.4" stroke="#777" stroke-width="0.5"/>
<line x1="584.3" y1="356.4" x2="586.1" y2="356.4" stroke="#555" stroke-width="0.6"/>
<text x="487.2" y="357.9" font-size="4.3" text-anchor="end" fill="#000">-0.04</text>
<line x1="489.0" y1="365.1" x2="490.8" y2="365.1" stroke="#555" stroke-width="0.6"/>
<line x1="487.8" y1="365.1" x2="489.0" y2="365.1" stroke="#777" stroke-width="0.5"/>
<line x1="584.3" y1="365.1" x2="586.1" y2="365.1" stroke="#555" stroke-width="0.6"/>
<text x="487.2" y="366.6" font-size="4.3" text-anchor="end" fill="#000">-0.06</text>
<line x1="489.0" y1="373.8" x2="490.8" y2="373.8" stroke="#555" stroke-width="0.6"/>
<line x1="487.8" y1="373.8" x2="489.0" y2="373.8" stroke="#777" stroke-width="0.5"/>
<line x1="584.3" y1="373.8" x2="586.1" y2="373.8" stroke="#555" stroke-width="0.6"/>
<text x="487.2" y="375.2" font-size="4.3" text-anchor="end" fill="#000">-0.08</text>
<line x1="489.0" y1="382.4" x2="490.8" y2="382.4" stroke="#555" stroke-width="0.6"/>
<line x1="487.8" y1="382.4" x2="489.0" y2="382.4" stroke="#777" stroke-width="0.5"/>
<line x1="584.3" y1="382.4" x2="586.1" y2="382.4" stroke="#555" stroke-width="0.6"/>
<text x="487.2" y="383.9" font-size="4.3" text-anchor="end" fill="#000">-0.10</text>
<line x1="489.0" y1="391.1" x2="490.8" y2="391.1" stroke="#555" stroke-width="0.6"/>
<line x1="487.8" y1="391.1" x2="489.0" y2="391.1" stroke="#777" stroke-width="0.5"/>
<line x1="584.3" y1="391.1" x2="586.1" y2="391.1" stroke="#555" stroke-width="0.6"/>
<text x="487.2" y="392.6" font-size="4.3" text-anchor="end" fill="#000">-0.12</text>
<line x1="489.0" y1="334.7" x2="490.0" y2="334.7" stroke="#666" stroke-width="0.5"/>
<line x1="585.1" y1="334.7" x2="586.1" y2="334.7" stroke="#666" stroke-width="0.5"/>
<line x1="489.0" y1="343.4" x2="490.0" y2="343.4" stroke="#666" stroke-width="0.5"/>
<line x1="585.1" y1="343.4" x2="586.1" y2="343.4" stroke="#666" stroke-width="0.5"/>
<line x1="489.0" y1="352.1" x2="490.0" y2="352.1" stroke="#666" stroke-width="0.5"/>
<line x1="585.1" y1="352.1" x2="586.1" y2="352.1" stroke="#666" stroke-width="0.5"/>
<line x1="489.0" y1="360.7" x2="490.0" y2="360.7" stroke="#666" stroke-width="0.5"/>
<line x1="585.1" y1="360.7" x2="586.1" y2="360.7" stroke="#666" stroke-width="0.5"/>
<line x1="489.0" y1="369.4" x2="490.0" y2="369.4" stroke="#666" stroke-width="0.5"/>
<line x1="585.1" y1="369.4" x2="586.1" y2="369.4" stroke="#666" stroke-width="0.5"/>
<line x1="489.0" y1="378.1" x2="490.0" y2="378.1" stroke="#666" stroke-width="0.5"/>
<line x1="585.1" y1="378.1" x2="586.1" y2="378.1" stroke="#666" stroke-width="0.5"/>
<line x1="489.0" y1="386.8" x2="490.0" y2="386.8" stroke="#666" stroke-width="0.5"/>
<line x1="585.1" y1="386.8" x2="586.1" y2="386.8" stroke="#666" stroke-width="0.5"/>
<line x1="495.6" y1="325.6" x2="495.6" y2="327.4" stroke="#555" stroke-width="0.6"/>
<line x1="495.6" y1="393.6" x2="495.6" y2="395.4" stroke="#555" stroke-width="0.6"/>
<text x="495.6" y="323.7" font-size="4.3" text-anchor="middle" fill="#000">0</text>
<line x1="508.5" y1="325.6" x2="508.5" y2="327.4" stroke="#555" stroke-width="0.6"/>
<line x1="508.5" y1="393.6" x2="508.5" y2="395.4" stroke="#555" stroke-width="0.6"/>
<text x="508.5" y="323.7" font-size="4.3" text-anchor="middle" fill="#000">10</text>
<line x1="521.5" y1="325.6" x2="521.5" y2="327.4" stroke="#555" stroke-width="0.6"/>
<line x1="521.5" y1="393.6" x2="521.5" y2="395.4" stroke="#555" stroke-width="0.6"/>
<text x="521.5" y="323.7" font-size="4.3" text-anchor="middle" fill="#000">20</text>
<line x1="534.4" y1="325.6" x2="534.4" y2="327.4" stroke="#555" stroke-width="0.6"/>
<line x1="534.4" y1="393.6" x2="534.4" y2="395.4" stroke="#555" stroke-width="0.6"/>
<text x="534.4" y="323.7" font-size="4.3" text-anchor="middle" fill="#000">30</text>
<line x1="547.3" y1="325.6" x2="547.3" y2="327.4" stroke="#555" stroke-width="0.6"/>
<line x1="547.3" y1="393.6" x2="547.3" y2="395.4" stroke="#555" stroke-width="0.6"/>
<text x="547.3" y="323.7" font-size="4.3" text-anchor="middle" fill="#000">40</text>
<line x1="560.2" y1="325.6" x2="560.2" y2="327.4" stroke="#555" stroke-width="0.6"/>
<line x1="560.2" y1="393.6" x2="560.2" y2="395.4" stroke="#555" stroke-width="0.6"/>
<text x="560.2" y="323.7" font-size="4.3" text-anchor="middle" fill="#000">50</text>
<line x1="573.2" y1="325.6" x2="573.2" y2="327.4" stroke="#555" stroke-width="0.6"/>
<line x1="573.2" y1="393.6" x2="573.2" y2="395.4" stroke="#555" stroke-width="0.6"/>
<text x="573.2" y="323.7" font-size="4.3" text-anchor="middle" fill="#000">60</text>
<line x1="586.1" y1="325.6" x2="586.1" y2="327.4" stroke="#555" stroke-width="0.6"/>
<line x1="586.1" y1="393.6" x2="586.1" y2="395.4" stroke="#555" stroke-width="0.6"/>
<text x="586.1" y="323.7" font-size="4.3" text-anchor="middle" fill="#000">70</text>
<line x1="502.1" y1="325.6" x2="502.1" y2="326.6" stroke="#666" stroke-width="0.5"/>
<line x1="502.1" y1="394.4" x2="502.1" y2="395.4" stroke="#666" stroke-width="0.5"/>
<line x1="515.0" y1="325.6" x2="515.0" y2="326.6" stroke="#666" stroke-width="0.5"/>
<line x1="515.0" y1="394.4" x2="515.0" y2="395.4" stroke="#666" stroke-width="0.5"/>
<line x1="527.9" y1="325.6" x2="527.9" y2="326.6" stroke="#666" stroke-width="0.5"/>
<line x1="527.9" y1="394.4" x2="527.9" y2="395.4" stroke="#666" stroke-width="0.5"/>
<line x1="540.9" y1="325.6" x2="540.9" y2="326.6" stroke="#666" stroke-width="0.5"/>
<line x1="540.9" y1="394.4" x2="540.9" y2="395.4" stroke="#666" stroke-width="0.5"/>
<line x1="553.8" y1="325.6" x2="553.8" y2="326.6" stroke="#666" stroke-width="0.5"/>
<line x1="553.8" y1="394.4" x2="553.8" y2="395.4" stroke="#666" stroke-width="0.5"/>
<line x1="566.7" y1="325.6" x2="566.7" y2="326.6" stroke="#666" stroke-width="0.5"/>
<line x1="566.7" y1="394.4" x2="566.7" y2="395.4" stroke="#666" stroke-width="0.5"/>
<line x1="579.6" y1="325.6" x2="579.6" y2="326.6" stroke="#666" stroke-width="0.5"/>
<line x1="579.6" y1="394.4" x2="579.6" y2="395.4" stroke="#666" stroke-width="0.5"/>
<text x="540.6" y="318.6" font-size="6.5" text-anchor="middle" fill="#000">Time (min)</text>
<text transform="translate(474.5,360.0) rotate(-90)" font-size="7.0" text-anchor="middle" fill="#000">µcal/sec</text>
<path d="M496.20,338.14 L496.45,336.94 L496.70,338.84 L496.95,361.99 L497.13,378.18 L497.20,370.82 L497.45,367.23 L497.70,356.43 L497.95,352.25 L498.20,347.71 L498.45,346.40 L498.70,342.90 L498.95,343.25 L499.20,342.37 L499.45,341.56 L499.70,339.57 L499.95,341.80 L500.20,339.96 L500.45,340.19 L500.70,340.09 L500.95,351.24 L501.20,375.03 L501.31,388.80 L501.45,381.44 L501.70,368.19 L501.95,357.70 L502.20,355.16 L502.45,350.44 L502.70,346.16 L502.95,342.55 L503.20,341.94 L503.45,340.57 L503.70,343.38 L503.95,338.99 L504.20,341.07 L504.45,336.27 L504.70,339.89 L504.95,341.45 L505.20,339.18 L505.45,361.37 L505.67,388.24 L505.70,385.89 L505.95,372.86 L506.20,361.92 L506.45,354.97 L506.70,350.57 L506.95,347.05 L507.20,343.19 L507.45,343.66 L507.70,343.26 L507.95,342.37 L508.20,339.19 L508.45,340.23 L508.70,342.34 L508.95,337.93 L509.20,340.49 L509.45,338.81 L509.70,340.89 L509.95,358.38 L510.20,387.07 L510.23,388.24 L510.45,376.51 L510.70,364.20 L510.95,357.55 L511.20,351.20 L511.45,349.34 L511.70,345.13 L511.95,341.82 L512.20,341.52 L512.45,343.49 L512.70,341.72 L512.95,340.59 L513.20,339.04 L513.45,337.48 L513.70,340.09 L513.95,339.87 L514.20,337.28 L514.45,352.54 L514.70,382.11 L514.78,389.56 L514.95,379.05 L515.20,366.90 L515.45,359.30 L515.70,353.44 L515.95,349.87 L516.20,345.22 L516.45,344.09 L516.70,340.31 L516.95,339.46 L517.20,340.66 L517.45,339.90 L517.70,338.81 L517.95,338.14 L518.20,341.16 L518.45,339.65 L518.70,357.04 L518.95,381.49 L518.96,385.01 L519.20,373.42 L519.45,361.10 L519.70,351.93 L519.95,348.38 L520.20,347.49 L520.45,346.46 L520.70,345.50 L520.95,342.93 L521.20,340.57 L521.45,339.75 L521.70,340.81 L521.95,341.66 L522.20,339.75 L522.45,338.80 L522.70,338.72 L522.95,347.78 L523.20,367.08 L523.32,377.42 L523.45,374.17 L523.70,360.94 L523.95,351.15 L524.20,348.74 L524.45,345.16 L524.70,344.23 L524.95,344.76 L525.20,340.36 L525.45,341.86 L525.70,343.27 L525.95,341.31 L526.20,340.86 L526.45,341.11 L526.70,341.23 L526.95,338.75 L527.20,350.87 L527.45,366.35 L527.50,370.21 L527.70,361.01 L527.95,355.80 L528.20,349.98 L528.45,348.51 L528.70,342.13 L528.95,344.15 L529.20,342.67 L529.45,341.08 L529.70,339.72 L529.95,338.63 L530.20,339.58 L530.45,339.98 L530.70,338.77 L530.95,340.52 L531.20,338.11 L531.45,343.30 L531.70,355.79 L531.86,366.03 L531.95,363.78 L532.20,355.15 L532.45,354.73 L532.70,344.23 L532.95,347.48 L533.20,344.37 L533.45,343.97 L533.70,339.01 L533.95,339.86 L534.20,337.21 L534.45,339.69 L534.70,339.37 L534.95,339.38 L535.20,338.68 L535.45,337.57 L535.70,345.49 L535.95,360.76 L536.03,362.62 L536.20,358.37 L536.45,351.17 L536.70,349.07 L536.95,346.62 L537.20,342.35 L537.45,341.53 L537.70,342.94 L537.95,341.53 L538.20,338.47 L538.45,339.46 L538.70,338.22 L538.95,341.75 L539.20,339.04 L539.45,338.44 L539.70,337.48 L539.95,342.26 L540.20,351.10 L540.40,359.77 L540.45,359.97 L540.70,351.98 L540.95,350.50 L541.20,346.04 L541.45,343.13 L541.70,342.70 L541.95,342.04 L542.20,342.14 L542.45,341.69 L542.70,336.46 L542.95,340.09 L543.20,337.92 L543.45,340.09 L543.70,340.54 L543.95,339.61 L544.20,338.98 L544.45,345.66 L544.70,354.55 L544.76,356.55 L544.95,351.02 L545.20,349.77 L545.45,347.18 L545.70,344.37 L545.95,343.27 L546.20,341.02 L546.45,340.45 L546.70,340.45 L546.95,338.45 L547.20,341.90 L547.45,340.56 L547.70,341.95 L547.95,338.89 L548.20,341.36 L548.45,336.41 L548.70,346.56 L548.94,355.03 L548.95,356.51 L549.20,350.06 L549.45,345.38 L549.70,346.15 L549.95,342.69 L550.20,342.56 L550.45,341.21 L550.70,340.31 L550.95,340.32 L551.20,336.19 L551.45,336.65 L551.70,343.50 L551.95,337.71 L552.20,339.45 L552.45,340.35 L552.70,343.55 L552.95,348.72 L553.11,351.61 L553.20,350.77 L553.45,347.02 L553.70,342.82 L553.95,339.87 L554.20,341.38 L554.45,341.01 L554.70,343.29 L554.95,340.80 L555.20,339.44 L555.45,338.54 L555.70,340.82 L555.95,339.39 L556.20,341.78 L556.45,342.54 L556.70,340.71 L556.95,339.84 L557.20,340.25 L557.45,346.98 L557.67,350.28 L557.70,348.64 L557.95,346.71 L558.20,343.94 L558.45,342.38 L558.70,344.42 L558.95,340.78 L559.20,341.05 L559.45,342.11 L559.70,339.64 L559.95,341.67 L560.20,338.99 L560.45,340.89 L560.70,338.60 L560.95,339.45 L561.20,343.24 L561.45,339.18 L561.70,342.42 L561.95,350.51 L562.03,349.34 L562.20,347.78 L562.45,346.01 L562.70,340.57 L562.95,344.34 L563.20,345.87 L563.45,342.80 L563.70,340.22 L563.95,341.27 L564.20,334.99 L564.45,339.99 L564.70,337.17 L564.95,340.84 L565.20,342.09 L565.45,339.15 L565.70,338.54 L565.95,340.62 L566.20,341.62 L566.39,348.77 L566.45,347.65 L566.70,344.23 L566.95,342.80 L567.20,347.99 L567.45,341.84 L567.70,339.18 L567.95,336.39 L568.20,341.28 L568.45,337.86 L568.70,341.85 L568.95,344.77 L569.20,340.12 L569.45,338.93 L569.70,337.61 L569.95,337.47 L570.20,344.30 L570.45,348.53 L570.57,351.23 L570.70,347.82 L570.95,344.30 L571.20,344.01 L571.45,347.28 L571.70,340.84 L571.95,339.40 L572.20,341.31 L572.45,335.37 L572.70,337.68 L572.95,341.56 L573.20,340.55 L573.45,340.15 L573.70,344.95 L573.95,340.73 L573.98,345.54 L574.20,345.09 L574.45,342.04 L574.70,340.93 L574.95,338.80 L575.20,341.43 L575.45,344.63 L575.70,340.59 L575.95,341.82 L576.20,343.41 L576.26,344.59 L576.45,344.53 L576.70,339.78 L576.95,343.25 L577.20,335.81 L577.45,339.84 L577.70,338.79 L577.95,339.93" fill="none" stroke="#1a1a1a" stroke-width="0.55" stroke-linejoin="round"/>
<line x1="496" y1="339.3" x2="579" y2="339.3" stroke="#d42020" stroke-width="0.7"/>
<rect x="489.0" y="395.4" width="97.1" height="68.9" fill="none" stroke="#6a6a6a" stroke-width="0.8"/>
<line x1="489.0" y1="395.4" x2="490.8" y2="395.4" stroke="#555" stroke-width="0.6"/>
<line x1="487.8" y1="395.4" x2="489.0" y2="395.4" stroke="#777" stroke-width="0.5"/>
<line x1="584.3" y1="395.4" x2="586.1" y2="395.4" stroke="#555" stroke-width="0.6"/>
<text x="487.2" y="396.9" font-size="4.3" text-anchor="end" fill="#000">0.20</text>
<line x1="489.0" y1="406.9" x2="490.8" y2="406.9" stroke="#555" stroke-width="0.6"/>
<line x1="487.8" y1="406.9" x2="489.0" y2="406.9" stroke="#777" stroke-width="0.5"/>
<line x1="584.3" y1="406.9" x2="586.1" y2="406.9" stroke="#555" stroke-width="0.6"/>
<text x="487.2" y="408.4" font-size="4.3" text-anchor="end" fill="#000">0.00</text>
<line x1="489.0" y1="418.4" x2="490.8" y2="418.4" stroke="#555" stroke-width="0.6"/>
<line x1="487.8" y1="418.4" x2="489.0" y2="418.4" stroke="#777" stroke-width="0.5"/>
<line x1="584.3" y1="418.4" x2="586.1" y2="418.4" stroke="#555" stroke-width="0.6"/>
<text x="487.2" y="419.9" font-size="4.3" text-anchor="end" fill="#000">-0.20</text>
<line x1="489.0" y1="429.8" x2="490.8" y2="429.8" stroke="#555" stroke-width="0.6"/>
<line x1="487.8" y1="429.8" x2="489.0" y2="429.8" stroke="#777" stroke-width="0.5"/>
<line x1="584.3" y1="429.8" x2="586.1" y2="429.8" stroke="#555" stroke-width="0.6"/>
<text x="487.2" y="431.3" font-size="4.3" text-anchor="end" fill="#000">-0.40</text>
<line x1="489.0" y1="441.3" x2="490.8" y2="441.3" stroke="#555" stroke-width="0.6"/>
<line x1="487.8" y1="441.3" x2="489.0" y2="441.3" stroke="#777" stroke-width="0.5"/>
<line x1="584.3" y1="441.3" x2="586.1" y2="441.3" stroke="#555" stroke-width="0.6"/>
<text x="487.2" y="442.8" font-size="4.3" text-anchor="end" fill="#000">-0.60</text>
<line x1="489.0" y1="452.8" x2="490.8" y2="452.8" stroke="#555" stroke-width="0.6"/>
<line x1="487.8" y1="452.8" x2="489.0" y2="452.8" stroke="#777" stroke-width="0.5"/>
<line x1="584.3" y1="452.8" x2="586.1" y2="452.8" stroke="#555" stroke-width="0.6"/>
<text x="487.2" y="454.3" font-size="4.3" text-anchor="end" fill="#000">-0.80</text>
<line x1="489.0" y1="464.3" x2="490.8" y2="464.3" stroke="#555" stroke-width="0.6"/>
<line x1="487.8" y1="464.3" x2="489.0" y2="464.3" stroke="#777" stroke-width="0.5"/>
<line x1="584.3" y1="464.3" x2="586.1" y2="464.3" stroke="#555" stroke-width="0.6"/>
<text x="487.2" y="465.8" font-size="4.3" text-anchor="end" fill="#000">-1.00</text>
<line x1="489.0" y1="401.1" x2="490.0" y2="401.1" stroke="#666" stroke-width="0.5"/>
<line x1="585.1" y1="401.1" x2="586.1" y2="401.1" stroke="#666" stroke-width="0.5"/>
<line x1="489.0" y1="412.6" x2="490.0" y2="412.6" stroke="#666" stroke-width="0.5"/>
<line x1="585.1" y1="412.6" x2="586.1" y2="412.6" stroke="#666" stroke-width="0.5"/>
<line x1="489.0" y1="424.1" x2="490.0" y2="424.1" stroke="#666" stroke-width="0.5"/>
<line x1="585.1" y1="424.1" x2="586.1" y2="424.1" stroke="#666" stroke-width="0.5"/>
<line x1="489.0" y1="435.6" x2="490.0" y2="435.6" stroke="#666" stroke-width="0.5"/>
<line x1="585.1" y1="435.6" x2="586.1" y2="435.6" stroke="#666" stroke-width="0.5"/>
<line x1="489.0" y1="447.1" x2="490.0" y2="447.1" stroke="#666" stroke-width="0.5"/>
<line x1="585.1" y1="447.1" x2="586.1" y2="447.1" stroke="#666" stroke-width="0.5"/>
<line x1="489.0" y1="458.5" x2="490.0" y2="458.5" stroke="#666" stroke-width="0.5"/>
<line x1="585.1" y1="458.5" x2="586.1" y2="458.5" stroke="#666" stroke-width="0.5"/>
<line x1="495.6" y1="395.4" x2="495.6" y2="397.2" stroke="#555" stroke-width="0.6"/>
<line x1="495.6" y1="462.5" x2="495.6" y2="464.3" stroke="#555" stroke-width="0.6"/>
<text x="495.6" y="469.9" font-size="4.3" text-anchor="middle" fill="#000">0.0</text>
<line x1="510.5" y1="395.4" x2="510.5" y2="397.2" stroke="#555" stroke-width="0.6"/>
<line x1="510.5" y1="462.5" x2="510.5" y2="464.3" stroke="#555" stroke-width="0.6"/>
<text x="510.5" y="469.9" font-size="4.3" text-anchor="middle" fill="#000">0.5</text>
<line x1="525.3" y1="395.4" x2="525.3" y2="397.2" stroke="#555" stroke-width="0.6"/>
<line x1="525.3" y1="462.5" x2="525.3" y2="464.3" stroke="#555" stroke-width="0.6"/>
<text x="525.3" y="469.9" font-size="4.3" text-anchor="middle" fill="#000">1.0</text>
<line x1="540.2" y1="395.4" x2="540.2" y2="397.2" stroke="#555" stroke-width="0.6"/>
<line x1="540.2" y1="462.5" x2="540.2" y2="464.3" stroke="#555" stroke-width="0.6"/>
<text x="540.2" y="469.9" font-size="4.3" text-anchor="middle" fill="#000">1.5</text>
<line x1="555.1" y1="395.4" x2="555.1" y2="397.2" stroke="#555" stroke-width="0.6"/>
<line x1="555.1" y1="462.5" x2="555.1" y2="464.3" stroke="#555" stroke-width="0.6"/>
<text x="555.1" y="469.9" font-size="4.3" text-anchor="middle" fill="#000">2.0</text>
<line x1="570.0" y1="395.4" x2="570.0" y2="397.2" stroke="#555" stroke-width="0.6"/>
<line x1="570.0" y1="462.5" x2="570.0" y2="464.3" stroke="#555" stroke-width="0.6"/>
<text x="570.0" y="469.9" font-size="4.3" text-anchor="middle" fill="#000">2.5</text>
<line x1="584.8" y1="395.4" x2="584.8" y2="397.2" stroke="#555" stroke-width="0.6"/>
<line x1="584.8" y1="462.5" x2="584.8" y2="464.3" stroke="#555" stroke-width="0.6"/>
<text x="584.8" y="469.9" font-size="4.3" text-anchor="middle" fill="#000">3.0</text>
<line x1="503.0" y1="395.4" x2="503.0" y2="396.4" stroke="#666" stroke-width="0.5"/>
<line x1="503.0" y1="463.3" x2="503.0" y2="464.3" stroke="#666" stroke-width="0.5"/>
<line x1="517.9" y1="395.4" x2="517.9" y2="396.4" stroke="#666" stroke-width="0.5"/>
<line x1="517.9" y1="463.3" x2="517.9" y2="464.3" stroke="#666" stroke-width="0.5"/>
<line x1="532.8" y1="395.4" x2="532.8" y2="396.4" stroke="#666" stroke-width="0.5"/>
<line x1="532.8" y1="463.3" x2="532.8" y2="464.3" stroke="#666" stroke-width="0.5"/>
<line x1="547.6" y1="395.4" x2="547.6" y2="396.4" stroke="#666" stroke-width="0.5"/>
<line x1="547.6" y1="463.3" x2="547.6" y2="464.3" stroke="#666" stroke-width="0.5"/>
<line x1="562.5" y1="395.4" x2="562.5" y2="396.4" stroke="#666" stroke-width="0.5"/>
<line x1="562.5" y1="463.3" x2="562.5" y2="464.3" stroke="#666" stroke-width="0.5"/>
<line x1="577.4" y1="395.4" x2="577.4" y2="396.4" stroke="#666" stroke-width="0.5"/>
<line x1="577.4" y1="463.3" x2="577.4" y2="464.3" stroke="#666" stroke-width="0.5"/>
<text x="540.6" y="478.2" font-size="6.5" text-anchor="middle" fill="#000">Molar Ratio</text>
<text transform="translate(475.5,428.0) rotate(-90)" font-size="6.7" text-anchor="middle" fill="#000">kcal mol<tspan font-size="4.2" dy="-2.3">-1</tspan><tspan dy="2.3"> of injectant</tspan></text>
<path d="M500.00,455.42 L500.38,455.41 L500.75,455.41 L501.12,455.40 L501.50,455.40 L501.88,455.39 L502.25,455.38 L502.62,455.37 L503.00,455.36 L503.38,455.35 L503.75,455.34 L504.12,455.32 L504.50,455.31 L504.88,455.29 L505.25,455.27 L505.62,455.25 L506.00,455.22 L506.38,455.20 L506.75,455.17 L507.12,455.13 L507.50,455.09 L507.88,455.05 L508.25,455.00 L508.62,454.95 L509.00,454.89 L509.38,454.83 L509.75,454.75 L510.12,454.67 L510.50,454.58 L510.88,454.48 L511.25,454.37 L511.62,454.24 L512.00,454.10 L512.38,453.95 L512.75,453.78 L513.12,453.59 L513.50,453.38 L513.88,453.15 L514.25,452.89 L514.62,452.61 L515.00,452.30 L515.38,451.95 L515.75,451.58 L516.12,451.16 L516.50,450.71 L516.88,450.21 L517.25,449.67 L517.62,449.09 L518.00,448.45 L518.38,447.76 L518.75,447.02 L519.12,446.22 L519.50,445.36 L519.88,444.45 L520.25,443.49 L520.62,442.46 L521.00,441.39 L521.38,440.27 L521.75,439.09 L522.12,437.88 L522.50,436.63 L522.88,435.36 L523.25,434.06 L523.62,432.74 L524.00,431.42 L524.38,430.10 L524.75,428.79 L525.12,427.49 L525.50,426.22 L525.88,424.98 L526.25,423.78 L526.62,422.62 L527.00,421.51 L527.38,420.45 L527.75,419.44 L528.12,418.48 L528.50,417.59 L528.88,416.75 L529.25,415.96 L529.62,415.23 L530.00,414.56 L530.38,413.93 L530.75,413.36 L531.12,412.83 L531.50,412.34 L531.88,411.90 L532.25,411.50 L532.62,411.13 L533.00,410.79 L533.38,410.49 L533.75,410.21 L534.12,409.96 L534.50,409.74 L534.88,409.53 L535.25,409.35 L535.62,409.18 L536.00,409.03 L536.38,408.90 L536.75,408.78 L537.12,408.67 L537.50,408.57 L537.88,408.48 L538.25,408.40 L538.62,408.33 L539.00,408.27 L539.38,408.21 L539.75,408.16 L540.12,408.11 L540.50,408.07 L540.88,408.03 L541.25,408.00 L541.62,407.97 L542.00,407.94 L542.38,407.92 L542.75,407.90 L543.12,407.88 L543.50,407.86 L543.88,407.85 L544.25,407.83 L544.62,407.82 L545.00,407.81 L545.38,407.80 L545.75,407.79 L546.12,407.78 L546.50,407.77 L546.88,407.77 L547.25,407.76 L547.62,407.76 L548.00,407.75 L548.38,407.75 L548.75,407.74 L549.12,407.74 L549.50,407.74 L549.88,407.74 L550.25,407.73 L550.62,407.73 L551.00,407.73 L551.38,407.73 L551.75,407.73 L552.12,407.72 L552.50,407.72 L552.88,407.72 L553.25,407.72 L553.62,407.72 L554.00,407.72 L554.38,407.72 L554.75,407.72 L555.12,407.72 L555.50,407.72 L555.88,407.72 L556.25,407.72 L556.62,407.72 L557.00,407.72 L557.38,407.72 L557.75,407.72 L558.12,407.72 L558.50,407.72 L558.88,407.71 L559.25,407.71 L559.62,407.71 L560.00,407.71 L560.38,407.71 L560.75,407.71 L561.12,407.71 L561.50,407.71 L561.88,407.71 L562.25,407.71 L562.62,407.71 L563.00,407.71 L563.38,407.71 L563.75,407.71 L564.12,407.71 L564.50,407.71 L564.88,407.71 L565.25,407.71 L565.62,407.71 L566.00,407.71 L566.38,407.71 L566.75,407.71 L567.12,407.71 L567.50,407.71 L567.88,407.71 L568.25,407.71 L568.62,407.71 L569.00,407.71 L569.38,407.71 L569.75,407.71 L570.12,407.71 L570.50,407.71 L570.88,407.71 L571.25,407.71 L571.62,407.71 L572.00,407.71 L572.38,407.71 L572.75,407.71 L573.12,407.71 L573.50,407.71 L573.88,407.71 L574.25,407.71 L574.62,407.71 L575.00,407.71" fill="none" stroke="#dd2a2a" stroke-width="0.8"/>
<rect x="502.71" y="452.43" width="2.9" height="2.9" fill="#000"/>
<rect x="506.50" y="452.81" width="2.9" height="2.9" fill="#000"/>
<rect x="510.68" y="451.29" width="2.9" height="2.9" fill="#000"/>
<rect x="514.47" y="453.38" width="2.9" height="2.9" fill="#000"/>
<rect x="518.27" y="446.17" width="2.9" height="2.9" fill="#000"/>
<rect x="522.44" y="425.68" width="2.9" height="2.9" fill="#000"/>
<rect x="526.42" y="418.65" width="2.9" height="2.9" fill="#000"/>
<rect x="530.41" y="412.96" width="2.9" height="2.9" fill="#000"/>
<rect x="534.58" y="410.49" width="2.9" height="2.9" fill="#000"/>
<rect x="538.76" y="407.84" width="2.9" height="2.9" fill="#000"/>
<rect x="542.93" y="408.79" width="2.9" height="2.9" fill="#000"/>
<rect x="547.11" y="404.80" width="2.9" height="2.9" fill="#000"/>
<rect x="551.28" y="406.89" width="2.9" height="2.9" fill="#000"/>
<rect x="555.46" y="403.09" width="2.9" height="2.9" fill="#000"/>
<rect x="559.63" y="404.80" width="2.9" height="2.9" fill="#000"/>
<rect x="564.00" y="404.80" width="2.9" height="2.9" fill="#000"/>
<rect x="568.36" y="406.70" width="2.9" height="2.9" fill="#000"/>
<rect x="572.91" y="404.80" width="2.9" height="2.9" fill="#000"/>
<text x="624.4" y="323.4" font-size="11.3">+di-Ub<tspan font-size="6.6" dy="3.6">lin</tspan></text>
<line x1="596.0" y1="365.4" x2="607.2" y2="357.1" stroke="#111" stroke-width="1"/>
<ellipse cx="0" cy="0" rx="7.6" ry="11.6" fill="#ffbf00" transform="translate(606.20,351.10) rotate(22)"/>
<circle cx="596.0" cy="365.4" r="5.9" fill="#22eef6"/>
<line x1="597.5" y1="363.9" x2="607.7" y2="356.6" stroke="#111" stroke-width="1.3"/>
<line x1="615.7" y1="355.5" x2="625.5" y2="355.5" stroke="#111" stroke-width="1.3"/>
<path d="M629.5,355.5 L624.0,352.5 L624.0,358.5Z" fill="#111"/>
<rect x="644.8" y="349.2" width="3.6" height="15" fill="#b83ab8"/>
<ellipse cx="0" cy="0" rx="7.3" ry="11.2" fill="#a02fa6" transform="translate(650.50,340.20) rotate(30)"/>
<line x1="653.1" y1="367.5" x2="662.8" y2="364.4" stroke="#0a7a0a" stroke-width="3.6"/>
<line x1="653.1" y1="367.5" x2="662.8" y2="364.4" stroke="#14cc14" stroke-width="2.2"/>
<ellipse cx="0" cy="0" rx="9.3" ry="6.6" fill="#d63ad6" transform="translate(648.90,370.20) rotate(35)"/>
<path d="M661.0,358.6 L663.1,356.7 L665.3,358.0 L667.3,358.6 L670.2,357.4 L672.7,355.8 L675.9,361.0 L665.3,369.0 L662.1,367.2Z" fill="#14cc14" stroke="#2fdc2f" stroke-width="0.4"/>
<circle cx="663.1" cy="358.8" r="0.9" fill="#c8f050"/>
<line x1="639.7" y1="359.1" x2="636.4" y2="372.3" stroke="#1478cc" stroke-width="2"/>
<line x1="636.4" y1="372.3" x2="638.0" y2="382.5" stroke="#1478cc" stroke-width="1.6" stroke-linecap="round"/>
<circle cx="639.7" cy="359.1" r="6.3" fill="#1478cc"/>
<circle cx="636.4" cy="372.3" r="6.3" fill="#1478cc"/>
<ellipse cx="0" cy="0" rx="9.3" ry="6.6" fill="#d63ad6" transform="translate(648.90,370.20) rotate(35)"/>
<path d="M619.5,379.8 L630.9,379.8 L630.9,389.2 L635.8,389.2 L625.2,399.3 L614.6,389.2 L619.5,389.2Z" fill="#c9c9c9" stroke="#555" stroke-width="0.9" stroke-linejoin="miter"/>
<rect x="618.5" y="419.2" width="3.7" height="15.5" fill="#b83ab8"/>
<ellipse cx="0" cy="0" rx="7.0" ry="11.5" fill="#a02fa6" transform="translate(624.60,411.20) rotate(30)"/>
<ellipse cx="0" cy="0" rx="7.0" ry="11.3" fill="#ffbf00" transform="translate(639.05,416.60) rotate(-25)"/>
<line x1="614.9" y1="428.8" x2="612.0" y2="442.7" stroke="#1478cc" stroke-width="2"/>
<line x1="612.0" y1="442.7" x2="614.0" y2="453.5" stroke="#1478cc" stroke-width="1.6" stroke-linecap="round"/>
<circle cx="614.9" cy="428.8" r="6.3" fill="#1478cc"/>
<circle cx="612.0" cy="442.7" r="6.3" fill="#1478cc"/>
<circle cx="629.2" cy="431.4" r="6.1" fill="#22eef6"/>
<ellipse cx="0" cy="0" rx="9.0" ry="6.5" fill="#d63ad6" transform="translate(623.30,440.60) rotate(35)"/>
<line x1="627.6" y1="437.6" x2="636.9" y2="435.5" stroke="#0a7a0a" stroke-width="3.6"/>
<line x1="627.6" y1="437.6" x2="636.9" y2="435.5" stroke="#14cc14" stroke-width="2.2"/>
<rect x="-5.6" y="-5.6" width="11.2" height="11.2" rx="0.8" fill="#14cc14" transform="translate(642.6,433.2) rotate(-28)"/>
<circle cx="637.6" cy="429.8" r="0.9" fill="#c8f050"/>
<line x1="632.6" y1="428.7" x2="638.8" y2="423.1" stroke="#111" stroke-width="1.3"/>
<circle cx="639.0" cy="422.9" r="0.9" fill="none" stroke="#111" stroke-width="0.5"/>
<text x="591.6" y="466.0" font-size="11.3">N = 0.9</text>
<text x="591.6" y="478.4" font-size="11.3">K<tspan font-size="6.8" dy="2.8">d</tspan><tspan dy="-2.8"> = 0.6 ± 0.2 µM</tspan></text>
<defs><filter id="gb" x="-10%" y="-10%" width="120%" height="120%"><feGaussianBlur stdDeviation="0.45"/></filter></defs>
<text x="1.6" y="504.6" font-size="15" font-weight="bold" fill="#000">c</text>
<text x="45.6" y="508.3" font-size="11.4" text-anchor="middle">HOIP RBR</text>
<text x="34.2" y="519.1" font-size="11.4" text-anchor="middle">WT</text>
<text x="103.2" y="519.1" font-size="11.4" text-anchor="middle">I807A</text>
<text x="170.3" y="519.5" font-size="11.4" text-anchor="middle">E809A</text>
<text x="237.8" y="519.5" font-size="11.4" text-anchor="middle">R770A</text>
<defs><linearGradient id="g9" x1="0" y1="0" x2="0" y2="1"><stop offset="0" stop-color="#e4e4e4"/><stop offset="0.6" stop-color="#d9d9d9"/><stop offset="1" stop-color="#cfcfcf"/></linearGradient></defs>
<rect x="9.8" y="522.6" width="45.9" height="83.2" fill="url(#g9)"/>
<g filter="url(#gb)">
<rect x="9.8" y="600.9" width="7.6" height="2.8" rx="1.2" fill="#000" fill-opacity="0.92"/>
<rect x="19.1" y="601.0" width="7.6" height="2.6" rx="1.2" fill="#000" fill-opacity="0.86"/>
<rect x="28.6" y="601.0" width="7.6" height="2.6" rx="1.2" fill="#000" fill-opacity="0.82"/>
<rect x="38.1" y="601.0" width="7.6" height="2.5" rx="1.2" fill="#000" fill-opacity="0.75"/>
<rect x="47.5" y="601.1" width="7.6" height="2.3" rx="1.2" fill="#000" fill-opacity="0.45"/>
<rect x="19.1" y="582.0" width="7.6" height="1.8" rx="1.2" fill="#000" fill-opacity="0.55"/>
<rect x="28.6" y="582.0" width="7.6" height="1.8" rx="1.2" fill="#000" fill-opacity="0.6"/>
<rect x="38.1" y="582.0" width="7.6" height="1.8" rx="1.2" fill="#000" fill-opacity="0.65"/>
<rect x="47.5" y="582.0" width="7.6" height="1.8" rx="1.2" fill="#000" fill-opacity="0.65"/>
<rect x="19.1" y="561.8" width="7.6" height="1.3" rx="1.2" fill="#000" fill-opacity="0.15"/>
<rect x="28.6" y="561.7" width="7.6" height="1.4" rx="1.2" fill="#000" fill-opacity="0.3"/>
<rect x="38.1" y="561.6" width="7.6" height="1.6" rx="1.2" fill="#000" fill-opacity="0.45"/>
<rect x="47.5" y="561.5" width="7.6" height="1.8" rx="1.2" fill="#000" fill-opacity="0.6"/>
<rect x="38.1" y="550.6" width="7.6" height="1.2" rx="1.2" fill="#000" fill-opacity="0.25"/>
<rect x="47.5" y="550.4" width="7.6" height="1.6" rx="1.2" fill="#000" fill-opacity="0.5"/>
<rect x="47.5" y="543.3" width="7.6" height="1.4" rx="1.2" fill="#000" fill-opacity="0.45"/>
<rect x="47.5" y="538.6" width="7.6" height="1.2" rx="1.2" fill="#000" fill-opacity="0.35"/>
<rect x="47.5" y="534.7" width="7.6" height="1.1" rx="1.2" fill="#000" fill-opacity="0.25"/>
<rect x="47.5" y="531.3" width="7.6" height="1.0" rx="1.2" fill="#000" fill-opacity="0.2"/>
<rect x="47.5" y="528.1" width="7.6" height="1.0" rx="1.2" fill="#000" fill-opacity="0.12"/>
</g>
<path d="M9.8,612.6 L55.8,606.6 L55.8,612.6Z" fill="#000"/>
<rect x="57.6" y="525.6" width="1.5" height="19.5" fill="#222"/>
<text x="60.0" y="541.2" font-size="9.2">Ub<tspan font-size="6" dy="2.2">n</tspan></text>
<defs><linearGradient id="g77" x1="0" y1="0" x2="0" y2="1"><stop offset="0" stop-color="#e4e4e4"/><stop offset="0.6" stop-color="#d9d9d9"/><stop offset="1" stop-color="#cfcfcf"/></linearGradient></defs>
<rect x="77.3" y="522.6" width="46.3" height="83.2" fill="url(#g77)"/>
<g filter="url(#gb)">
<rect x="78.0" y="600.7" width="7.6" height="2.6" rx="1.2" fill="#000" fill-opacity="0.85"/>
<rect x="87.4" y="600.7" width="7.6" height="2.6" rx="1.2" fill="#000" fill-opacity="0.85"/>
<rect x="96.8" y="600.7" width="7.6" height="2.6" rx="1.2" fill="#000" fill-opacity="0.85"/>
<rect x="106.1" y="600.7" width="7.6" height="2.6" rx="1.2" fill="#000" fill-opacity="0.85"/>
<rect x="115.4" y="600.7" width="7.6" height="2.6" rx="1.2" fill="#000" fill-opacity="0.85"/>
<rect x="87.4" y="581.8" width="7.6" height="1.6" rx="1.2" fill="#000" fill-opacity="0.3"/>
<rect x="96.8" y="581.8" width="7.6" height="1.7" rx="1.2" fill="#000" fill-opacity="0.42"/>
<rect x="106.1" y="581.7" width="7.6" height="1.8" rx="1.2" fill="#000" fill-opacity="0.5"/>
<rect x="115.4" y="581.2" width="7.6" height="1.9" rx="1.2" fill="#000" fill-opacity="0.6"/>
<rect x="96.8" y="561.9" width="7.6" height="1.2" rx="1.2" fill="#000" fill-opacity="0.08"/>
<rect x="106.1" y="561.8" width="7.6" height="1.3" rx="1.2" fill="#000" fill-opacity="0.18"/>
<rect x="115.4" y="561.0" width="7.6" height="1.6" rx="1.2" fill="#000" fill-opacity="0.45"/>
<rect x="115.4" y="550.4" width="7.6" height="1.2" rx="1.2" fill="#000" fill-opacity="0.15"/>
</g>
<path d="M77.3,612.6 L123.6,606.6 L123.6,612.6Z" fill="#000"/>
<defs><linearGradient id="g144" x1="0" y1="0" x2="0" y2="1"><stop offset="0" stop-color="#e4e4e4"/><stop offset="0.6" stop-color="#d9d9d9"/><stop offset="1" stop-color="#cfcfcf"/></linearGradient></defs>
<rect x="144.5" y="521.6" width="46.7" height="84.2" fill="url(#g144)"/>
<g filter="url(#gb)">
<rect x="144.6" y="600.0" width="7.6" height="2.6" rx="1.2" fill="#000" fill-opacity="0.85"/>
<rect x="153.8" y="600.0" width="7.6" height="2.6" rx="1.2" fill="#000" fill-opacity="0.85"/>
<rect x="163.1" y="600.0" width="7.6" height="2.6" rx="1.2" fill="#000" fill-opacity="0.85"/>
<rect x="172.4" y="600.0" width="7.6" height="2.6" rx="1.2" fill="#000" fill-opacity="0.85"/>
<rect x="181.6" y="600.0" width="7.6" height="2.6" rx="1.2" fill="#000" fill-opacity="0.85"/>
<rect x="153.8" y="579.9" width="7.6" height="1.6" rx="1.2" fill="#000" fill-opacity="0.35"/>
<rect x="163.1" y="579.9" width="7.6" height="1.7" rx="1.2" fill="#000" fill-opacity="0.45"/>
<rect x="172.4" y="579.8" width="7.6" height="1.8" rx="1.2" fill="#000" fill-opacity="0.55"/>
<rect x="181.6" y="579.8" width="7.6" height="1.9" rx="1.2" fill="#000" fill-opacity="0.6"/>
<rect x="172.4" y="559.8" width="7.6" height="1.2" rx="1.2" fill="#000" fill-opacity="0.15"/>
<rect x="181.6" y="559.7" width="7.6" height="1.4" rx="1.2" fill="#000" fill-opacity="0.35"/>
<rect x="181.6" y="547.8" width="7.6" height="1.0" rx="1.2" fill="#000" fill-opacity="0.12"/>
</g>
<path d="M144.5,612.6 L191.2,606.6 L191.2,612.6Z" fill="#000"/>
<defs><linearGradient id="g211" x1="0" y1="0" x2="0" y2="1"><stop offset="0" stop-color="#e4e4e4"/><stop offset="0.6" stop-color="#d9d9d9"/><stop offset="1" stop-color="#cfcfcf"/></linearGradient></defs>
<rect x="211.3" y="521.6" width="47.2" height="84.2" fill="url(#g211)"/>
<g filter="url(#gb)">
<rect x="211.6" y="599.5" width="7.6" height="2.6" rx="1.2" fill="#000" fill-opacity="0.88"/>
<rect x="220.8" y="599.5" width="7.6" height="2.6" rx="1.2" fill="#000" fill-opacity="0.88"/>
<rect x="230.1" y="599.5" width="7.6" height="2.6" rx="1.2" fill="#000" fill-opacity="0.88"/>
<rect x="239.4" y="599.5" width="7.6" height="2.6" rx="1.2" fill="#000" fill-opacity="0.88"/>
<rect x="248.7" y="599.5" width="7.6" height="2.6" rx="1.2" fill="#000" fill-opacity="0.88"/>
<rect x="211.6" y="579.7" width="7.6" height="1.2" rx="1.2" fill="#000" fill-opacity="0.1"/>
<rect x="220.8" y="579.5" width="7.6" height="1.6" rx="1.2" fill="#000" fill-opacity="0.35"/>
<rect x="230.1" y="579.4" width="7.6" height="1.7" rx="1.2" fill="#000" fill-opacity="0.45"/>
<rect x="239.4" y="579.4" width="7.6" height="1.8" rx="1.2" fill="#000" fill-opacity="0.55"/>
<rect x="248.7" y="579.3" width="7.6" height="1.9" rx="1.2" fill="#000" fill-opacity="0.6"/>
<rect x="230.1" y="559.9" width="7.6" height="1.0" rx="1.2" fill="#000" fill-opacity="0.08"/>
<rect x="239.4" y="559.8" width="7.6" height="1.2" rx="1.2" fill="#000" fill-opacity="0.15"/>
<rect x="248.7" y="559.7" width="7.6" height="1.4" rx="1.2" fill="#000" fill-opacity="0.35"/>
<rect x="248.7" y="547.8" width="7.6" height="1.0" rx="1.2" fill="#000" fill-opacity="0.12"/>
</g>
<path d="M211.3,612.6 L258.5,606.6 L258.5,612.6Z" fill="#000"/>
<text x="60.0" y="555.3" font-size="9.2">Ub<tspan font-size="6" dy="2.2">4</tspan></text>
<text x="60.0" y="564.5" font-size="9.2">Ub<tspan font-size="6" dy="2.2">3</tspan></text>
<text x="60.0" y="584.9" font-size="9.2">Ub<tspan font-size="6" dy="2.2">2</tspan></text>
<text x="60.0" y="604.3" font-size="9.2">Ub</text>
<text x="125.0" y="555.3" font-size="9.2">Ub<tspan font-size="6" dy="2.2">4</tspan></text>
<text x="125.0" y="564.5" font-size="9.2">Ub<tspan font-size="6" dy="2.2">3</tspan></text>
<text x="125.0" y="584.9" font-size="9.2">Ub<tspan font-size="6" dy="2.2">2</tspan></text>
<text x="125.0" y="604.3" font-size="9.2">Ub</text>
<text x="192.4" y="551.6" font-size="9.2">Ub<tspan font-size="6" dy="2.2">4</tspan></text>
<text x="192.4" y="563.0" font-size="9.2">Ub<tspan font-size="6" dy="2.2">3</tspan></text>
<text x="192.4" y="582.9" font-size="9.2">Ub<tspan font-size="6" dy="2.2">2</tspan></text>
<text x="192.4" y="603.2" font-size="9.2">Ub</text>
<text x="259.2" y="551.6" font-size="9.2">Ub<tspan font-size="6" dy="2.2">4</tspan></text>
<text x="259.2" y="563.0" font-size="9.2">Ub<tspan font-size="6" dy="2.2">3</tspan></text>
<text x="259.2" y="582.9" font-size="9.2">Ub<tspan font-size="6" dy="2.2">2</tspan></text>
<text x="259.2" y="603.2" font-size="9.2">Ub</text>
<text x="11.4" y="620.6" font-size="9.2" text-anchor="middle">0</text>
<text x="50.0" y="620.6" font-size="9.2" text-anchor="middle">120</text>
<text x="78.9" y="620.6" font-size="9.2" text-anchor="middle">0</text>
<text x="117.8" y="620.6" font-size="9.2" text-anchor="middle">120</text>
<text x="146.1" y="620.6" font-size="9.2" text-anchor="middle">0</text>
<text x="185.4" y="620.6" font-size="9.2" text-anchor="middle">120</text>
<text x="212.9" y="620.6" font-size="9.2" text-anchor="middle">0</text>
<text x="252.7" y="620.6" font-size="9.2" text-anchor="middle">120</text>
<text x="106.3" y="631.1" font-size="10.3">Time (min)</text>
<text x="273.0" y="512.5" font-size="15" font-weight="bold" fill="#000">d</text>
<text x="291.9" y="514.2" font-size="11.35">HOIP RBR</text>
<text x="364.2" y="514.2" font-size="11.35" text-anchor="middle">WT</text>
<text x="405.6" y="514.2" font-size="11.35" text-anchor="middle">R770A</text>
<line x1="343.8" y1="527.7" x2="343.8" y2="614.1" stroke="#000" stroke-width="1.3"/>
<line x1="339.8" y1="613.5" x2="343.8" y2="613.5" stroke="#000" stroke-width="1.2"/>
<text x="338.8" y="616.9" font-size="9.4" text-anchor="end">0</text>
<line x1="339.8" y1="599.3" x2="343.8" y2="599.3" stroke="#000" stroke-width="1.2"/>
<text x="338.8" y="602.7" font-size="9.4" text-anchor="end">25</text>
<line x1="339.8" y1="585.1" x2="343.8" y2="585.1" stroke="#000" stroke-width="1.2"/>
<text x="338.8" y="588.5" font-size="9.4" text-anchor="end">50</text>
<line x1="339.8" y1="570.9" x2="343.8" y2="570.9" stroke="#000" stroke-width="1.2"/>
<text x="338.8" y="574.3" font-size="9.4" text-anchor="end">75</text>
<line x1="339.8" y1="556.7" x2="343.8" y2="556.7" stroke="#000" stroke-width="1.2"/>
<text x="338.8" y="560.1" font-size="9.4" text-anchor="end">100</text>
<line x1="339.8" y1="542.5" x2="343.8" y2="542.5" stroke="#000" stroke-width="1.2"/>
<text x="338.8" y="545.9" font-size="9.4" text-anchor="end">125</text>
<line x1="339.8" y1="528.3" x2="343.8" y2="528.3" stroke="#000" stroke-width="1.2"/>
<text x="338.8" y="531.7" font-size="9.4" text-anchor="end">150</text>
<line x1="343.2" y1="613.5" x2="428.6" y2="613.5" stroke="#000" stroke-width="1.3"/>
<rect x="346.1" y="556.7" width="9.6" height="56.8" fill="#000"/>
<line x1="350.9" y1="613.5" x2="350.9" y2="617.5" stroke="#000" stroke-width="1.2"/>
<line x1="350.9" y1="556.7" x2="350.9" y2="555.9" stroke="#000" stroke-width="1.3"/>
<line x1="347.9" y1="555.9" x2="353.9" y2="555.9" stroke="#000" stroke-width="1.3"/>
<rect x="360.4" y="543.4" width="9.6" height="70.1" fill="#000"/>
<line x1="365.2" y1="613.5" x2="365.2" y2="617.5" stroke="#000" stroke-width="1.2"/>
<line x1="365.2" y1="543.4" x2="365.2" y2="542.6" stroke="#000" stroke-width="1.3"/>
<line x1="362.2" y1="542.6" x2="368.2" y2="542.6" stroke="#000" stroke-width="1.3"/>
<rect x="374.7" y="530.6" width="9.6" height="82.9" fill="#000"/>
<line x1="379.5" y1="613.5" x2="379.5" y2="617.5" stroke="#000" stroke-width="1.2"/>
<line x1="379.5" y1="530.6" x2="379.5" y2="529.8" stroke="#000" stroke-width="1.3"/>
<line x1="376.5" y1="529.8" x2="382.5" y2="529.8" stroke="#000" stroke-width="1.3"/>
<rect x="388.8" y="563.2" width="9.6" height="50.3" fill="#a8a8a8"/>
<line x1="393.6" y1="613.5" x2="393.6" y2="617.5" stroke="#000" stroke-width="1.2"/>
<line x1="393.6" y1="563.2" x2="393.6" y2="562.4" stroke="#000" stroke-width="1.3"/>
<line x1="390.6" y1="562.4" x2="396.6" y2="562.4" stroke="#000" stroke-width="1.3"/>
<rect x="403.0" y="563.2" width="9.6" height="50.3" fill="#a8a8a8"/>
<line x1="407.8" y1="613.5" x2="407.8" y2="617.5" stroke="#000" stroke-width="1.2"/>
<line x1="407.8" y1="563.2" x2="407.8" y2="562.4" stroke="#000" stroke-width="1.3"/>
<line x1="404.8" y1="562.4" x2="410.8" y2="562.4" stroke="#000" stroke-width="1.3"/>
<rect x="417.6" y="559.0" width="9.6" height="54.5" fill="#a8a8a8"/>
<line x1="422.4" y1="613.5" x2="422.4" y2="617.5" stroke="#000" stroke-width="1.2"/>
<line x1="422.4" y1="559.0" x2="422.4" y2="558.2" stroke="#000" stroke-width="1.3"/>
<line x1="419.4" y1="558.2" x2="425.4" y2="558.2" stroke="#000" stroke-width="1.3"/>
<text x="350.9" y="627.6" font-size="9.4" text-anchor="middle">0</text>
<text x="365.2" y="627.6" font-size="9.4" text-anchor="middle">10</text>
<text x="379.5" y="627.6" font-size="9.4" text-anchor="middle">25</text>
<text x="393.6" y="627.6" font-size="9.4" text-anchor="middle">0</text>
<text x="407.8" y="627.6" font-size="9.4" text-anchor="middle">10</text>
<text x="422.4" y="627.6" font-size="9.4" text-anchor="middle">25</text>
<text x="359.3" y="640.1" font-size="9.6">di-Ub<tspan font-size="6.2" dy="2.4">lin</tspan><tspan dy="-2.4"> (µM)</tspan></text>
<line x1="352.1" y1="521.9" x2="393.7" y2="521.9" stroke="#000" stroke-width="1.1"/>
<text x="372.9" y="522.0" font-size="8.0" text-anchor="middle">**</text>
<text x="365.2" y="543.6" font-size="8.0" text-anchor="middle">***</text>
<text x="379.5" y="530.6" font-size="8.0" text-anchor="middle">***</text>
<text x="407.8" y="559.6" font-size="7.9" text-anchor="middle">NS</text>
<text x="422.4" y="556.0" font-size="8.0" text-anchor="middle">*</text>
<text transform="translate(308.2,571.0) rotate(-90)" font-size="9.6" text-anchor="middle" fill="#111">HOIP~Ub thioester</text>
<text transform="translate(319.6,571.0) rotate(-90)" font-size="9.4" text-anchor="middle" fill="#111">(% of WT without di-Ub)</text>
<text x="462.1" y="514.8" font-size="11.35">HOIP RBR WT</text>
<line x1="482.4" y1="527.6" x2="482.4" y2="613.9" stroke="#000" stroke-width="1.3"/>
<line x1="478.4" y1="613.3" x2="482.4" y2="613.3" stroke="#000" stroke-width="1.2"/>
<text x="477.4" y="616.7" font-size="9.4" text-anchor="end">0</text>
<line x1="478.4" y1="599.1" x2="482.4" y2="599.1" stroke="#000" stroke-width="1.2"/>
<text x="477.4" y="602.5" font-size="9.4" text-anchor="end">25</text>
<line x1="478.4" y1="584.9" x2="482.4" y2="584.9" stroke="#000" stroke-width="1.2"/>
<text x="477.4" y="588.3" font-size="9.4" text-anchor="end">50</text>
<line x1="478.4" y1="570.8" x2="482.4" y2="570.8" stroke="#000" stroke-width="1.2"/>
<text x="477.4" y="574.1" font-size="9.4" text-anchor="end">75</text>
<line x1="478.4" y1="556.6" x2="482.4" y2="556.6" stroke="#000" stroke-width="1.2"/>
<text x="477.4" y="560.0" font-size="9.4" text-anchor="end">100</text>
<line x1="478.4" y1="542.4" x2="482.4" y2="542.4" stroke="#000" stroke-width="1.2"/>
<text x="477.4" y="545.8" font-size="9.4" text-anchor="end">125</text>
<line x1="478.4" y1="528.2" x2="482.4" y2="528.2" stroke="#000" stroke-width="1.2"/>
<text x="477.4" y="531.6" font-size="9.4" text-anchor="end">150</text>
<line x1="481.8" y1="613.3" x2="525.0" y2="613.3" stroke="#000" stroke-width="1.3"/>
<rect x="485.0" y="556.6" width="9.2" height="56.7" fill="#000"/>
<line x1="489.6" y1="556.6" x2="489.6" y2="555.9" stroke="#000" stroke-width="1.3"/>
<line x1="486.9" y1="555.9" x2="492.4" y2="555.9" stroke="#000" stroke-width="1.3"/>
<line x1="489.6" y1="613.3" x2="489.6" y2="617.0" stroke="#000" stroke-width="1.2"/>
<rect x="499.3" y="554.9" width="9.2" height="58.4" fill="#000"/>
<line x1="503.9" y1="554.9" x2="503.9" y2="554.2" stroke="#000" stroke-width="1.3"/>
<line x1="501.1" y1="554.2" x2="506.6" y2="554.2" stroke="#000" stroke-width="1.3"/>
<line x1="503.9" y1="613.3" x2="503.9" y2="617.0" stroke="#000" stroke-width="1.2"/>
<rect x="513.5" y="554.9" width="9.2" height="58.4" fill="#000"/>
<line x1="518.1" y1="554.9" x2="518.1" y2="554.2" stroke="#000" stroke-width="1.3"/>
<line x1="515.4" y1="554.2" x2="520.9" y2="554.2" stroke="#000" stroke-width="1.3"/>
<line x1="518.1" y1="613.3" x2="518.1" y2="617.0" stroke="#000" stroke-width="1.2"/>
<text x="489.6" y="626.8" font-size="9.4" text-anchor="middle">0</text>
<text x="503.9" y="626.8" font-size="9.4" text-anchor="middle">10</text>
<text x="518.1" y="626.8" font-size="9.4" text-anchor="middle">25</text>
<text x="503.9" y="550.6" font-size="7.9" text-anchor="middle">NS</text>
<text x="518.1" y="550.6" font-size="7.9" text-anchor="middle">NS</text>
<text x="465.8" y="639.4" font-size="9.6">I44A di-Ub<tspan font-size="6.2" dy="2.4">lin</tspan><tspan dy="-2.4"> (µM)</tspan></text>
<text transform="translate(457.8,571.0) rotate(-90)" font-size="9.6" text-anchor="middle" fill="#111">HOIP~Ub thioester</text>
<text x="560.0" y="512.5" font-size="15" font-weight="bold" fill="#000">e</text>
<text x="594.6" y="513.6" font-size="11.35">HOIP RBR WT</text>
<line x1="599.0" y1="528.2" x2="599.0" y2="613.9" stroke="#000" stroke-width="1.3"/>
<line x1="594.6" y1="613.3" x2="599.0" y2="613.3" stroke="#000" stroke-width="1.2"/>
<text x="593.6" y="616.7" font-size="10.2" text-anchor="end">0</text>
<line x1="594.6" y1="601.2" x2="599.0" y2="601.2" stroke="#000" stroke-width="1.2"/>
<text x="593.6" y="604.6" font-size="10.2" text-anchor="end">25</text>
<line x1="594.6" y1="589.2" x2="599.0" y2="589.2" stroke="#000" stroke-width="1.2"/>
<text x="593.6" y="592.6" font-size="10.2" text-anchor="end">50</text>
<line x1="594.6" y1="577.1" x2="599.0" y2="577.1" stroke="#000" stroke-width="1.2"/>
<text x="593.6" y="580.5" font-size="10.2" text-anchor="end">75</text>
<line x1="594.6" y1="565.0" x2="599.0" y2="565.0" stroke="#000" stroke-width="1.2"/>
<text x="593.6" y="568.4" font-size="10.2" text-anchor="end">100</text>
<line x1="594.6" y1="552.9" x2="599.0" y2="552.9" stroke="#000" stroke-width="1.2"/>
<text x="593.6" y="556.3" font-size="10.2" text-anchor="end">125</text>
<line x1="594.6" y1="540.9" x2="599.0" y2="540.9" stroke="#000" stroke-width="1.2"/>
<text x="593.6" y="544.3" font-size="10.2" text-anchor="end">150</text>
<line x1="594.6" y1="528.8" x2="599.0" y2="528.8" stroke="#000" stroke-width="1.2"/>
<text x="593.6" y="532.2" font-size="10.2" text-anchor="end">175</text>
<line x1="598.4" y1="613.3" x2="668.5" y2="613.3" stroke="#000" stroke-width="1.3"/>
<line x1="605.6" y1="565.7" x2="605.6" y2="560.9" stroke="#000" stroke-width="1.3"/>
<line x1="603.3" y1="560.9" x2="607.9" y2="560.9" stroke="#000" stroke-width="1.3"/>
<rect x="600.9" y="565.7" width="9.4" height="47.6" fill="#000"/>
<line x1="605.6" y1="613.3" x2="605.6" y2="617.1" stroke="#000" stroke-width="1.2"/>
<line x1="619.9" y1="550.9" x2="619.9" y2="546.4" stroke="#000" stroke-width="1.3"/>
<line x1="617.6" y1="546.4" x2="622.2" y2="546.4" stroke="#000" stroke-width="1.3"/>
<rect x="615.2" y="550.9" width="9.4" height="62.4" fill="#a3a3a3"/>
<line x1="619.9" y1="613.3" x2="619.9" y2="617.1" stroke="#000" stroke-width="1.2"/>
<line x1="634.2" y1="536.8" x2="634.2" y2="532.8" stroke="#000" stroke-width="1.3"/>
<line x1="631.9" y1="532.8" x2="636.5" y2="532.8" stroke="#000" stroke-width="1.3"/>
<rect x="629.5" y="536.8" width="9.4" height="76.5" fill="#a3a3a3"/>
<line x1="634.2" y1="613.3" x2="634.2" y2="617.1" stroke="#000" stroke-width="1.2"/>
<line x1="648.3" y1="552.0" x2="648.3" y2="548.5" stroke="#000" stroke-width="1.3"/>
<line x1="646.0" y1="548.5" x2="650.6" y2="548.5" stroke="#000" stroke-width="1.3"/>
<rect x="643.6" y="552.0" width="9.4" height="61.3" fill="#dcdcdc"/>
<line x1="648.3" y1="613.3" x2="648.3" y2="617.1" stroke="#000" stroke-width="1.2"/>
<line x1="662.4" y1="540.0" x2="662.4" y2="535.2" stroke="#000" stroke-width="1.3"/>
<line x1="660.1" y1="535.2" x2="664.7" y2="535.2" stroke="#000" stroke-width="1.3"/>
<rect x="657.7" y="540.0" width="9.4" height="73.3" fill="#dcdcdc"/>
<line x1="662.4" y1="613.3" x2="662.4" y2="617.1" stroke="#000" stroke-width="1.2"/>
<text x="605.6" y="628.8" font-size="9.4" text-anchor="middle">0</text>
<text x="619.9" y="628.8" font-size="9.4" text-anchor="middle">10</text>
<text x="634.2" y="628.8" font-size="9.4" text-anchor="middle">25</text>
<text x="648.3" y="628.8" font-size="9.4" text-anchor="middle">10</text>
<text x="662.4" y="628.8" font-size="9.4" text-anchor="middle">25</text>
<text x="619.9" y="543.7" font-size="7.9" text-anchor="middle">NS</text>
<text x="634.2" y="531.6" font-size="8.0" text-anchor="middle">**</text>
<text x="648.3" y="543.7" font-size="7.9" text-anchor="middle">NS</text>
<text x="662.4" y="534.2" font-size="8.0" text-anchor="middle">*</text>
<text x="626.9" y="640.2" font-size="9.6" text-anchor="middle">di-Ub<tspan font-size="6.2" dy="2.4">lin</tspan></text>
<text x="627.5" y="652.2" font-size="9.6" text-anchor="middle">(µM)</text>
<text x="663.2" y="640.2" font-size="9.6" text-anchor="middle">di-Ub<tspan font-size="6.2" dy="2.4">K48</tspan></text>
<text x="662.0" y="652.2" font-size="9.6" text-anchor="middle">(µM)</text>
<text transform="translate(573.4,571.0) rotate(-90)" font-size="9.6" text-anchor="middle" fill="#111">HOIP~Ub thioester</text>
<text x="2.0" y="669.9" font-size="15" font-weight="bold" fill="#000">f</text>
<text x="8.3" y="691.1" font-size="9.8">pcDNA3.1</text>
<text x="108.1" y="689.9" font-size="9.8" text-anchor="middle">+</text>
<text x="125.0" y="689.9" font-size="9.8" text-anchor="middle">-</text>
<text x="143.1" y="689.9" font-size="9.8" text-anchor="middle">-</text>
<text x="160.1" y="689.9" font-size="9.8" text-anchor="middle">-</text>
<text x="176.1" y="689.9" font-size="9.8" text-anchor="middle">+</text>
<text x="193.6" y="689.9" font-size="9.8" text-anchor="middle">-</text>
<text x="210.3" y="689.9" font-size="9.8" text-anchor="middle">-</text>
<text x="228.7" y="689.9" font-size="9.8" text-anchor="middle">-</text>
<text x="8.3" y="704.3" font-size="9.8">FLAG-HOIP WT</text>
<text x="108.1" y="703.1" font-size="9.8" text-anchor="middle">-</text>
<text x="125.0" y="703.1" font-size="9.8" text-anchor="middle">+</text>
<text x="143.1" y="703.1" font-size="9.8" text-anchor="middle">-</text>
<text x="160.1" y="703.1" font-size="9.8" text-anchor="middle">-</text>
<text x="176.1" y="703.1" font-size="9.8" text-anchor="middle">-</text>
<text x="193.6" y="703.1" font-size="9.8" text-anchor="middle">+</text>
<text x="210.3" y="703.1" font-size="9.8" text-anchor="middle">-</text>
<text x="228.7" y="703.1" font-size="9.8" text-anchor="middle">-</text>
<text x="8.3" y="717.4" font-size="9.8">FLAG-HOIP E809A</text>
<text x="108.1" y="716.2" font-size="9.8" text-anchor="middle">-</text>
<text x="125.0" y="716.2" font-size="9.8" text-anchor="middle">-</text>
<text x="143.1" y="716.2" font-size="9.8" text-anchor="middle">+</text>
<text x="160.1" y="716.2" font-size="9.8" text-anchor="middle">-</text>
<text x="176.1" y="716.2" font-size="9.8" text-anchor="middle">-</text>
<text x="193.6" y="716.2" font-size="9.8" text-anchor="middle">-</text>
<text x="210.3" y="716.2" font-size="9.8" text-anchor="middle">+</text>
<text x="228.7" y="716.2" font-size="9.8" text-anchor="middle">-</text>
<text x="8.3" y="729.4" font-size="9.8">FLAG-HOIP I807A</text>
<text x="108.1" y="728.2" font-size="9.8" text-anchor="middle">-</text>
<text x="125.0" y="728.2" font-size="9.8" text-anchor="middle">-</text>
<text x="143.1" y="728.2" font-size="9.8" text-anchor="middle">-</text>
<text x="160.1" y="728.2" font-size="9.8" text-anchor="middle">+</text>
<text x="176.1" y="728.2" font-size="9.8" text-anchor="middle">-</text>
<text x="193.6" y="728.2" font-size="9.8" text-anchor="middle">-</text>
<text x="210.3" y="728.2" font-size="9.8" text-anchor="middle">-</text>
<text x="228.7" y="728.2" font-size="9.8" text-anchor="middle">+</text>
<text x="200.4" y="673.1" font-size="9.8" text-anchor="middle">myc-HOIL-1L</text>
<line x1="171.8" y1="679.8" x2="231.6" y2="679.8" stroke="#000" stroke-width="1.6"/>
<defs><filter id="bl" x="-20%" y="-50%" width="140%" height="200%"><feGaussianBlur stdDeviation="0.85"/></filter><filter id="bl2" x="-20%" y="-50%" width="140%" height="200%"><feGaussianBlur stdDeviation="1.1"/></filter></defs>
<rect x="96.4" y="736.0" width="141.0" height="41.6" fill="#dddddd"/>
<rect x="96.5" y="784.3" width="141.6" height="62.2" fill="#e3e3e3"/>
<rect x="96.5" y="853.2" width="141.6" height="16.7" fill="#d9d9d9"/>
<g filter="url(#bl)">
<path d="M115.9,755.6 Q124.65,757.4 133.4,755.6 L133.4,765.2 Q124.65,760.6 115.9,765.2Z" fill="#050505"/>
<path d="M134.4,755.6 Q142.10000000000002,757.4 149.8,755.6 L149.8,765.2 Q142.10000000000002,760.6 134.4,765.2Z" fill="#050505"/>
<path d="M150.8,755.6 Q158.5,757.4 166.2,755.6 L166.2,765.2 Q158.5,760.6 150.8,765.2Z" fill="#050505"/>
<path d="M184.0,755.6 Q193.5,757.4 203.0,755.6 L203.0,765.2 Q193.5,760.6 184.0,765.2Z" fill="#050505"/>
<path d="M202.0,755.6 Q210.5,757.4 219.0,755.6 L219.0,765.2 Q210.5,760.6 202.0,765.2Z" fill="#050505"/>
<path d="M218.0,755.6 Q227.2,757.4 236.4,755.6 L236.4,765.2 Q227.2,760.6 218.0,765.2Z" fill="#050505"/>
</g>
<g filter="url(#bl2)">
<path d="M165.2,813.5 L236.6,812.5 L236.6,829.5 Q230,826.5 224,829.6 Q218,826.5 212,829.6 Q206,826.5 200,829.6 Q193,826.5 187,829.6 Q180,826.5 174,829.4 Q169,827 165.2,828.6Z" fill="#030303"/>
</g>
<g filter="url(#bl)">
<path d="M97,855.2 Q120,856 140,857.8 Q165,858.5 185,857.2 Q210,856 238,856.2 L238,864.5 Q210,865 185,864.5 Q165,865.5 140,864.6 Q120,863 97,862.2Z" fill="#4a4a4a"/>
<path d="M97,855.2 L118,856.4 L118,861.6 L97,860.8Z" fill="#333"/>
<rect x="196" y="854.6" width="4" height="1.8" fill="#222"/>
<rect x="206" y="854.6" width="4" height="1.8" fill="#222"/>
<rect x="216" y="854.6" width="4" height="1.8" fill="#222"/>
<rect x="228" y="854.6" width="4" height="1.8" fill="#222"/>
</g>
<text x="86.6" y="744.8" font-size="9.8" text-anchor="end">150</text>
<line x1="88.7" y1="742.6" x2="95.2" y2="742.6" stroke="#000" stroke-width="1.9"/>
<text x="86.6" y="776.5" font-size="9.8" text-anchor="end">100</text>
<line x1="88.7" y1="774.3" x2="95.2" y2="774.3" stroke="#000" stroke-width="1.9"/>
<text x="86.6" y="786.4" font-size="9.8" text-anchor="end">75</text>
<line x1="88.7" y1="784.6" x2="95.2" y2="784.6" stroke="#000" stroke-width="1.9"/>
<text x="86.6" y="834.9" font-size="9.8" text-anchor="end">50</text>
<line x1="88.7" y1="832.0" x2="95.2" y2="832.0" stroke="#000" stroke-width="1.9"/>
<text x="86.6" y="871.3" font-size="9.8" text-anchor="end">37</text>
<line x1="88.7" y1="868.4" x2="95.2" y2="868.4" stroke="#000" stroke-width="1.9"/>
<text x="21.9" y="763.4" font-size="9.8">IB: FLAG</text>
<text x="21.9" y="822.9" font-size="9.8">IB: myc</text>
<text x="21.9" y="864.0" font-size="9.8">IB: Actin</text>
<text x="240.4" y="762.4" font-size="9.8">HOIP</text>
<text x="241.3" y="822.9" font-size="9.8">HOIL-1L</text>
<text x="239.6" y="865.5" font-size="9.8">Actin</text>
<text x="281.0" y="669.6" font-size="15" font-weight="bold" fill="#000">g</text>
<rect x="290.2" y="720.4" width="107.9" height="108.8" fill="#000"/>
<defs><filter id="rb" x="-20%" y="-100%" width="140%" height="300%"><feGaussianBlur stdDeviation="0.75"/></filter></defs>
<g filter="url(#rb)">
<rect x="292" y="724" width="13" height="100" fill="#5a0000" opacity="0.6"/>
<rect x="291.6" y="722.1" width="13.6" height="1.6" rx="1.5" fill="#ff1a1a" opacity="1.0"/>
<rect x="291.6" y="729.9" width="13.6" height="1.6" rx="1.5" fill="#ff1a1a" opacity="0.35"/>
<rect x="291.6" y="736.2" width="13.6" height="2.0" rx="1.5" fill="#ff1a1a" opacity="0.9"/>
<rect x="291.6" y="740.0" width="13.6" height="1.8" rx="1.5" fill="#ff1a1a" opacity="0.9"/>
<rect x="291.6" y="748.0" width="13.6" height="2.0" rx="1.5" fill="#ff1a1a" opacity="0.95"/>
<rect x="291.6" y="758.1" width="13.6" height="3.2" rx="1.5" fill="#ff1a1a" opacity="1.0"/>
<rect x="291.6" y="772.1" width="13.6" height="2.2" rx="1.5" fill="#ff1a1a" opacity="0.95"/>
<rect x="291.6" y="788.8" width="13.6" height="2.2" rx="1.5" fill="#ff1a1a" opacity="0.9"/>
<rect x="291.6" y="804.7" width="13.6" height="3.2" rx="1.5" fill="#ff1a1a" opacity="1.0"/>
<rect x="291.6" y="815.8" width="13.6" height="5.5" rx="1.5" fill="#ff1a1a" opacity="1.0"/>
<rect x="308.2" y="734.5" width="13.0" height="1.4" rx="1.4" fill="#ff1a1a" opacity="0.22"/>
<rect x="308.2" y="753.0" width="13.0" height="2.4" rx="1.4" fill="#ff1a1a" opacity="0.72"/>
<rect x="308.2" y="758.9" width="13.0" height="3.0" rx="1.4" fill="#ff1a1a" opacity="0.95"/>
<rect x="308.2" y="781.3" width="13.0" height="3.0" rx="1.4" fill="#ff1a1a" opacity="1.00"/>
<rect x="308.2" y="797.2" width="13.0" height="1.8" rx="1.4" fill="#ff1a1a" opacity="0.22"/>
<rect x="308.2" y="813.8" width="13.0" height="5.2" rx="1.4" fill="#ff1a1a" opacity="1.00"/>
<rect x="308.2" y="808" width="13.0" height="6" fill="#ff1a1a" opacity="0.15"/>
<rect x="323.6" y="734.5" width="13.0" height="1.4" rx="1.4" fill="#ff1a1a" opacity="0.22"/>
<rect x="323.6" y="753.0" width="13.0" height="2.4" rx="1.4" fill="#ff1a1a" opacity="0.76"/>
<rect x="323.6" y="758.9" width="13.0" height="3.0" rx="1.4" fill="#ff1a1a" opacity="0.95"/>
<rect x="323.6" y="781.3" width="13.0" height="3.0" rx="1.4" fill="#ff1a1a" opacity="1.00"/>
<rect x="323.6" y="797.2" width="13.0" height="1.8" rx="1.4" fill="#ff1a1a" opacity="0.22"/>
<rect x="323.6" y="813.8" width="13.0" height="5.2" rx="1.4" fill="#ff1a1a" opacity="1.00"/>
<rect x="323.6" y="808" width="13.0" height="6" fill="#ff1a1a" opacity="0.15"/>
<rect x="338.9" y="734.5" width="13.0" height="1.4" rx="1.4" fill="#ff1a1a" opacity="0.22"/>
<rect x="338.9" y="753.0" width="13.0" height="2.4" rx="1.4" fill="#ff1a1a" opacity="0.80"/>
<rect x="338.9" y="758.9" width="13.0" height="3.0" rx="1.4" fill="#ff1a1a" opacity="0.95"/>
<rect x="338.9" y="781.3" width="13.0" height="3.0" rx="1.4" fill="#ff1a1a" opacity="1.00"/>
<rect x="338.9" y="797.2" width="13.0" height="1.8" rx="1.4" fill="#ff1a1a" opacity="0.22"/>
<rect x="338.9" y="813.8" width="13.0" height="5.2" rx="1.4" fill="#ff1a1a" opacity="1.00"/>
<rect x="338.9" y="808" width="13.0" height="6" fill="#ff1a1a" opacity="0.15"/>
<rect x="353.8" y="734.5" width="13.0" height="1.4" rx="1.4" fill="#ff1a1a" opacity="0.22"/>
<rect x="353.8" y="753.0" width="13.0" height="2.4" rx="1.4" fill="#ff1a1a" opacity="0.84"/>
<rect x="353.8" y="758.9" width="13.0" height="3.0" rx="1.4" fill="#ff1a1a" opacity="0.95"/>
<rect x="353.8" y="781.3" width="13.0" height="3.0" rx="1.4" fill="#ff1a1a" opacity="1.00"/>
<rect x="353.8" y="797.2" width="13.0" height="1.8" rx="1.4" fill="#ff1a1a" opacity="0.22"/>
<rect x="353.8" y="813.8" width="13.0" height="5.2" rx="1.4" fill="#ff1a1a" opacity="1.00"/>
<rect x="353.8" y="808" width="13.0" height="6" fill="#ff1a1a" opacity="0.15"/>
<rect x="369.1" y="734.5" width="13.0" height="1.4" rx="1.4" fill="#ff1a1a" opacity="0.22"/>
<rect x="369.1" y="753.0" width="13.0" height="2.4" rx="1.4" fill="#ff1a1a" opacity="0.88"/>
<rect x="369.1" y="758.9" width="13.0" height="3.0" rx="1.4" fill="#ff1a1a" opacity="0.95"/>
<rect x="369.1" y="781.3" width="13.0" height="3.0" rx="1.4" fill="#ff1a1a" opacity="1.00"/>
<rect x="369.1" y="797.2" width="13.0" height="1.8" rx="1.4" fill="#ff1a1a" opacity="0.22"/>
<rect x="369.1" y="813.8" width="13.0" height="5.2" rx="1.4" fill="#ff1a1a" opacity="1.00"/>
<rect x="369.1" y="808" width="13.0" height="6" fill="#ff1a1a" opacity="0.15"/>
<rect x="384.5" y="734.5" width="13.0" height="1.4" rx="1.4" fill="#ff1a1a" opacity="0.22"/>
<rect x="384.5" y="753.0" width="13.0" height="2.4" rx="1.4" fill="#ff1a1a" opacity="0.92"/>
<rect x="384.5" y="758.9" width="13.0" height="3.0" rx="1.4" fill="#ff1a1a" opacity="0.95"/>
<rect x="384.5" y="781.3" width="13.0" height="3.0" rx="1.4" fill="#ff1a1a" opacity="1.00"/>
<rect x="384.5" y="797.2" width="13.0" height="1.8" rx="1.4" fill="#ff1a1a" opacity="0.22"/>
<rect x="384.5" y="813.8" width="13.0" height="5.2" rx="1.4" fill="#ff1a1a" opacity="1.00"/>
<rect x="384.5" y="808" width="13.0" height="6" fill="#ff1a1a" opacity="0.15"/>
</g>
<path d="M398.6,755.0 L401.6,753.2" stroke="#000" stroke-width="0.8"/>
<path d="M398.6,760.4 L401.6,762.6" stroke="#000" stroke-width="0.8"/>
<text x="402.6" y="755.6" font-size="9.8">HOIP~Ub</text>
<text x="402.6" y="767.4" font-size="9.8">HOIP</text>
<text x="401.8" y="785.4" font-size="9.8">UbcH5B~Ub</text>
<text x="401.8" y="818.1" font-size="9.8">Ub</text>
<text x="314.7" y="838.6" font-size="9.8" text-anchor="middle">5</text>
<text x="330.1" y="838.6" font-size="9.8" text-anchor="middle">10</text>
<text x="345.4" y="838.6" font-size="9.8" text-anchor="middle">15</text>
<text x="360.3" y="838.6" font-size="9.8" text-anchor="middle">20</text>
<text x="375.6" y="838.6" font-size="9.8" text-anchor="middle">30</text>
<text x="391.0" y="838.6" font-size="9.8" text-anchor="middle">60</text>
<text x="348.4" y="852.9" font-size="9.8" text-anchor="middle">Time (sec)</text>
<line x1="513.4" y1="729.2" x2="513.4" y2="837.1" stroke="#000" stroke-width="1.3"/>
<line x1="512.8" y1="836.4" x2="672.0" y2="836.4" stroke="#000" stroke-width="1.3"/>
<line x1="506.59999999999997" y1="836.4" x2="513.4" y2="836.4" stroke="#000" stroke-width="1.2"/>
<text x="505.2" y="840.2" font-size="10.7" text-anchor="end" letter-spacing="1.4">0</text>
<line x1="506.59999999999997" y1="800.8" x2="513.4" y2="800.8" stroke="#000" stroke-width="1.2"/>
<text x="505.2" y="804.6" font-size="10.7" text-anchor="end" letter-spacing="1.4">20</text>
<line x1="506.59999999999997" y1="765.3" x2="513.4" y2="765.3" stroke="#000" stroke-width="1.2"/>
<text x="505.2" y="769.1" font-size="10.7" text-anchor="end" letter-spacing="1.4">40</text>
<line x1="506.59999999999997" y1="729.7" x2="513.4" y2="729.7" stroke="#000" stroke-width="1.2"/>
<text x="505.2" y="733.5" font-size="10.7" text-anchor="end" letter-spacing="1.4">60</text>
<line x1="513.4" y1="836.4" x2="513.4" y2="843.0" stroke="#000" stroke-width="1.2"/>
<text x="514.1" y="854.3" font-size="10.7" text-anchor="middle" letter-spacing="1.4">0</text>
<line x1="539.7" y1="836.4" x2="539.7" y2="843.0" stroke="#000" stroke-width="1.2"/>
<text x="540.4" y="854.3" font-size="10.7" text-anchor="middle" letter-spacing="1.4">10</text>
<line x1="566.0" y1="836.4" x2="566.0" y2="843.0" stroke="#000" stroke-width="1.2"/>
<text x="566.7" y="854.3" font-size="10.7" text-anchor="middle" letter-spacing="1.4">20</text>
<line x1="592.4" y1="836.4" x2="592.4" y2="843.0" stroke="#000" stroke-width="1.2"/>
<text x="593.1" y="854.3" font-size="10.7" text-anchor="middle" letter-spacing="1.4">30</text>
<line x1="618.7" y1="836.4" x2="618.7" y2="843.0" stroke="#000" stroke-width="1.2"/>
<text x="619.4" y="854.3" font-size="10.7" text-anchor="middle" letter-spacing="1.4">40</text>
<line x1="645.0" y1="836.4" x2="645.0" y2="843.0" stroke="#000" stroke-width="1.2"/>
<text x="645.7" y="854.3" font-size="10.7" text-anchor="middle" letter-spacing="1.4">50</text>
<line x1="671.3" y1="836.4" x2="671.3" y2="843.0" stroke="#000" stroke-width="1.2"/>
<text x="672.0" y="854.3" font-size="10.7" text-anchor="middle" letter-spacing="1.4">60</text>
<text x="596.0" y="867.4" font-size="10.7" text-anchor="middle" letter-spacing="0.3">Time (sec)</text>
<text transform="translate(474.6,773.0) rotate(-90)" font-size="11.0" text-anchor="middle" fill="#111" letter-spacing="0.85">HOIP~Ub thioester</text>
<text transform="translate(484.6,773.0) rotate(-90)" font-size="11.0" text-anchor="middle" fill="#111" letter-spacing="0.9">(% of total HOIP)</text>
<path d="M526.6,799.6 L526.6,816.3 M524.2,799.6 L529.0,799.6 M524.2,816.3 L529.0,816.3" stroke="#000" stroke-width="1.3" fill="none"/>
<circle cx="526.6" cy="807.9" r="2.9" fill="#000"/>
<path d="M539.7,781.3 L539.7,804.4 M537.3,781.3 L542.1,781.3 M537.3,804.4 L542.1,804.4" stroke="#e01818" stroke-width="1.3" fill="none"/>
<circle cx="539.7" cy="792.8" r="2.9" fill="#e01818"/>
<path d="M552.9,770.4 L552.9,783.2 M550.5,770.4 L555.3,770.4 M550.5,783.2 L555.3,783.2" stroke="#000" stroke-width="1.3" fill="none"/>
<circle cx="552.9" cy="776.8" r="2.9" fill="#000"/>
<path d="M566.0,763.1 L566.0,774.5 M563.6,763.1 L568.4,763.1 M563.6,774.5 L568.4,774.5" stroke="#000" stroke-width="1.3" fill="none"/>
<circle cx="566.0" cy="768.8" r="2.9" fill="#000"/>
<path d="M592.4,756.2 L592.4,761.9 M590.0,756.2 L594.8,756.2 M590.0,761.9 L594.8,761.9" stroke="#000" stroke-width="1.3" fill="none"/>
<circle cx="592.4" cy="759.0" r="2.9" fill="#000"/>
<circle cx="671.3" cy="738.6" r="2.9" fill="#000"/>
</svg>
</body></html>
